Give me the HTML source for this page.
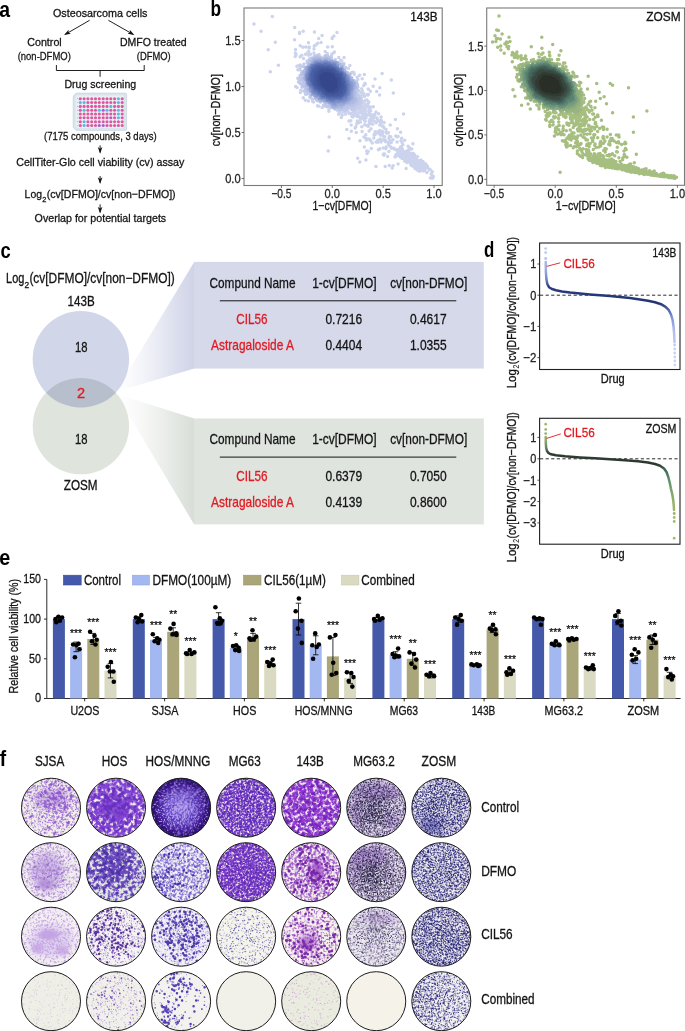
<!DOCTYPE html>
<html lang="en"><head><meta charset="utf-8"><title>Figure</title>
<style>
html,body{margin:0;padding:0;background:#fff}
svg{display:block;font-family:'Liberation Sans', sans-serif;fill:#141414}
</style></head><body>
<svg width="685" height="1031" viewBox="0 0 685 1031">
<defs>
<marker id="ah" viewBox="0 0 10 10" refX="8" refY="5" markerWidth="7" markerHeight="7" orient="auto-start-reverse"><path d="M0,1.5 L10,5 L0,8.5 L2.5,5 z" fill="#141414"/></marker>
<linearGradient id="fg1" gradientUnits="userSpaceOnUse" x1="118" y1="0" x2="194" y2="0"><stop offset="0" stop-color="#dcdfee" stop-opacity="0"/><stop offset="0.3" stop-color="#dcdfee" stop-opacity="0.3"/><stop offset="0.75" stop-color="#d6d9ea" stop-opacity="0.85"/><stop offset="1" stop-color="#cfd3e6" stop-opacity="1"/></linearGradient>
<linearGradient id="fg2" gradientUnits="userSpaceOnUse" x1="118" y1="0" x2="194" y2="0"><stop offset="0" stop-color="#e4e8e3" stop-opacity="0"/><stop offset="0.3" stop-color="#e4e8e3" stop-opacity="0.3"/><stop offset="0.75" stop-color="#dfe4df" stop-opacity="0.85"/><stop offset="1" stop-color="#d8ddd7" stop-opacity="1"/></linearGradient>
<clipPath id="lens"><circle cx="80.9" cy="426.1" r="48.2"/></clipPath>
<linearGradient id="dgA" gradientUnits="userSpaceOnUse" x1="0" y1="243" x2="0" y2="369.5"><stop offset="0.000" stop-color="#b9c5ee"/><stop offset="0.198" stop-color="#a3b2e6"/><stop offset="0.292" stop-color="#6d80c4"/><stop offset="0.348" stop-color="#2a3c80"/><stop offset="0.474" stop-color="#23346f"/><stop offset="0.522" stop-color="#4b5fa8"/><stop offset="0.593" stop-color="#8497d6"/><stop offset="0.704" stop-color="#b3c0ec"/><stop offset="1.000" stop-color="#cdd7f4"/></linearGradient>
<linearGradient id="dgB" gradientUnits="userSpaceOnUse" x1="0" y1="418.3" x2="0" y2="544.2"><stop offset="0.000" stop-color="#a3bb70"/><stop offset="0.172" stop-color="#93ae6b"/><stop offset="0.236" stop-color="#5c8268"/><stop offset="0.276" stop-color="#2f3d33"/><stop offset="0.363" stop-color="#2c382f"/><stop offset="0.411" stop-color="#3f6a58"/><stop offset="0.490" stop-color="#5f9070"/><stop offset="0.585" stop-color="#7fa56c"/><stop offset="0.689" stop-color="#9bb46c"/><stop offset="0.997" stop-color="#a3bb70"/></linearGradient>
<filter id="bl3" x="-0.5" y="-0.5" width="2" height="2"><feGaussianBlur stdDeviation="3"/></filter>
<filter id="bl5" x="-0.5" y="-0.5" width="2" height="2"><feGaussianBlur stdDeviation="5"/></filter>
<filter id="bl2" x="-0.5" y="-0.5" width="2" height="2"><feGaussianBlur stdDeviation="1.8"/></filter>
<clipPath id="wc1"><circle cx="51.0" cy="807.7" r="29.6"/></clipPath>
<filter id="wf1_0" x="0" y="0" width="1" height="1" color-interpolation-filters="sRGB"><feTurbulence type="fractalNoise" baseFrequency="0.6" numOctaves="3" seed="11" result="t"/><feColorMatrix in="t" type="matrix" values="0 0 0 0 0 0 0 0 0 0 0 0 0 0 0 1 0 0 0 0" result="n"/><feColorMatrix in="SourceGraphic" type="matrix" values="0 0 0 0 0 0 0 0 0 0 0 0 0 0 0 0 0 0 1 0" result="s"/><feComposite in="n" in2="s" operator="arithmetic" k1="0" k2="1" k3="1" k4="-1" result="m"/><feComponentTransfer in="m" result="m2"><feFuncA type="linear" slope="9" intercept="0"/></feComponentTransfer><feFlood flood-color="#a070d4" result="c"/><feComposite in="c" in2="m2" operator="in" result="o"/><feGaussianBlur in="o" stdDeviation="0.3"/></filter>
<radialGradient id="wg1_0" cx="0.5" cy="0.38" r="0.55"><stop offset="0" stop-color="#000" stop-opacity="0.55"/><stop offset="1" stop-color="#000" stop-opacity="0.44"/></radialGradient>
<filter id="wf1_1" x="0" y="0" width="1" height="1" color-interpolation-filters="sRGB"><feTurbulence type="fractalNoise" baseFrequency="0.3" numOctaves="3" seed="12" result="t"/><feColorMatrix in="t" type="matrix" values="0 0 0 0 0 0 0 0 0 0 0 0 0 0 0 1 0 0 0 0" result="n"/><feColorMatrix in="SourceGraphic" type="matrix" values="0 0 0 0 0 0 0 0 0 0 0 0 0 0 0 0 0 0 1 0" result="s"/><feComposite in="n" in2="s" operator="arithmetic" k1="0" k2="1" k3="1" k4="-1" result="m"/><feComponentTransfer in="m" result="m2"><feFuncA type="linear" slope="9" intercept="0"/></feComponentTransfer><feFlood flood-color="#8c58cc" result="c"/><feComposite in="c" in2="m2" operator="in" result="o"/><feGaussianBlur in="o" stdDeviation="0.3"/></filter>
<radialGradient id="wg1_1" cx="0.5" cy="0.35" r="0.5"><stop offset="0" stop-color="#000" stop-opacity="0.53"/><stop offset="1" stop-color="#000" stop-opacity="0.37"/></radialGradient>
<clipPath id="wc2"><circle cx="116.05" cy="807.7" r="29.6"/></clipPath>
<filter id="wf2_0" x="0" y="0" width="1" height="1" color-interpolation-filters="sRGB"><feTurbulence type="fractalNoise" baseFrequency="0.27" numOctaves="3" seed="21" result="t"/><feColorMatrix in="t" type="matrix" values="0 0 0 0 0 0 0 0 0 0 0 0 0 0 0 1 0 0 0 0" result="n"/><feColorMatrix in="SourceGraphic" type="matrix" values="0 0 0 0 0 0 0 0 0 0 0 0 0 0 0 0 0 0 1 0" result="s"/><feComposite in="n" in2="s" operator="arithmetic" k1="0" k2="1" k3="1" k4="-1" result="m"/><feComponentTransfer in="m" result="m2"><feFuncA type="linear" slope="9" intercept="0"/></feComponentTransfer><feFlood flood-color="#8644d4" result="c"/><feComposite in="c" in2="m2" operator="in" result="o"/><feGaussianBlur in="o" stdDeviation="0.3"/></filter>
<radialGradient id="wg2_0" cx="0.45" cy="0.5" r="0.5"><stop offset="0" stop-color="#000" stop-opacity="0.71"/><stop offset="1" stop-color="#000" stop-opacity="0.58"/></radialGradient>
<filter id="wf2_1" x="0" y="0" width="1" height="1" color-interpolation-filters="sRGB"><feTurbulence type="fractalNoise" baseFrequency="0.27" numOctaves="3" seed="21" result="t"/><feColorMatrix in="t" type="matrix" values="0 0 0 0 0 0 0 0 0 0 0 0 0 0 0 1 0 0 0 0" result="n"/><feColorMatrix in="SourceGraphic" type="matrix" values="0 0 0 0 0 0 0 0 0 0 0 0 0 0 0 0 0 0 1 0" result="s"/><feComposite in="n" in2="s" operator="arithmetic" k1="0" k2="1" k3="1" k4="-1" result="m"/><feComponentTransfer in="m" result="m2"><feFuncA type="linear" slope="9" intercept="0"/></feComponentTransfer><feFlood flood-color="#6630c0" result="c"/><feComposite in="c" in2="m2" operator="in" result="o"/><feGaussianBlur in="o" stdDeviation="0.3"/></filter>
<radialGradient id="wg2_1" cx="0.45" cy="0.5" r="0.5"><stop offset="0" stop-color="#000" stop-opacity="0.59"/><stop offset="1" stop-color="#000" stop-opacity="0.45"/></radialGradient>
<clipPath id="wc3"><circle cx="181.1" cy="807.7" r="29.6"/></clipPath>
<filter id="wf3_0" x="0" y="0" width="1" height="1" color-interpolation-filters="sRGB"><feTurbulence type="fractalNoise" baseFrequency="0.3" numOctaves="3" seed="32" result="t"/><feColorMatrix in="t" type="matrix" values="0 0 0 0 0 0 0 0 0 0 0 0 0 0 0 1 0 0 0 0" result="n"/><feColorMatrix in="SourceGraphic" type="matrix" values="0 0 0 0 0 0 0 0 0 0 0 0 0 0 0 0 0 0 1 0" result="s"/><feComposite in="n" in2="s" operator="arithmetic" k1="0" k2="1" k3="1" k4="-1" result="m"/><feComponentTransfer in="m" result="m2"><feFuncA type="linear" slope="9" intercept="0"/></feComponentTransfer><feFlood flood-color="#7a58d2" result="c"/><feComposite in="c" in2="m2" operator="in" result="o"/><feGaussianBlur in="o" stdDeviation="0.3"/></filter>
<radialGradient id="wg3_0" cx="0.5" cy="0.5" r="0.5"><stop offset="0" stop-color="#000" stop-opacity="0.62"/><stop offset="1" stop-color="#000" stop-opacity="0.34"/></radialGradient>
<filter id="wf3_1" x="0" y="0" width="1" height="1" color-interpolation-filters="sRGB"><feTurbulence type="fractalNoise" baseFrequency="0.7" numOctaves="3" seed="31" result="t"/><feColorMatrix in="t" type="matrix" values="0 0 0 0 0 0 0 0 0 0 0 0 0 0 0 1 0 0 0 0" result="n"/><feColorMatrix in="SourceGraphic" type="matrix" values="0 0 0 0 0 0 0 0 0 0 0 0 0 0 0 0 0 0 1 0" result="s"/><feComposite in="n" in2="s" operator="arithmetic" k1="0" k2="1" k3="1" k4="-1" result="m"/><feComponentTransfer in="m" result="m2"><feFuncA type="linear" slope="9" intercept="0"/></feComponentTransfer><feFlood flood-color="#b4a2ee" result="c"/><feComposite in="c" in2="m2" operator="in" result="o"/><feGaussianBlur in="o" stdDeviation="0.3"/></filter>
<radialGradient id="wg3_1" cx="0.5" cy="0.5" r="0.5"><stop offset="0" stop-color="#000" stop-opacity="0.62"/><stop offset="1" stop-color="#000" stop-opacity="0.38"/></radialGradient>
<clipPath id="wc4"><circle cx="246.14999999999998" cy="807.7" r="29.6"/></clipPath>
<filter id="wf4_0" x="0" y="0" width="1" height="1" color-interpolation-filters="sRGB"><feTurbulence type="fractalNoise" baseFrequency="0.55" numOctaves="3" seed="41" result="t"/><feColorMatrix in="t" type="matrix" values="0 0 0 0 0 0 0 0 0 0 0 0 0 0 0 1 0 0 0 0" result="n"/><feColorMatrix in="SourceGraphic" type="matrix" values="0 0 0 0 0 0 0 0 0 0 0 0 0 0 0 0 0 0 1 0" result="s"/><feComposite in="n" in2="s" operator="arithmetic" k1="0" k2="1" k3="1" k4="-1" result="m"/><feComponentTransfer in="m" result="m2"><feFuncA type="linear" slope="9" intercept="0"/></feComponentTransfer><feFlood flood-color="#7638cc" result="c"/><feComposite in="c" in2="m2" operator="in" result="o"/><feGaussianBlur in="o" stdDeviation="0.3"/></filter>
<filter id="wf4_1" x="0" y="0" width="1" height="1" color-interpolation-filters="sRGB"><feTurbulence type="fractalNoise" baseFrequency="0.55" numOctaves="3" seed="41" result="t"/><feColorMatrix in="t" type="matrix" values="0 0 0 0 0 0 0 0 0 0 0 0 0 0 0 1 0 0 0 0" result="n"/><feColorMatrix in="SourceGraphic" type="matrix" values="0 0 0 0 0 0 0 0 0 0 0 0 0 0 0 0 0 0 1 0" result="s"/><feComposite in="n" in2="s" operator="arithmetic" k1="0" k2="1" k3="1" k4="-1" result="m"/><feComponentTransfer in="m" result="m2"><feFuncA type="linear" slope="9" intercept="0"/></feComponentTransfer><feFlood flood-color="#5222aa" result="c"/><feComposite in="c" in2="m2" operator="in" result="o"/><feGaussianBlur in="o" stdDeviation="0.3"/></filter>
<clipPath id="wc5"><circle cx="311.2" cy="807.7" r="29.6"/></clipPath>
<filter id="wf5_0" x="0" y="0" width="1" height="1" color-interpolation-filters="sRGB"><feTurbulence type="fractalNoise" baseFrequency="0.3" numOctaves="3" seed="51" result="t"/><feColorMatrix in="t" type="matrix" values="0 0 0 0 0 0 0 0 0 0 0 0 0 0 0 1 0 0 0 0" result="n"/><feColorMatrix in="SourceGraphic" type="matrix" values="0 0 0 0 0 0 0 0 0 0 0 0 0 0 0 0 0 0 1 0" result="s"/><feComposite in="n" in2="s" operator="arithmetic" k1="0" k2="1" k3="1" k4="-1" result="m"/><feComponentTransfer in="m" result="m2"><feFuncA type="linear" slope="9" intercept="0"/></feComponentTransfer><feFlood flood-color="#9238d2" result="c"/><feComposite in="c" in2="m2" operator="in" result="o"/><feGaussianBlur in="o" stdDeviation="0.3"/></filter>
<radialGradient id="wg5_0" cx="0.5" cy="0.5" r="0.5"><stop offset="0" stop-color="#000" stop-opacity="0.62"/><stop offset="1" stop-color="#000" stop-opacity="0.58"/></radialGradient>
<filter id="wf5_1" x="0" y="0" width="1" height="1" color-interpolation-filters="sRGB"><feTurbulence type="fractalNoise" baseFrequency="0.3" numOctaves="3" seed="51" result="t"/><feColorMatrix in="t" type="matrix" values="0 0 0 0 0 0 0 0 0 0 0 0 0 0 0 1 0 0 0 0" result="n"/><feColorMatrix in="SourceGraphic" type="matrix" values="0 0 0 0 0 0 0 0 0 0 0 0 0 0 0 0 0 0 1 0" result="s"/><feComposite in="n" in2="s" operator="arithmetic" k1="0" k2="1" k3="1" k4="-1" result="m"/><feComponentTransfer in="m" result="m2"><feFuncA type="linear" slope="9" intercept="0"/></feComponentTransfer><feFlood flood-color="#7222b8" result="c"/><feComposite in="c" in2="m2" operator="in" result="o"/><feGaussianBlur in="o" stdDeviation="0.3"/></filter>
<radialGradient id="wg5_1" cx="0.5" cy="0.5" r="0.5"><stop offset="0" stop-color="#000" stop-opacity="0.51"/><stop offset="1" stop-color="#000" stop-opacity="0.47"/></radialGradient>
<clipPath id="wc6"><circle cx="376.25" cy="807.7" r="29.6"/></clipPath>
<filter id="wf6_0" x="0" y="0" width="1" height="1" color-interpolation-filters="sRGB"><feTurbulence type="fractalNoise" baseFrequency="0.8" numOctaves="3" seed="61" result="t"/><feColorMatrix in="t" type="matrix" values="0 0 0 0 0 0 0 0 0 0 0 0 0 0 0 1 0 0 0 0" result="n"/><feColorMatrix in="SourceGraphic" type="matrix" values="0 0 0 0 0 0 0 0 0 0 0 0 0 0 0 0 0 0 1 0" result="s"/><feComposite in="n" in2="s" operator="arithmetic" k1="0" k2="1" k3="1" k4="-1" result="m"/><feComponentTransfer in="m" result="m2"><feFuncA type="linear" slope="9" intercept="0"/></feComponentTransfer><feFlood flood-color="#7f6aa8" result="c"/><feComposite in="c" in2="m2" operator="in" result="o"/><feGaussianBlur in="o" stdDeviation="0.3"/></filter>
<radialGradient id="wg6_0" cx="0.5" cy="0.5" r="0.5"><stop offset="0" stop-color="#000" stop-opacity="0.52"/><stop offset="1" stop-color="#000" stop-opacity="0.48"/></radialGradient>
<filter id="wf6_1" x="0" y="0" width="1" height="1" color-interpolation-filters="sRGB"><feTurbulence type="fractalNoise" baseFrequency="0.8" numOctaves="3" seed="62" result="t"/><feColorMatrix in="t" type="matrix" values="0 0 0 0 0 0 0 0 0 0 0 0 0 0 0 1 0 0 0 0" result="n"/><feColorMatrix in="SourceGraphic" type="matrix" values="0 0 0 0 0 0 0 0 0 0 0 0 0 0 0 0 0 0 1 0" result="s"/><feComposite in="n" in2="s" operator="arithmetic" k1="0" k2="1" k3="1" k4="-1" result="m"/><feComponentTransfer in="m" result="m2"><feFuncA type="linear" slope="9" intercept="0"/></feComponentTransfer><feFlood flood-color="#2a2648" result="c"/><feComposite in="c" in2="m2" operator="in" result="o"/><feGaussianBlur in="o" stdDeviation="0.3"/></filter>
<radialGradient id="wg6_1" cx="0.45" cy="0.55" r="0.5"><stop offset="0" stop-color="#000" stop-opacity="0.6"/><stop offset="1" stop-color="#000" stop-opacity="0.45"/></radialGradient>
<clipPath id="wc7"><circle cx="441.29999999999995" cy="807.7" r="29.6"/></clipPath>
<filter id="wf7_0" x="0" y="0" width="1" height="1" color-interpolation-filters="sRGB"><feTurbulence type="fractalNoise" baseFrequency="0.8" numOctaves="3" seed="71" result="t"/><feColorMatrix in="t" type="matrix" values="0 0 0 0 0 0 0 0 0 0 0 0 0 0 0 1 0 0 0 0" result="n"/><feColorMatrix in="SourceGraphic" type="matrix" values="0 0 0 0 0 0 0 0 0 0 0 0 0 0 0 0 0 0 1 0" result="s"/><feComposite in="n" in2="s" operator="arithmetic" k1="0" k2="1" k3="1" k4="-1" result="m"/><feComponentTransfer in="m" result="m2"><feFuncA type="linear" slope="9" intercept="0"/></feComponentTransfer><feFlood flood-color="#7a76b6" result="c"/><feComposite in="c" in2="m2" operator="in" result="o"/><feGaussianBlur in="o" stdDeviation="0.3"/></filter>
<filter id="wf7_1" x="0" y="0" width="1" height="1" color-interpolation-filters="sRGB"><feTurbulence type="fractalNoise" baseFrequency="0.8" numOctaves="3" seed="72" result="t"/><feColorMatrix in="t" type="matrix" values="0 0 0 0 0 0 0 0 0 0 0 0 0 0 0 1 0 0 0 0" result="n"/><feColorMatrix in="SourceGraphic" type="matrix" values="0 0 0 0 0 0 0 0 0 0 0 0 0 0 0 0 0 0 1 0" result="s"/><feComposite in="n" in2="s" operator="arithmetic" k1="0" k2="1" k3="1" k4="-1" result="m"/><feComponentTransfer in="m" result="m2"><feFuncA type="linear" slope="12" intercept="0"/></feComponentTransfer><feFlood flood-color="#25236f" result="c"/><feComposite in="c" in2="m2" operator="in" result="o"/><feGaussianBlur in="o" stdDeviation="0.3"/></filter>
<radialGradient id="wg7_1" cx="0.5" cy="0.5" r="0.5"><stop offset="0" stop-color="#000" stop-opacity="0.52"/><stop offset="1" stop-color="#000" stop-opacity="0.49"/></radialGradient>
<clipPath id="wc8"><circle cx="51.0" cy="872.2" r="29.6"/></clipPath>
<filter id="wf8_0" x="0" y="0" width="1" height="1" color-interpolation-filters="sRGB"><feTurbulence type="fractalNoise" baseFrequency="0.55" numOctaves="3" seed="13" result="t"/><feColorMatrix in="t" type="matrix" values="0 0 0 0 0 0 0 0 0 0 0 0 0 0 0 1 0 0 0 0" result="n"/><feColorMatrix in="SourceGraphic" type="matrix" values="0 0 0 0 0 0 0 0 0 0 0 0 0 0 0 0 0 0 1 0" result="s"/><feComposite in="n" in2="s" operator="arithmetic" k1="0" k2="1" k3="1" k4="-1" result="m"/><feComponentTransfer in="m" result="m2"><feFuncA type="linear" slope="9" intercept="0"/></feComponentTransfer><feFlood flood-color="#b493da" result="c"/><feComposite in="c" in2="m2" operator="in" result="o"/><feGaussianBlur in="o" stdDeviation="0.3"/></filter>
<radialGradient id="wg8_0" cx="0.45" cy="0.5" r="0.55"><stop offset="0" stop-color="#000" stop-opacity="0.56"/><stop offset="1" stop-color="#000" stop-opacity="0.44"/></radialGradient>
<filter id="wf8_1" x="0" y="0" width="1" height="1" color-interpolation-filters="sRGB"><feTurbulence type="fractalNoise" baseFrequency="0.35" numOctaves="3" seed="14" result="t"/><feColorMatrix in="t" type="matrix" values="0 0 0 0 0 0 0 0 0 0 0 0 0 0 0 1 0 0 0 0" result="n"/><feColorMatrix in="SourceGraphic" type="matrix" values="0 0 0 0 0 0 0 0 0 0 0 0 0 0 0 0 0 0 1 0" result="s"/><feComposite in="n" in2="s" operator="arithmetic" k1="0" k2="1" k3="1" k4="-1" result="m"/><feComponentTransfer in="m" result="m2"><feFuncA type="linear" slope="9" intercept="0"/></feComponentTransfer><feFlood flood-color="#9a6ecc" result="c"/><feComposite in="c" in2="m2" operator="in" result="o"/><feGaussianBlur in="o" stdDeviation="0.3"/></filter>
<radialGradient id="wg8_1" cx="0.5" cy="0.5" r="0.5"><stop offset="0" stop-color="#000" stop-opacity="0.47"/><stop offset="1" stop-color="#000" stop-opacity="0.33"/></radialGradient>
<clipPath id="wc9"><circle cx="116.05" cy="872.2" r="29.6"/></clipPath>
<filter id="wf9_0" x="0" y="0" width="1" height="1" color-interpolation-filters="sRGB"><feTurbulence type="fractalNoise" baseFrequency="0.3" numOctaves="3" seed="23" result="t"/><feColorMatrix in="t" type="matrix" values="0 0 0 0 0 0 0 0 0 0 0 0 0 0 0 1 0 0 0 0" result="n"/><feColorMatrix in="SourceGraphic" type="matrix" values="0 0 0 0 0 0 0 0 0 0 0 0 0 0 0 0 0 0 1 0" result="s"/><feComposite in="n" in2="s" operator="arithmetic" k1="0" k2="1" k3="1" k4="-1" result="m"/><feComponentTransfer in="m" result="m2"><feFuncA type="linear" slope="9" intercept="0"/></feComponentTransfer><feFlood flood-color="#6e4ac0" result="c"/><feComposite in="c" in2="m2" operator="in" result="o"/><feGaussianBlur in="o" stdDeviation="0.3"/></filter>
<radialGradient id="wg9_0" cx="0.36" cy="0.5" r="0.62"><stop offset="0" stop-color="#000" stop-opacity="0.7"/><stop offset="1" stop-color="#000" stop-opacity="0.47"/></radialGradient>
<filter id="wf9_1" x="0" y="0" width="1" height="1" color-interpolation-filters="sRGB"><feTurbulence type="fractalNoise" baseFrequency="0.3" numOctaves="3" seed="23" result="t"/><feColorMatrix in="t" type="matrix" values="0 0 0 0 0 0 0 0 0 0 0 0 0 0 0 1 0 0 0 0" result="n"/><feColorMatrix in="SourceGraphic" type="matrix" values="0 0 0 0 0 0 0 0 0 0 0 0 0 0 0 0 0 0 1 0" result="s"/><feComposite in="n" in2="s" operator="arithmetic" k1="0" k2="1" k3="1" k4="-1" result="m"/><feComponentTransfer in="m" result="m2"><feFuncA type="linear" slope="9" intercept="0"/></feComponentTransfer><feFlood flood-color="#4c32a6" result="c"/><feComposite in="c" in2="m2" operator="in" result="o"/><feGaussianBlur in="o" stdDeviation="0.3"/></filter>
<radialGradient id="wg9_1" cx="0.36" cy="0.5" r="0.62"><stop offset="0" stop-color="#000" stop-opacity="0.56"/><stop offset="1" stop-color="#000" stop-opacity="0.38"/></radialGradient>
<clipPath id="wc10"><circle cx="181.1" cy="872.2" r="29.6"/></clipPath>
<filter id="wf10_0" x="0" y="0" width="1" height="1" color-interpolation-filters="sRGB"><feTurbulence type="fractalNoise" baseFrequency="0.45" numOctaves="3" seed="33" result="t"/><feColorMatrix in="t" type="matrix" values="0 0 0 0 0 0 0 0 0 0 0 0 0 0 0 1 0 0 0 0" result="n"/><feColorMatrix in="SourceGraphic" type="matrix" values="0 0 0 0 0 0 0 0 0 0 0 0 0 0 0 0 0 0 1 0" result="s"/><feComposite in="n" in2="s" operator="arithmetic" k1="0" k2="1" k3="1" k4="-1" result="m"/><feComponentTransfer in="m" result="m2"><feFuncA type="linear" slope="9" intercept="0"/></feComponentTransfer><feFlood flood-color="#7e6cd2" result="c"/><feComposite in="c" in2="m2" operator="in" result="o"/><feGaussianBlur in="o" stdDeviation="0.3"/></filter>
<radialGradient id="wg10_0" cx="0.5" cy="0.5" r="0.5"><stop offset="0" stop-color="#000" stop-opacity="0.55"/><stop offset="1" stop-color="#000" stop-opacity="0.52"/></radialGradient>
<clipPath id="wc11"><circle cx="246.14999999999998" cy="872.2" r="29.6"/></clipPath>
<filter id="wf11_0" x="0" y="0" width="1" height="1" color-interpolation-filters="sRGB"><feTurbulence type="fractalNoise" baseFrequency="0.55" numOctaves="3" seed="43" result="t"/><feColorMatrix in="t" type="matrix" values="0 0 0 0 0 0 0 0 0 0 0 0 0 0 0 1 0 0 0 0" result="n"/><feColorMatrix in="SourceGraphic" type="matrix" values="0 0 0 0 0 0 0 0 0 0 0 0 0 0 0 0 0 0 1 0" result="s"/><feComposite in="n" in2="s" operator="arithmetic" k1="0" k2="1" k3="1" k4="-1" result="m"/><feComponentTransfer in="m" result="m2"><feFuncA type="linear" slope="9" intercept="0"/></feComponentTransfer><feFlood flood-color="#7c3ccc" result="c"/><feComposite in="c" in2="m2" operator="in" result="o"/><feGaussianBlur in="o" stdDeviation="0.3"/></filter>
<radialGradient id="wg11_0" cx="0.5" cy="0.5" r="0.5"><stop offset="0" stop-color="#000" stop-opacity="0.63"/><stop offset="1" stop-color="#000" stop-opacity="0.61"/></radialGradient>
<filter id="wf11_1" x="0" y="0" width="1" height="1" color-interpolation-filters="sRGB"><feTurbulence type="fractalNoise" baseFrequency="0.55" numOctaves="3" seed="43" result="t"/><feColorMatrix in="t" type="matrix" values="0 0 0 0 0 0 0 0 0 0 0 0 0 0 0 1 0 0 0 0" result="n"/><feColorMatrix in="SourceGraphic" type="matrix" values="0 0 0 0 0 0 0 0 0 0 0 0 0 0 0 0 0 0 1 0" result="s"/><feComposite in="n" in2="s" operator="arithmetic" k1="0" k2="1" k3="1" k4="-1" result="m"/><feComponentTransfer in="m" result="m2"><feFuncA type="linear" slope="9" intercept="0"/></feComponentTransfer><feFlood flood-color="#5c24b0" result="c"/><feComposite in="c" in2="m2" operator="in" result="o"/><feGaussianBlur in="o" stdDeviation="0.3"/></filter>
<radialGradient id="wg11_1" cx="0.5" cy="0.5" r="0.5"><stop offset="0" stop-color="#000" stop-opacity="0.52"/><stop offset="1" stop-color="#000" stop-opacity="0.5"/></radialGradient>
<clipPath id="wc12"><circle cx="311.2" cy="872.2" r="29.6"/></clipPath>
<filter id="wf12_0" x="0" y="0" width="1" height="1" color-interpolation-filters="sRGB"><feTurbulence type="fractalNoise" baseFrequency="0.45" numOctaves="3" seed="53" result="t"/><feColorMatrix in="t" type="matrix" values="0 0 0 0 0 0 0 0 0 0 0 0 0 0 0 1 0 0 0 0" result="n"/><feColorMatrix in="SourceGraphic" type="matrix" values="0 0 0 0 0 0 0 0 0 0 0 0 0 0 0 0 0 0 1 0" result="s"/><feComposite in="n" in2="s" operator="arithmetic" k1="0" k2="1" k3="1" k4="-1" result="m"/><feComponentTransfer in="m" result="m2"><feFuncA type="linear" slope="9" intercept="0"/></feComponentTransfer><feFlood flood-color="#a05cc8" result="c"/><feComposite in="c" in2="m2" operator="in" result="o"/><feGaussianBlur in="o" stdDeviation="0.3"/></filter>
<radialGradient id="wg12_0" cx="0.5" cy="0.5" r="0.5"><stop offset="0" stop-color="#000" stop-opacity="0.58"/><stop offset="1" stop-color="#000" stop-opacity="0.52"/></radialGradient>
<clipPath id="wc13"><circle cx="376.25" cy="872.2" r="29.6"/></clipPath>
<filter id="wf13_0" x="0" y="0" width="1" height="1" color-interpolation-filters="sRGB"><feTurbulence type="fractalNoise" baseFrequency="0.8" numOctaves="3" seed="63" result="t"/><feColorMatrix in="t" type="matrix" values="0 0 0 0 0 0 0 0 0 0 0 0 0 0 0 1 0 0 0 0" result="n"/><feColorMatrix in="SourceGraphic" type="matrix" values="0 0 0 0 0 0 0 0 0 0 0 0 0 0 0 0 0 0 1 0" result="s"/><feComposite in="n" in2="s" operator="arithmetic" k1="0" k2="1" k3="1" k4="-1" result="m"/><feComponentTransfer in="m" result="m2"><feFuncA type="linear" slope="9" intercept="0"/></feComponentTransfer><feFlood flood-color="#7f6aa8" result="c"/><feComposite in="c" in2="m2" operator="in" result="o"/><feGaussianBlur in="o" stdDeviation="0.3"/></filter>
<radialGradient id="wg13_0" cx="0.5" cy="0.5" r="0.5"><stop offset="0" stop-color="#000" stop-opacity="0.52"/><stop offset="1" stop-color="#000" stop-opacity="0.48"/></radialGradient>
<filter id="wf13_1" x="0" y="0" width="1" height="1" color-interpolation-filters="sRGB"><feTurbulence type="fractalNoise" baseFrequency="0.8" numOctaves="3" seed="64" result="t"/><feColorMatrix in="t" type="matrix" values="0 0 0 0 0 0 0 0 0 0 0 0 0 0 0 1 0 0 0 0" result="n"/><feColorMatrix in="SourceGraphic" type="matrix" values="0 0 0 0 0 0 0 0 0 0 0 0 0 0 0 0 0 0 1 0" result="s"/><feComposite in="n" in2="s" operator="arithmetic" k1="0" k2="1" k3="1" k4="-1" result="m"/><feComponentTransfer in="m" result="m2"><feFuncA type="linear" slope="9" intercept="0"/></feComponentTransfer><feFlood flood-color="#2a2648" result="c"/><feComposite in="c" in2="m2" operator="in" result="o"/><feGaussianBlur in="o" stdDeviation="0.3"/></filter>
<radialGradient id="wg13_1" cx="0.55" cy="0.55" r="0.5"><stop offset="0" stop-color="#000" stop-opacity="0.6"/><stop offset="1" stop-color="#000" stop-opacity="0.45"/></radialGradient>
<clipPath id="wc14"><circle cx="441.29999999999995" cy="872.2" r="29.6"/></clipPath>
<filter id="wf14_0" x="0" y="0" width="1" height="1" color-interpolation-filters="sRGB"><feTurbulence type="fractalNoise" baseFrequency="0.8" numOctaves="3" seed="73" result="t"/><feColorMatrix in="t" type="matrix" values="0 0 0 0 0 0 0 0 0 0 0 0 0 0 0 1 0 0 0 0" result="n"/><feColorMatrix in="SourceGraphic" type="matrix" values="0 0 0 0 0 0 0 0 0 0 0 0 0 0 0 0 0 0 1 0" result="s"/><feComposite in="n" in2="s" operator="arithmetic" k1="0" k2="1" k3="1" k4="-1" result="m"/><feComponentTransfer in="m" result="m2"><feFuncA type="linear" slope="9" intercept="0"/></feComponentTransfer><feFlood flood-color="#807cb8" result="c"/><feComposite in="c" in2="m2" operator="in" result="o"/><feGaussianBlur in="o" stdDeviation="0.3"/></filter>
<filter id="wf14_1" x="0" y="0" width="1" height="1" color-interpolation-filters="sRGB"><feTurbulence type="fractalNoise" baseFrequency="0.8" numOctaves="3" seed="74" result="t"/><feColorMatrix in="t" type="matrix" values="0 0 0 0 0 0 0 0 0 0 0 0 0 0 0 1 0 0 0 0" result="n"/><feColorMatrix in="SourceGraphic" type="matrix" values="0 0 0 0 0 0 0 0 0 0 0 0 0 0 0 0 0 0 1 0" result="s"/><feComposite in="n" in2="s" operator="arithmetic" k1="0" k2="1" k3="1" k4="-1" result="m"/><feComponentTransfer in="m" result="m2"><feFuncA type="linear" slope="12" intercept="0"/></feComponentTransfer><feFlood flood-color="#282672" result="c"/><feComposite in="c" in2="m2" operator="in" result="o"/><feGaussianBlur in="o" stdDeviation="0.3"/></filter>
<radialGradient id="wg14_1" cx="0.5" cy="0.5" r="0.5"><stop offset="0" stop-color="#000" stop-opacity="0.51"/><stop offset="1" stop-color="#000" stop-opacity="0.49"/></radialGradient>
<clipPath id="wc15"><circle cx="51.0" cy="936.7" r="29.6"/></clipPath>
<filter id="wf15_0" x="0" y="0" width="1" height="1" color-interpolation-filters="sRGB"><feTurbulence type="fractalNoise" baseFrequency="0.55" numOctaves="3" seed="15" result="t"/><feColorMatrix in="t" type="matrix" values="0 0 0 0 0 0 0 0 0 0 0 0 0 0 0 1 0 0 0 0" result="n"/><feColorMatrix in="SourceGraphic" type="matrix" values="0 0 0 0 0 0 0 0 0 0 0 0 0 0 0 0 0 0 1 0" result="s"/><feComposite in="n" in2="s" operator="arithmetic" k1="0" k2="1" k3="1" k4="-1" result="m"/><feComponentTransfer in="m" result="m2"><feFuncA type="linear" slope="9" intercept="0"/></feComponentTransfer><feFlood flood-color="#c0a2e2" result="c"/><feComposite in="c" in2="m2" operator="in" result="o"/><feGaussianBlur in="o" stdDeviation="0.3"/></filter>
<radialGradient id="wg15_0" cx="0.5" cy="0.55" r="0.55"><stop offset="0" stop-color="#000" stop-opacity="0.54"/><stop offset="1" stop-color="#000" stop-opacity="0.42"/></radialGradient>
<clipPath id="wc16"><circle cx="116.05" cy="936.7" r="29.6"/></clipPath>
<filter id="wf16_0" x="0" y="0" width="1" height="1" color-interpolation-filters="sRGB"><feTurbulence type="fractalNoise" baseFrequency="0.8" numOctaves="3" seed="25" result="t"/><feColorMatrix in="t" type="matrix" values="0 0 0 0 0 0 0 0 0 0 0 0 0 0 0 1 0 0 0 0" result="n"/><feColorMatrix in="SourceGraphic" type="matrix" values="0 0 0 0 0 0 0 0 0 0 0 0 0 0 0 0 0 0 1 0" result="s"/><feComposite in="n" in2="s" operator="arithmetic" k1="0" k2="1" k3="1" k4="-1" result="m"/><feComponentTransfer in="m" result="m2"><feFuncA type="linear" slope="9" intercept="0"/></feComponentTransfer><feFlood flood-color="#9b86c8" result="c"/><feComposite in="c" in2="m2" operator="in" result="o"/><feGaussianBlur in="o" stdDeviation="0.3"/></filter>
<radialGradient id="wg16_0" cx="0.5" cy="0.5" r="0.5"><stop offset="0" stop-color="#000" stop-opacity="0.43"/><stop offset="1" stop-color="#000" stop-opacity="0.4"/></radialGradient>
<clipPath id="wc17"><circle cx="181.1" cy="936.7" r="29.6"/></clipPath>
<filter id="wf17_0" x="0" y="0" width="1" height="1" color-interpolation-filters="sRGB"><feTurbulence type="fractalNoise" baseFrequency="0.8" numOctaves="3" seed="35" result="t"/><feColorMatrix in="t" type="matrix" values="0 0 0 0 0 0 0 0 0 0 0 0 0 0 0 1 0 0 0 0" result="n"/><feColorMatrix in="SourceGraphic" type="matrix" values="0 0 0 0 0 0 0 0 0 0 0 0 0 0 0 0 0 0 1 0" result="s"/><feComposite in="n" in2="s" operator="arithmetic" k1="0" k2="1" k3="1" k4="-1" result="m"/><feComponentTransfer in="m" result="m2"><feFuncA type="linear" slope="9" intercept="0"/></feComponentTransfer><feFlood flood-color="#9a8cd4" result="c"/><feComposite in="c" in2="m2" operator="in" result="o"/><feGaussianBlur in="o" stdDeviation="0.3"/></filter>
<radialGradient id="wg17_0" cx="0.5" cy="0.5" r="0.5"><stop offset="0" stop-color="#000" stop-opacity="0.45"/><stop offset="1" stop-color="#000" stop-opacity="0.42"/></radialGradient>
<clipPath id="wc18"><circle cx="246.14999999999998" cy="936.7" r="29.6"/></clipPath>
<filter id="wf18_0" x="0" y="0" width="1" height="1" color-interpolation-filters="sRGB"><feTurbulence type="fractalNoise" baseFrequency="0.9" numOctaves="3" seed="45" result="t"/><feColorMatrix in="t" type="matrix" values="0 0 0 0 0 0 0 0 0 0 0 0 0 0 0 1 0 0 0 0" result="n"/><feColorMatrix in="SourceGraphic" type="matrix" values="0 0 0 0 0 0 0 0 0 0 0 0 0 0 0 0 0 0 1 0" result="s"/><feComposite in="n" in2="s" operator="arithmetic" k1="0" k2="1" k3="1" k4="-1" result="m"/><feComponentTransfer in="m" result="m2"><feFuncA type="linear" slope="9" intercept="0"/></feComponentTransfer><feFlood flood-color="#4f4c9e" result="c"/><feComposite in="c" in2="m2" operator="in" result="o"/><feGaussianBlur in="o" stdDeviation="0.3"/></filter>
<radialGradient id="wg18_0" cx="0.5" cy="0.5" r="0.5"><stop offset="0" stop-color="#000" stop-opacity="0.41"/><stop offset="1" stop-color="#000" stop-opacity="0.39"/></radialGradient>
<clipPath id="wc19"><circle cx="311.2" cy="936.7" r="29.6"/></clipPath>
<filter id="wf19_0" x="0" y="0" width="1" height="1" color-interpolation-filters="sRGB"><feTurbulence type="fractalNoise" baseFrequency="0.5" numOctaves="3" seed="55" result="t"/><feColorMatrix in="t" type="matrix" values="0 0 0 0 0 0 0 0 0 0 0 0 0 0 0 1 0 0 0 0" result="n"/><feColorMatrix in="SourceGraphic" type="matrix" values="0 0 0 0 0 0 0 0 0 0 0 0 0 0 0 0 0 0 1 0" result="s"/><feComposite in="n" in2="s" operator="arithmetic" k1="0" k2="1" k3="1" k4="-1" result="m"/><feComponentTransfer in="m" result="m2"><feFuncA type="linear" slope="9" intercept="0"/></feComponentTransfer><feFlood flood-color="#ac6cc8" result="c"/><feComposite in="c" in2="m2" operator="in" result="o"/><feGaussianBlur in="o" stdDeviation="0.3"/></filter>
<radialGradient id="wg19_0" cx="0.5" cy="0.5" r="0.5"><stop offset="0" stop-color="#000" stop-opacity="0.54"/><stop offset="1" stop-color="#000" stop-opacity="0.47"/></radialGradient>
<clipPath id="wc20"><circle cx="376.25" cy="936.7" r="29.6"/></clipPath>
<filter id="wf20_0" x="0" y="0" width="1" height="1" color-interpolation-filters="sRGB"><feTurbulence type="fractalNoise" baseFrequency="0.85" numOctaves="3" seed="65" result="t"/><feColorMatrix in="t" type="matrix" values="0 0 0 0 0 0 0 0 0 0 0 0 0 0 0 1 0 0 0 0" result="n"/><feColorMatrix in="SourceGraphic" type="matrix" values="0 0 0 0 0 0 0 0 0 0 0 0 0 0 0 0 0 0 1 0" result="s"/><feComposite in="n" in2="s" operator="arithmetic" k1="0" k2="1" k3="1" k4="-1" result="m"/><feComponentTransfer in="m" result="m2"><feFuncA type="linear" slope="9" intercept="0"/></feComponentTransfer><feFlood flood-color="#9a8cb6" result="c"/><feComposite in="c" in2="m2" operator="in" result="o"/><feGaussianBlur in="o" stdDeviation="0.3"/></filter>
<radialGradient id="wg20_0" cx="0.5" cy="0.5" r="0.5"><stop offset="0" stop-color="#000" stop-opacity="0.48"/><stop offset="1" stop-color="#000" stop-opacity="0.44"/></radialGradient>
<filter id="wf20_1" x="0" y="0" width="1" height="1" color-interpolation-filters="sRGB"><feTurbulence type="fractalNoise" baseFrequency="0.85" numOctaves="3" seed="66" result="t"/><feColorMatrix in="t" type="matrix" values="0 0 0 0 0 0 0 0 0 0 0 0 0 0 0 1 0 0 0 0" result="n"/><feColorMatrix in="SourceGraphic" type="matrix" values="0 0 0 0 0 0 0 0 0 0 0 0 0 0 0 0 0 0 1 0" result="s"/><feComposite in="n" in2="s" operator="arithmetic" k1="0" k2="1" k3="1" k4="-1" result="m"/><feComponentTransfer in="m" result="m2"><feFuncA type="linear" slope="9" intercept="0"/></feComponentTransfer><feFlood flood-color="#443e68" result="c"/><feComposite in="c" in2="m2" operator="in" result="o"/><feGaussianBlur in="o" stdDeviation="0.3"/></filter>
<radialGradient id="wg20_1" cx="0.42" cy="0.5" r="0.5"><stop offset="0" stop-color="#000" stop-opacity="0.5"/><stop offset="1" stop-color="#000" stop-opacity="0.4"/></radialGradient>
<clipPath id="wc21"><circle cx="441.29999999999995" cy="936.7" r="29.6"/></clipPath>
<filter id="wf21_0" x="0" y="0" width="1" height="1" color-interpolation-filters="sRGB"><feTurbulence type="fractalNoise" baseFrequency="0.8" numOctaves="3" seed="75" result="t"/><feColorMatrix in="t" type="matrix" values="0 0 0 0 0 0 0 0 0 0 0 0 0 0 0 1 0 0 0 0" result="n"/><feColorMatrix in="SourceGraphic" type="matrix" values="0 0 0 0 0 0 0 0 0 0 0 0 0 0 0 0 0 0 1 0" result="s"/><feComposite in="n" in2="s" operator="arithmetic" k1="0" k2="1" k3="1" k4="-1" result="m"/><feComponentTransfer in="m" result="m2"><feFuncA type="linear" slope="9" intercept="0"/></feComponentTransfer><feFlood flood-color="#7e7ab8" result="c"/><feComposite in="c" in2="m2" operator="in" result="o"/><feGaussianBlur in="o" stdDeviation="0.3"/></filter>
<filter id="wf21_1" x="0" y="0" width="1" height="1" color-interpolation-filters="sRGB"><feTurbulence type="fractalNoise" baseFrequency="0.8" numOctaves="3" seed="76" result="t"/><feColorMatrix in="t" type="matrix" values="0 0 0 0 0 0 0 0 0 0 0 0 0 0 0 1 0 0 0 0" result="n"/><feColorMatrix in="SourceGraphic" type="matrix" values="0 0 0 0 0 0 0 0 0 0 0 0 0 0 0 0 0 0 1 0" result="s"/><feComposite in="n" in2="s" operator="arithmetic" k1="0" k2="1" k3="1" k4="-1" result="m"/><feComponentTransfer in="m" result="m2"><feFuncA type="linear" slope="12" intercept="0"/></feComponentTransfer><feFlood flood-color="#262470" result="c"/><feComposite in="c" in2="m2" operator="in" result="o"/><feGaussianBlur in="o" stdDeviation="0.3"/></filter>
<radialGradient id="wg21_1" cx="0.5" cy="0.5" r="0.5"><stop offset="0" stop-color="#000" stop-opacity="0.52"/><stop offset="1" stop-color="#000" stop-opacity="0.5"/></radialGradient>
<clipPath id="wc22"><circle cx="51.0" cy="1001.2" r="29.6"/></clipPath>
<filter id="wf22_0" x="0" y="0" width="1" height="1" color-interpolation-filters="sRGB"><feTurbulence type="fractalNoise" baseFrequency="0.9" numOctaves="3" seed="17" result="t"/><feColorMatrix in="t" type="matrix" values="0 0 0 0 0 0 0 0 0 0 0 0 0 0 0 1 0 0 0 0" result="n"/><feColorMatrix in="SourceGraphic" type="matrix" values="0 0 0 0 0 0 0 0 0 0 0 0 0 0 0 0 0 0 1 0" result="s"/><feComposite in="n" in2="s" operator="arithmetic" k1="0" k2="1" k3="1" k4="-1" result="m"/><feComponentTransfer in="m" result="m2"><feFuncA type="linear" slope="9" intercept="0"/></feComponentTransfer><feFlood flood-color="#cdc6de" result="c"/><feComposite in="c" in2="m2" operator="in" result="o"/><feGaussianBlur in="o" stdDeviation="0.3"/></filter>
<radialGradient id="wg22_0" cx="0.5" cy="0.5" r="0.5"><stop offset="0" stop-color="#000" stop-opacity="0.37"/><stop offset="1" stop-color="#000" stop-opacity="0.35"/></radialGradient>
<clipPath id="wc23"><circle cx="116.05" cy="1001.2" r="29.6"/></clipPath>
<filter id="wf23_0" x="0" y="0" width="1" height="1" color-interpolation-filters="sRGB"><feTurbulence type="fractalNoise" baseFrequency="0.8" numOctaves="3" seed="27" result="t"/><feColorMatrix in="t" type="matrix" values="0 0 0 0 0 0 0 0 0 0 0 0 0 0 0 1 0 0 0 0" result="n"/><feColorMatrix in="SourceGraphic" type="matrix" values="0 0 0 0 0 0 0 0 0 0 0 0 0 0 0 0 0 0 1 0" result="s"/><feComposite in="n" in2="s" operator="arithmetic" k1="0" k2="1" k3="1" k4="-1" result="m"/><feComponentTransfer in="m" result="m2"><feFuncA type="linear" slope="9" intercept="0"/></feComponentTransfer><feFlood flood-color="#a892cc" result="c"/><feComposite in="c" in2="m2" operator="in" result="o"/><feGaussianBlur in="o" stdDeviation="0.3"/></filter>
<radialGradient id="wg23_0" cx="0.5" cy="0.5" r="0.5"><stop offset="0" stop-color="#000" stop-opacity="0.4"/><stop offset="1" stop-color="#000" stop-opacity="0.36"/></radialGradient>
<clipPath id="wc24"><circle cx="181.1" cy="1001.2" r="29.6"/></clipPath>
<clipPath id="wc25"><circle cx="246.14999999999998" cy="1001.2" r="29.6"/></clipPath>
<clipPath id="wc26"><circle cx="311.2" cy="1001.2" r="29.6"/></clipPath>
<filter id="wf26_0" x="0" y="0" width="1" height="1" color-interpolation-filters="sRGB"><feTurbulence type="fractalNoise" baseFrequency="0.6" numOctaves="3" seed="57" result="t"/><feColorMatrix in="t" type="matrix" values="0 0 0 0 0 0 0 0 0 0 0 0 0 0 0 1 0 0 0 0" result="n"/><feColorMatrix in="SourceGraphic" type="matrix" values="0 0 0 0 0 0 0 0 0 0 0 0 0 0 0 0 0 0 1 0" result="s"/><feComposite in="n" in2="s" operator="arithmetic" k1="0" k2="1" k3="1" k4="-1" result="m"/><feComponentTransfer in="m" result="m2"><feFuncA type="linear" slope="9" intercept="0"/></feComponentTransfer><feFlood flood-color="#cf9bd6" result="c"/><feComposite in="c" in2="m2" operator="in" result="o"/><feGaussianBlur in="o" stdDeviation="0.3"/></filter>
<radialGradient id="wg26_0" cx="0.5" cy="0.5" r="0.5"><stop offset="0" stop-color="#000" stop-opacity="0.36"/><stop offset="1" stop-color="#000" stop-opacity="0.33"/></radialGradient>
<clipPath id="wc27"><circle cx="376.25" cy="1001.2" r="29.6"/></clipPath>
<clipPath id="wc28"><circle cx="441.29999999999995" cy="1001.2" r="29.6"/></clipPath>
<filter id="wf28_0" x="0" y="0" width="1" height="1" color-interpolation-filters="sRGB"><feTurbulence type="fractalNoise" baseFrequency="0.85" numOctaves="3" seed="77" result="t"/><feColorMatrix in="t" type="matrix" values="0 0 0 0 0 0 0 0 0 0 0 0 0 0 0 1 0 0 0 0" result="n"/><feColorMatrix in="SourceGraphic" type="matrix" values="0 0 0 0 0 0 0 0 0 0 0 0 0 0 0 0 0 0 1 0" result="s"/><feComposite in="n" in2="s" operator="arithmetic" k1="0" k2="1" k3="1" k4="-1" result="m"/><feComponentTransfer in="m" result="m2"><feFuncA type="linear" slope="9" intercept="0"/></feComponentTransfer><feFlood flood-color="#8c88bc" result="c"/><feComposite in="c" in2="m2" operator="in" result="o"/><feGaussianBlur in="o" stdDeviation="0.3"/></filter>
<filter id="wf28_1" x="0" y="0" width="1" height="1" color-interpolation-filters="sRGB"><feTurbulence type="fractalNoise" baseFrequency="0.85" numOctaves="3" seed="78" result="t"/><feColorMatrix in="t" type="matrix" values="0 0 0 0 0 0 0 0 0 0 0 0 0 0 0 1 0 0 0 0" result="n"/><feColorMatrix in="SourceGraphic" type="matrix" values="0 0 0 0 0 0 0 0 0 0 0 0 0 0 0 0 0 0 1 0" result="s"/><feComposite in="n" in2="s" operator="arithmetic" k1="0" k2="1" k3="1" k4="-1" result="m"/><feComponentTransfer in="m" result="m2"><feFuncA type="linear" slope="12" intercept="0"/></feComponentTransfer><feFlood flood-color="#2a2876" result="c"/><feComposite in="c" in2="m2" operator="in" result="o"/><feGaussianBlur in="o" stdDeviation="0.3"/></filter>
<radialGradient id="wg28_1" cx="0.15" cy="0.55" r="0.8"><stop offset="0" stop-color="#000" stop-opacity="0.5"/><stop offset="1" stop-color="#000" stop-opacity="0.42"/></radialGradient>
</defs>
<rect width="685" height="1031" fill="#fff"/>
<g id="panel-a">
<text x="-0.8" y="16.6" font-size="21.5" font-weight="bold" fill="#000" textLength="10.8" lengthAdjust="spacingAndGlyphs">a</text>
<text x="53.0" y="16.6" font-size="11.8" stroke="#141414" stroke-width="0.3" textLength="94.4" lengthAdjust="spacingAndGlyphs">Osteosarcoma cells</text>
<text x="27.3" y="45.8" font-size="11.8" stroke="#141414" stroke-width="0.3" textLength="34.4" lengthAdjust="spacingAndGlyphs">Control</text>
<text x="119.9" y="45.8" font-size="11.8" stroke="#141414" stroke-width="0.3" textLength="66.8" lengthAdjust="spacingAndGlyphs">DMFO treated</text>
<text x="17.7" y="59.9" font-size="11.8" stroke="#141414" stroke-width="0.3" textLength="53.1" lengthAdjust="spacingAndGlyphs">(non-DFMO)</text>
<text x="136.8" y="59.9" font-size="11.8" stroke="#141414" stroke-width="0.3" textLength="33.8" lengthAdjust="spacingAndGlyphs">(DFMO)</text>
<text x="64.4" y="87.6" font-size="11.8" stroke="#141414" stroke-width="0.3" textLength="71.8" lengthAdjust="spacingAndGlyphs">Drug screening</text>
<text x="44.0" y="139.9" font-size="11.8" stroke="#141414" stroke-width="0.3" textLength="112.6" lengthAdjust="spacingAndGlyphs">(7175 compounds, 3 days)</text>
<text x="16.2" y="165.9" font-size="11.8" stroke="#141414" stroke-width="0.3" textLength="168.2" lengthAdjust="spacingAndGlyphs">CellTiter-Glo cell viability (cv) assay</text>
<text x="24.6" y="198.0" font-size="11.8" stroke="#141414" stroke-width="0.3" textLength="17.4" lengthAdjust="spacingAndGlyphs">Log</text>
<text x="42.3" y="202.2" font-size="7.8" stroke="#141414" stroke-width="0.3" textLength="4.1" lengthAdjust="spacingAndGlyphs">2</text>
<text x="46.8" y="198.0" font-size="11.8" stroke="#141414" stroke-width="0.3" textLength="128.8" lengthAdjust="spacingAndGlyphs">(cv[DFMO]/cv[non−DFMO])</text>
<text x="34.6" y="222.2" font-size="11.8" stroke="#141414" stroke-width="0.3" textLength="131.6" lengthAdjust="spacingAndGlyphs">Overlap for potential targets</text>
<g stroke="#141414" stroke-width="0.95" fill="none">
<line x1="89.6" y1="20.3" x2="65.2" y2="34.4" marker-end="url(#ah)"/>
<line x1="108.4" y1="20.3" x2="133.2" y2="34.4" marker-end="url(#ah)"/>
<path d="M56.4,65V70.5H144.2V65M100.1,70.5V76.8"/>
<line x1="100.1" y1="145.4" x2="100.1" y2="152.4" marker-end="url(#ah)"/>
<line x1="100.1" y1="176" x2="100.1" y2="182.6" marker-end="url(#ah)"/>
<line x1="100.1" y1="204.4" x2="100.1" y2="212.2" marker-end="url(#ah)"/>
</g>
<path d="M76.2,93.1H125.4Q126.6,93.1 126.6,94.3V129.2Q126.6,130.4 125.4,130.4H76.2L73.2,127.6V95.9Z" fill="#dbe6ee" stroke="#bccbd7" stroke-width="0.6"/>
<path d="M77.2,95H124.4V128.5H77.2L75.2,126.6V96.9Z" fill="#e8eff5" stroke="#cfdae3" stroke-width="0.4"/>
<circle cx="77.5" cy="98.7" r="0.35" fill="#4a5a78"/>
<circle cx="80.3" cy="98.7" r="1.55" fill="#e0589c"/>
<circle cx="84.1" cy="98.7" r="1.55" fill="#e0589c"/>
<circle cx="87.9" cy="98.7" r="1.55" fill="#e0589c"/>
<circle cx="91.7" cy="98.7" r="1.55" fill="#e0589c"/>
<circle cx="95.5" cy="98.7" r="1.55" fill="#e0589c"/>
<circle cx="99.3" cy="98.7" r="1.55" fill="#e0589c"/>
<circle cx="103.2" cy="98.7" r="1.55" fill="#e0589c"/>
<circle cx="107.0" cy="98.7" r="1.55" fill="#e0589c"/>
<circle cx="110.8" cy="98.7" r="1.55" fill="#e0589c"/>
<circle cx="114.6" cy="98.7" r="1.55" fill="#e0589c"/>
<circle cx="118.4" cy="98.7" r="1.55" fill="#5fb4e8"/>
<circle cx="122.2" cy="98.7" r="1.55" fill="#e0589c"/>
<circle cx="77.5" cy="102.5" r="0.35" fill="#4a5a78"/>
<circle cx="80.3" cy="102.5" r="1.55" fill="#5fb4e8"/>
<circle cx="84.1" cy="102.5" r="1.55" fill="#5fb4e8"/>
<circle cx="87.9" cy="102.5" r="1.55" fill="#e0589c"/>
<circle cx="91.7" cy="102.5" r="1.55" fill="#e0589c"/>
<circle cx="95.5" cy="102.5" r="1.55" fill="#e0589c"/>
<circle cx="99.3" cy="102.5" r="1.55" fill="#e0589c"/>
<circle cx="103.2" cy="102.5" r="1.55" fill="#e0589c"/>
<circle cx="107.0" cy="102.5" r="1.55" fill="#e0589c"/>
<circle cx="110.8" cy="102.5" r="1.55" fill="#e0589c"/>
<circle cx="114.6" cy="102.5" r="1.55" fill="#e0589c"/>
<circle cx="118.4" cy="102.5" r="1.55" fill="#5fb4e8"/>
<circle cx="122.2" cy="102.5" r="1.55" fill="#e0589c"/>
<circle cx="77.5" cy="106.4" r="0.35" fill="#4a5a78"/>
<circle cx="80.3" cy="106.4" r="1.55" fill="#e0589c"/>
<circle cx="84.1" cy="106.4" r="1.55" fill="#e0589c"/>
<circle cx="87.9" cy="106.4" r="1.55" fill="#e0589c"/>
<circle cx="91.7" cy="106.4" r="1.55" fill="#e0589c"/>
<circle cx="95.5" cy="106.4" r="1.55" fill="#e0589c"/>
<circle cx="99.3" cy="106.4" r="1.55" fill="#e0589c"/>
<circle cx="103.2" cy="106.4" r="1.55" fill="#e0589c"/>
<circle cx="107.0" cy="106.4" r="1.55" fill="#e0589c"/>
<circle cx="110.8" cy="106.4" r="1.55" fill="#5fb4e8"/>
<circle cx="114.6" cy="106.4" r="1.55" fill="#e0589c"/>
<circle cx="118.4" cy="106.4" r="1.55" fill="#e0589c"/>
<circle cx="122.2" cy="106.4" r="1.55" fill="#e0589c"/>
<circle cx="77.5" cy="110.2" r="0.35" fill="#4a5a78"/>
<circle cx="80.3" cy="110.2" r="1.55" fill="#e0589c"/>
<circle cx="84.1" cy="110.2" r="1.55" fill="#5fb4e8"/>
<circle cx="87.9" cy="110.2" r="1.55" fill="#e0589c"/>
<circle cx="91.7" cy="110.2" r="1.55" fill="#e0589c"/>
<circle cx="95.5" cy="110.2" r="1.55" fill="#e0589c"/>
<circle cx="99.3" cy="110.2" r="1.55" fill="#5fb4e8"/>
<circle cx="103.2" cy="110.2" r="1.55" fill="#a35fd0"/>
<circle cx="107.0" cy="110.2" r="1.55" fill="#5fb4e8"/>
<circle cx="110.8" cy="110.2" r="1.55" fill="#e0589c"/>
<circle cx="114.6" cy="110.2" r="1.55" fill="#e0589c"/>
<circle cx="118.4" cy="110.2" r="1.55" fill="#5fb4e8"/>
<circle cx="122.2" cy="110.2" r="1.55" fill="#e0589c"/>
<circle cx="77.5" cy="114.0" r="0.35" fill="#4a5a78"/>
<circle cx="80.3" cy="114.0" r="1.55" fill="#e0589c"/>
<circle cx="84.1" cy="114.0" r="1.55" fill="#e0589c"/>
<circle cx="87.9" cy="114.0" r="1.55" fill="#e0589c"/>
<circle cx="91.7" cy="114.0" r="1.55" fill="#e0589c"/>
<circle cx="95.5" cy="114.0" r="1.55" fill="#e0589c"/>
<circle cx="99.3" cy="114.0" r="1.55" fill="#e0589c"/>
<circle cx="103.2" cy="114.0" r="1.55" fill="#e0589c"/>
<circle cx="107.0" cy="114.0" r="1.55" fill="#e0589c"/>
<circle cx="110.8" cy="114.0" r="1.55" fill="#e0589c"/>
<circle cx="114.6" cy="114.0" r="1.55" fill="#e0589c"/>
<circle cx="118.4" cy="114.0" r="1.55" fill="#5fb4e8"/>
<circle cx="122.2" cy="114.0" r="1.55" fill="#e0589c"/>
<circle cx="77.5" cy="117.8" r="0.35" fill="#4a5a78"/>
<circle cx="80.3" cy="117.8" r="1.55" fill="#e0589c"/>
<circle cx="84.1" cy="117.8" r="1.55" fill="#e0589c"/>
<circle cx="87.9" cy="117.8" r="1.55" fill="#e0589c"/>
<circle cx="91.7" cy="117.8" r="1.55" fill="#e0589c"/>
<circle cx="95.5" cy="117.8" r="1.55" fill="#e0589c"/>
<circle cx="99.3" cy="117.8" r="1.55" fill="#e0589c"/>
<circle cx="103.2" cy="117.8" r="1.55" fill="#e0589c"/>
<circle cx="107.0" cy="117.8" r="1.55" fill="#e0589c"/>
<circle cx="110.8" cy="117.8" r="1.55" fill="#a35fd0"/>
<circle cx="114.6" cy="117.8" r="1.55" fill="#e0589c"/>
<circle cx="118.4" cy="117.8" r="1.55" fill="#5fb4e8"/>
<circle cx="122.2" cy="117.8" r="1.55" fill="#e0589c"/>
<circle cx="77.5" cy="121.7" r="0.35" fill="#4a5a78"/>
<circle cx="80.3" cy="121.7" r="1.55" fill="#e0589c"/>
<circle cx="84.1" cy="121.7" r="1.55" fill="#5fb4e8"/>
<circle cx="87.9" cy="121.7" r="1.55" fill="#e0589c"/>
<circle cx="91.7" cy="121.7" r="1.55" fill="#e0589c"/>
<circle cx="95.5" cy="121.7" r="1.55" fill="#e0589c"/>
<circle cx="99.3" cy="121.7" r="1.55" fill="#e0589c"/>
<circle cx="103.2" cy="121.7" r="1.55" fill="#e0589c"/>
<circle cx="107.0" cy="121.7" r="1.55" fill="#e0589c"/>
<circle cx="110.8" cy="121.7" r="1.55" fill="#e0589c"/>
<circle cx="114.6" cy="121.7" r="1.55" fill="#e0589c"/>
<circle cx="118.4" cy="121.7" r="1.55" fill="#e0589c"/>
<circle cx="122.2" cy="121.7" r="1.55" fill="#e0589c"/>
<circle cx="77.5" cy="125.5" r="0.35" fill="#4a5a78"/>
<circle cx="80.3" cy="125.5" r="1.55" fill="#e0589c"/>
<circle cx="84.1" cy="125.5" r="1.55" fill="#5fb4e8"/>
<circle cx="87.9" cy="125.5" r="1.55" fill="#e0589c"/>
<circle cx="91.7" cy="125.5" r="1.55" fill="#e0589c"/>
<circle cx="95.5" cy="125.5" r="1.55" fill="#e0589c"/>
<circle cx="99.3" cy="125.5" r="1.55" fill="#a35fd0"/>
<circle cx="103.2" cy="125.5" r="1.55" fill="#a35fd0"/>
<circle cx="107.0" cy="125.5" r="1.55" fill="#e0589c"/>
<circle cx="110.8" cy="125.5" r="1.55" fill="#e0589c"/>
<circle cx="114.6" cy="125.5" r="1.55" fill="#e0589c"/>
<circle cx="118.4" cy="125.5" r="1.55" fill="#e0589c"/>
<circle cx="122.2" cy="125.5" r="1.55" fill="#e0589c"/>
</g>
<g id="panel-b">
<g id="sc143b" fill="none" stroke-width="3.5" stroke-linecap="round">
<path stroke="#ccd3ed" d="M310.6,54.3h0M348.4,68.4h0M313.9,53.1h0M331.9,54.1h0M312.5,101.2h0M364.3,74.6h0M303.2,97.8h0M308.4,101.0h0M349.9,65.6h0M300.7,90.3h0M322.1,107.5h0M329.0,109.3h0M295.6,86.5h0M357.2,77.3h0M297.1,87.4h0M296.9,66.2h0M297.8,69.7h0M354.3,74.3h0M344.0,57.6h0M359.6,75.3h0M325.2,51.4h0M295.5,49.4h0M365.4,84.0h0M357.8,79.5h0M308.5,55.2h0M305.5,54.3h0M298.7,69.7h0M305.8,94.4h0M315.8,45.1h0M338.7,57.6h0M313.5,102.1h0M310.0,97.4h0M344.6,111.1h0M300.4,92.5h0M340.7,60.3h0M298.9,65.5h0M352.5,72.3h0M362.4,90.9h0M341.7,60.8h0M305.3,100.2h0M353.8,72.6h0M303.0,47.2h0M333.7,52.7h0M327.3,53.4h0M360.8,118.8h0M364.7,108.8h0M341.9,113.7h0M361.2,97.7h0M361.7,109.5h0M360.1,117.1h0M362.8,102.0h0M362.7,109.1h0M365.3,100.5h0M362.2,107.5h0M363.4,102.3h0M361.9,94.0h0M349.2,113.5h0M367.9,95.0h0M369.1,113.6h0M358.8,122.3h0M353.9,115.5h0M338.6,114.3h0M363.7,85.4h0M369.9,115.6h0M363.8,93.8h0M370.1,108.0h0M360.4,122.0h0M341.3,117.4h0M362.1,94.6h0M368.8,106.6h0M351.9,113.3h0M353.4,113.2h0M381.3,120.8h0M354.8,112.5h0M361.6,110.8h0M364.6,101.3h0M378.6,113.7h0M364.0,109.0h0M376.1,133.8h0M360.6,112.5h0M308.7,51.6h0M354.0,114.1h0M338.2,110.6h0M303.5,58.4h0M367.0,105.4h0M356.8,123.5h0M360.2,118.6h0M367.7,105.1h0M365.4,104.9h0M361.1,97.1h0M368.7,102.1h0M366.6,104.4h0M368.8,111.3h0M364.1,105.4h0M364.6,96.4h0M370.8,121.8h0M358.3,112.1h0M342.2,115.3h0M353.8,112.8h0M352.0,116.6h0M363.9,111.2h0M353.5,111.0h0M377.8,131.7h0M365.6,106.7h0M356.6,113.5h0M361.3,97.4h0M360.7,96.4h0M368.6,102.6h0M318.7,106.3h0M375.0,131.7h0M359.0,112.6h0M376.0,111.9h0M358.7,122.7h0M358.1,116.2h0M365.4,111.8h0M363.4,115.6h0M352.9,117.0h0M370.7,110.9h0M373.3,106.8h0M317.5,105.7h0M364.7,124.8h0M370.9,107.3h0M357.1,116.6h0M347.6,111.4h0M360.6,109.5h0M357.9,112.6h0M355.9,126.6h0M363.5,113.1h0M357.3,121.1h0M364.9,110.3h0M374.6,114.2h0M337.7,110.7h0M361.8,126.8h0M328.9,111.3h0M343.8,111.2h0M356.1,115.6h0M339.5,111.5h0M362.4,102.3h0M367.2,94.6h0M363.5,102.2h0M363.8,107.0h0M345.5,114.3h0M368.4,94.5h0M361.3,99.2h0M363.6,106.0h0M366.9,100.1h0M369.9,119.3h0M365.3,112.7h0M362.1,110.9h0M362.2,114.0h0M355.7,113.7h0M366.0,117.9h0M356.9,114.6h0M348.5,112.3h0M351.4,113.9h0M364.6,118.7h0M366.8,114.6h0M358.2,115.5h0M372.8,124.3h0M365.4,116.2h0M373.4,115.0h0M364.4,113.7h0M364.9,83.3h0M378.0,121.0h0M383.3,148.0h0M390.8,136.8h0M397.4,128.8h0M356.3,132.4h0M392.0,148.0h0M384.1,122.6h0M382.1,125.9h0M404.0,153.4h0M386.0,129.5h0M351.3,131.3h0M383.1,126.2h0M381.0,120.2h0M409.8,148.1h0M371.7,116.4h0M418.2,162.1h0M397.1,142.1h0M412.0,162.7h0M382.6,133.1h0M377.7,119.8h0M398.1,136.5h0M423.4,163.0h0M415.5,157.4h0M369.7,122.7h0M350.8,120.8h0M379.8,125.1h0M419.9,165.1h0M430.1,169.4h0M417.9,168.3h0M375.4,132.8h0M408.1,146.3h0M380.3,139.0h0M420.3,171.1h0M380.3,131.2h0M388.6,144.4h0M349.7,113.3h0M366.7,115.5h0M390.2,125.1h0M384.7,136.7h0M384.0,127.8h0M409.0,149.4h0M398.2,149.4h0M365.8,134.7h0M370.3,114.7h0M368.9,110.1h0M355.1,128.0h0M413.2,157.8h0M409.9,155.5h0M377.8,142.2h0M388.3,142.2h0M362.4,108.2h0M412.7,154.0h0M420.9,160.1h0M362.8,109.7h0M402.9,144.7h0M373.8,117.5h0M411.4,155.3h0M406.8,162.4h0M423.3,162.4h0M386.8,133.3h0M382.3,131.2h0M365.2,121.3h0M388.4,132.8h0M365.7,108.3h0M407.9,151.6h0M408.5,151.9h0M380.3,135.0h0M404.7,140.3h0M390.0,146.3h0M380.8,122.8h0M396.8,136.7h0M404.6,161.0h0M369.0,139.0h0M362.2,117.8h0M412.9,143.8h0M374.2,121.1h0M386.0,132.3h0M391.2,142.4h0M406.4,159.4h0M369.0,107.2h0M425.8,164.1h0M371.8,115.0h0M397.9,154.4h0M391.4,148.2h0M395.8,136.0h0M400.4,155.7h0M395.9,154.7h0M376.2,122.7h0M376.9,118.0h0M370.1,123.8h0M411.9,157.6h0M364.2,119.9h0M383.1,136.0h0M385.6,141.7h0M385.4,140.2h0M369.3,121.2h0M389.4,136.6h0M371.0,128.8h0M426.9,172.4h0M349.0,121.0h0M388.9,138.5h0M401.5,147.2h0M401.0,140.8h0M407.9,157.6h0M372.7,119.4h0M374.9,115.1h0M413.9,166.7h0M418.3,166.2h0M381.6,133.5h0M373.8,137.9h0M368.2,126.3h0M417.5,156.7h0M379.8,130.4h0M402.1,142.7h0M381.1,117.0h0M415.3,163.8h0M360.7,92.6h0M423.0,161.7h0M403.1,154.0h0M358.5,121.6h0M407.4,150.7h0M407.4,152.6h0M410.0,162.1h0M415.6,159.4h0M411.0,156.1h0M406.9,155.1h0M404.6,154.8h0M413.1,166.1h0M410.6,164.2h0M420.2,169.8h0M420.3,164.8h0M401.5,155.5h0M416.9,160.1h0M420.6,166.7h0M420.1,160.8h0M404.5,151.9h0M423.7,166.4h0M406.2,153.9h0M416.0,166.2h0M418.9,166.4h0M402.6,150.7h0M393.9,148.3h0M403.0,158.3h0M402.3,152.6h0M423.6,171.0h0M427.9,168.0h0M410.9,161.9h0M402.4,153.2h0M414.0,159.9h0M397.6,150.6h0M413.4,161.3h0M415.3,161.1h0M398.6,152.2h0M420.3,162.2h0M416.4,166.0h0M432.3,171.7h0M417.2,170.0h0M409.6,156.5h0M423.7,167.4h0M416.6,163.8h0M414.0,157.1h0M401.0,153.8h0M408.2,161.9h0M425.1,168.5h0M414.2,164.9h0M405.9,158.2h0M406.2,152.6h0M409.3,160.4h0M411.2,159.7h0M422.9,163.3h0M415.0,168.6h0M424.7,170.1h0M400.2,156.9h0M411.0,154.8h0M398.3,149.7h0M396.5,150.0h0M413.9,160.9h0M399.2,149.3h0M412.7,158.9h0M405.9,155.6h0M420.6,163.0h0M400.7,146.8h0M417.8,167.1h0M408.4,155.2h0M421.2,167.6h0M419.4,161.1h0M400.6,147.4h0M394.7,149.3h0M401.7,152.0h0M405.2,153.2h0M431.2,174.1h0M404.1,155.6h0M414.7,156.7h0M421.8,169.3h0M429.3,169.9h0M415.9,158.2h0M403.6,154.9h0M415.7,165.4h0M404.3,156.4h0M403.8,154.5h0M420.1,169.5h0M431.9,175.1h0M397.4,155.5h0M427.3,166.2h0M425.0,164.0h0M407.3,153.6h0M409.4,160.0h0M423.6,167.9h0M412.0,160.1h0M406.8,156.1h0M419.4,166.8h0M410.9,163.9h0M413.7,161.8h0M411.9,161.8h0M402.2,152.5h0M413.4,153.5h0M413.9,159.0h0M418.0,164.2h0M416.5,162.9h0M401.7,150.3h0M408.9,155.2h0M421.2,161.2h0M414.7,155.0h0M432.8,178.0h0M409.3,157.6h0M400.1,150.3h0M397.7,152.4h0M408.1,159.0h0M415.5,167.9h0M416.9,161.1h0M418.8,160.7h0M399.3,153.0h0M430.4,177.9h0M420.4,165.5h0M426.6,165.5h0M401.9,158.3h0M412.2,161.5h0M421.3,164.3h0M428.0,168.3h0M412.4,156.7h0M409.9,158.7h0M400.5,152.7h0M410.9,158.2h0M404.7,156.2h0M409.1,159.5h0M418.0,162.5h0M422.3,166.1h0M411.4,165.4h0M407.5,158.4h0M413.9,164.3h0M407.9,156.2h0M414.5,163.5h0M415.0,162.1h0M420.5,168.5h0M411.3,153.2h0M402.5,149.3h0M420.8,165.5h0M419.0,171.0h0M404.9,153.6h0M419.7,168.7h0M413.0,165.1h0M413.6,166.4h0M406.0,151.5h0M419.5,163.1h0M410.0,155.1h0M417.2,164.5h0M433.4,176.6h0M405.1,154.6h0M402.2,157.7h0M405.5,158.1h0M414.6,157.7h0M422.4,167.9h0M417.3,162.3h0M406.5,160.2h0M410.9,158.6h0M366.3,140.1h0M383.5,139.7h0M364.3,147.0h0M379.8,148.8h0M371.3,148.5h0M367.2,125.7h0M369.1,131.1h0M369.4,139.2h0M390.3,141.1h0M367.1,153.4h0M383.9,155.3h0M386.2,147.0h0M411.8,148.9h0M393.1,165.7h0M363.9,136.9h0M360.0,140.8h0M379.5,149.2h0M385.6,148.3h0M368.2,151.5h0M392.9,139.7h0M349.0,138.4h0M346.8,129.4h0M366.8,151.1h0M387.6,156.5h0M392.2,167.9h0M379.6,133.7h0M400.6,132.3h0M385.8,148.7h0M376.1,141.9h0M401.7,138.3h0M383.7,154.1h0M366.2,138.4h0M383.3,154.5h0M362.1,131.5h0M395.3,149.5h0M374.8,134.8h0M351.2,125.1h0M398.1,164.0h0M384.6,154.1h0M370.7,140.8h0M381.0,141.9h0M388.9,151.4h0M378.0,140.3h0M382.1,140.4h0M395.0,156.9h0M372.2,142.9h0M378.4,149.7h0M406.1,168.4h0M374.0,134.7h0M368.1,125.0h0M301.8,55.3h0M317.7,43.3h0M300.2,45.7h0M308.4,42.7h0M309.2,47.0h0M319.0,54.4h0M337.0,32.6h0M303.2,31.2h0M295.2,56.4h0M296.1,54.4h0M334.4,52.1h0M327.7,47.1h0M332.1,38.6h0M305.9,46.9h0M294.6,39.8h0M314.4,32.0h0M314.0,49.0h0M299.6,33.4h0M333.9,35.9h0M309.1,48.0h0M322.1,35.6h0M318.7,38.5h0M332.3,46.7h0M295.3,53.1h0M300.1,56.8h0M321.1,42.6h0M314.2,46.0h0M332.4,37.4h0M299.5,32.5h0M308.0,52.2h0M376.7,91.4h0M362.2,78.8h0M361.7,88.7h0M379.8,87.7h0M368.2,88.9h0M370.4,91.2h0M373.2,86.2h0M379.6,95.0h0M254.0,23.9h0M261.1,31.3h0M272.3,16.6h0M268.2,49.7h0M270.3,71.8h0M278.4,65.3h0M294.7,27.6h0M275.3,42.3h0M329.2,137.1h0M328.2,150.9h0M357.7,158.3h0M359.8,161.9h0M365.9,160.1h0M376.0,166.5h0M385.2,166.5h0M389.3,165.6h0M393.3,92.9h0M391.3,80.1h0M382.1,73.6h0M375.0,79.1h0M403.5,114.1h0M395.4,119.6h0"/>
<path stroke="#c6ceeb" d="M357.3,91.9h0M300.5,65.6h0M302.0,87.1h0M301.5,66.7h0M350.9,72.9h0M300.4,67.1h0M324.5,105.9h0M345.7,67.5h0M358.5,95.1h0M327.0,106.7h0M300.1,69.7h0M360.9,102.6h0M304.0,64.0h0M331.3,56.3h0M328.6,106.4h0M297.8,78.3h0M305.4,93.8h0M303.6,91.0h0M298.5,81.9h0M335.4,59.8h0M307.1,61.1h0M300.1,65.0h0M323.5,105.1h0M312.4,99.1h0M343.9,63.6h0M359.2,108.3h0M358.5,90.5h0M355.4,109.6h0M356.3,109.6h0M335.4,109.1h0M359.9,106.0h0M360.3,98.5h0M357.2,105.9h0M361.0,101.0h0M355.8,109.2h0M359.1,96.0h0M357.6,108.3h0M359.5,104.5h0M358.6,106.9h0M341.1,110.1h0M353.4,109.9h0M359.2,106.0h0M361.1,105.0h0M359.0,106.4h0M347.4,109.2h0M354.9,108.8h0M355.1,109.8h0M351.6,109.6h0M345.2,110.9h0M359.3,108.4h0M355.8,107.6h0M360.8,106.7h0M357.7,106.8h0M351.2,109.0h0M361.2,101.9h0M354.6,110.6h0M359.1,103.9h0M359.4,108.1h0M314.5,55.4h0"/>
<path stroke="#c0c9e8" d="M315.4,56.9h0M324.9,56.0h0M331.6,58.5h0M345.4,108.1h0M320.7,56.9h0M300.4,83.3h0M305.2,90.5h0M342.5,64.3h0M317.4,55.4h0M307.5,63.1h0M320.4,102.0h0M356.6,82.2h0M325.2,55.7h0M308.0,93.8h0M318.8,56.4h0M299.6,79.6h0M300.1,75.5h0M308.5,61.5h0M352.5,106.7h0M311.0,58.2h0M301.3,83.9h0M299.9,77.9h0M310.3,96.5h0M303.4,66.5h0M325.8,104.1h0M343.6,65.1h0M299.6,80.7h0M357.9,96.9h0M328.0,56.2h0M317.0,100.4h0M318.7,101.0h0M300.0,78.6h0M300.2,83.4h0M308.6,93.2h0M299.3,79.9h0M302.5,86.7h0M302.0,84.6h0M300.3,76.7h0M305.8,90.4h0M307.8,92.9h0M356.2,95.9h0M319.4,101.2h0M309.5,59.2h0M352.8,107.4h0M346.9,108.5h0M344.8,108.2h0M344.5,109.4h0M355.3,103.6h0M358.0,102.4h0M342.9,108.3h0M358.4,99.8h0M353.5,107.6h0M344.5,109.9h0M357.9,97.6h0M344.4,108.3h0M358.7,98.5h0M354.8,105.9h0M346.3,107.1h0M350.0,107.3h0M358.2,103.5h0M357.4,84.4h0M356.3,104.7h0M347.8,107.7h0M358.7,102.4h0M352.6,107.5h0M358.8,98.2h0M351.8,106.6h0M350.2,107.1h0M339.9,109.7h0M354.8,105.3h0M326.8,106.0h0M356.3,104.9h0M356.7,94.9h0M353.0,107.9h0M345.4,109.1h0M352.0,108.6h0M302.0,78.3h0M357.9,87.1h0M357.3,101.7h0M359.6,101.8h0M325.1,104.6h0M358.4,100.5h0M341.6,109.5h0M348.1,107.9h0M329.5,57.8h0M324.8,56.6h0"/>
<path stroke="#bac4e6" d="M326.9,57.1h0M319.2,57.9h0M303.6,85.3h0M331.7,107.3h0M327.5,57.2h0M338.1,62.4h0M312.7,58.0h0M303.7,71.4h0M307.3,90.5h0M349.7,74.7h0M352.1,79.8h0M335.1,108.8h0M301.6,73.8h0M303.7,82.0h0M305.7,86.4h0M309.7,61.3h0M309.4,62.4h0M351.7,77.6h0M316.8,98.1h0M340.5,64.0h0M303.5,80.6h0M301.9,72.4h0M356.6,88.2h0M301.6,75.0h0M355.8,100.4h0M342.8,106.6h0M325.8,56.4h0M347.5,72.8h0M306.4,86.9h0M341.7,65.6h0M302.7,74.2h0M341.3,107.7h0M355.9,82.2h0M305.1,87.5h0M302.4,72.1h0M354.3,80.8h0M313.7,58.5h0M305.3,67.6h0M342.0,65.2h0M315.3,57.4h0M310.8,95.3h0M356.4,84.8h0M306.8,89.2h0M356.9,88.8h0M317.9,56.9h0M355.3,89.1h0M325.6,57.6h0M302.6,80.2h0M305.8,85.5h0M356.4,83.8h0M315.4,98.2h0M302.5,74.9h0M338.5,107.9h0M316.8,99.3h0M356.9,85.9h0M323.0,58.2h0M354.6,103.3h0M352.4,105.2h0M344.4,106.1h0M355.2,101.7h0M355.7,94.1h0M348.9,105.3h0M355.5,82.2h0M356.6,88.6h0M352.8,104.6h0M350.1,104.2h0M353.5,102.4h0M329.1,105.0h0M356.2,90.2h0M356.6,99.2h0M355.6,93.4h0M305.9,84.1h0M345.4,106.2h0M338.1,108.0h0M356.9,101.8h0M354.2,95.2h0M339.7,107.1h0M356.8,83.9h0M351.1,105.2h0M347.2,105.4h0M343.8,107.1h0M346.8,104.3h0M355.2,90.3h0M347.5,105.7h0M339.8,108.8h0M355.3,92.3h0M354.5,103.1h0M356.6,89.9h0M356.1,100.2h0M354.8,103.7h0M351.7,103.8h0M353.7,104.7h0M346.6,105.4h0M340.9,107.3h0M348.6,103.7h0M329.4,58.3h0"/>
<path stroke="#adb9e0" d="M334.3,61.6h0M325.5,101.0h0M349.5,75.0h0M344.8,69.9h0M309.2,64.7h0M321.6,59.9h0M313.3,59.7h0M327.3,58.9h0M304.7,72.9h0M315.7,97.5h0M314.7,59.0h0M308.1,65.9h0M335.0,107.1h0M330.4,60.7h0M319.1,58.9h0M354.0,92.5h0M353.1,97.6h0M324.7,59.7h0M309.5,90.3h0M342.4,104.6h0M325.9,58.4h0M352.7,80.8h0M313.2,59.4h0M308.0,89.4h0M347.2,103.5h0M354.5,84.9h0M320.7,100.4h0M321.2,100.7h0M337.7,106.9h0M319.9,59.2h0M312.6,62.9h0M354.3,87.0h0M345.1,71.2h0M305.4,69.9h0M304.6,77.6h0M314.6,61.0h0M304.6,78.4h0M355.1,87.6h0M304.2,70.7h0M317.0,59.9h0M340.7,106.6h0M320.7,100.1h0M304.4,74.3h0M304.0,78.5h0M312.2,61.5h0M345.1,71.9h0M326.4,102.4h0M353.0,91.5h0M316.3,58.4h0M348.5,75.0h0M305.6,69.6h0M319.0,58.4h0M350.9,78.5h0M321.0,59.1h0M324.2,101.6h0M348.6,75.4h0M305.9,68.1h0M306.6,85.8h0M311.9,62.1h0M346.6,72.8h0M305.8,71.3h0M331.1,104.5h0M333.6,106.4h0M321.8,59.4h0M352.4,93.4h0M328.8,59.3h0M303.8,73.1h0M337.8,105.5h0M339.7,64.2h0M351.4,101.9h0M346.5,103.4h0M353.6,90.8h0M352.9,102.6h0M354.8,98.8h0M354.5,88.0h0M349.1,102.9h0M351.5,101.3h0M352.4,99.1h0M354.9,98.4h0M350.0,101.3h0M353.0,100.7h0M344.3,104.1h0M353.4,96.1h0M354.3,83.2h0M348.2,102.7h0M343.2,104.7h0M355.4,87.2h0M340.4,105.6h0M342.0,106.6h0M353.6,100.4h0M353.9,97.8h0M353.2,97.0h0M353.4,100.2h0M352.4,100.8h0M332.3,106.7h0M352.2,100.5h0M351.6,102.4h0M353.6,89.5h0M352.4,91.5h0M333.7,107.8h0M353.6,95.5h0M350.2,102.9h0M354.9,100.2h0M353.6,96.6h0M353.8,93.1h0M352.4,100.0h0"/>
<path stroke="#9baad9" d="M333.9,105.6h0M353.8,83.3h0M330.0,61.9h0M337.8,65.0h0M305.1,77.5h0M315.5,60.4h0M332.8,62.9h0M352.0,81.1h0M352.6,85.8h0M326.4,60.2h0M352.3,89.5h0M341.6,67.2h0M333.3,105.8h0M336.9,62.8h0M336.7,63.8h0M310.6,90.9h0M334.8,62.4h0M342.0,67.1h0M341.9,68.4h0M334.7,105.8h0M346.0,101.1h0M307.8,68.9h0M348.9,99.6h0M330.0,61.3h0M335.3,62.7h0M312.5,94.5h0M331.6,61.9h0M306.7,69.0h0M352.6,86.8h0M342.8,68.7h0M316.3,62.0h0M340.0,104.0h0M316.8,96.6h0M351.7,96.9h0M351.5,95.3h0M353.7,85.7h0M320.3,60.6h0M352.7,88.2h0M308.1,66.8h0M314.0,94.7h0M351.7,82.0h0M312.3,93.8h0M306.1,73.9h0M351.6,97.4h0M349.5,78.6h0M332.8,104.8h0M329.3,102.5h0M341.5,102.6h0M330.3,61.9h0M309.7,88.1h0M324.3,100.4h0M336.3,103.5h0M338.4,102.3h0M319.1,98.8h0M350.2,81.8h0M344.3,71.9h0M324.8,100.2h0M332.6,61.2h0M350.5,80.7h0M348.2,101.6h0M338.7,104.1h0M314.6,95.7h0M313.3,62.0h0M318.3,60.2h0M343.9,102.7h0M306.0,80.0h0M312.2,94.4h0M307.1,67.2h0M306.9,83.1h0M351.9,82.4h0M306.6,68.5h0M353.1,88.3h0M336.0,104.8h0M351.2,98.4h0M351.7,98.1h0M351.5,94.7h0M348.6,77.3h0M352.8,85.7h0M351.9,91.9h0M339.1,103.8h0M341.9,104.1h0M336.8,105.2h0M352.3,81.3h0M343.6,103.7h0M331.7,103.1h0M350.5,99.3h0M344.7,102.6h0M351.5,93.4h0M322.0,99.8h0M340.3,102.4h0M350.4,97.5h0M349.2,98.7h0M350.6,94.1h0M340.8,104.4h0M346.3,102.2h0M306.9,72.3h0M340.9,103.5h0M349.2,100.3h0"/>
<path stroke="#899bd1" d="M320.8,61.5h0M310.5,87.8h0M306.9,77.4h0M341.3,69.8h0M345.1,100.8h0M340.8,101.7h0M315.8,95.3h0M343.5,101.3h0M321.2,61.9h0M316.7,94.6h0M306.3,75.0h0M349.8,90.3h0M311.1,65.0h0M329.9,101.6h0M325.7,99.7h0M350.8,90.7h0M326.0,100.2h0M346.9,98.6h0M341.8,69.4h0M319.9,63.0h0M349.7,90.9h0M349.6,92.7h0M307.2,74.0h0M336.0,65.0h0M333.0,103.2h0M347.5,99.8h0M333.6,103.1h0M347.8,77.6h0M307.0,71.9h0M328.9,101.1h0M350.3,87.9h0M317.5,62.0h0M311.1,90.9h0M311.8,90.7h0M313.0,64.9h0M307.4,72.1h0M334.2,102.2h0M312.2,91.6h0M350.1,83.6h0M312.6,92.8h0M350.5,89.0h0M351.8,85.7h0M324.8,61.3h0M336.3,65.7h0M320.2,97.6h0M322.3,98.4h0M315.4,94.4h0M336.4,102.3h0M308.1,70.0h0M306.7,78.3h0M337.6,65.9h0M347.2,78.2h0M335.0,102.1h0M346.6,75.9h0M347.9,76.4h0M316.8,95.4h0M320.0,97.9h0M314.3,93.5h0M317.0,94.9h0M308.3,84.8h0M335.7,63.3h0M349.0,97.3h0M311.1,89.3h0M320.5,97.9h0M327.0,61.9h0M307.7,81.8h0M351.6,83.7h0M326.2,100.5h0M309.0,67.4h0M318.2,61.9h0M319.0,62.5h0M350.8,86.1h0M350.4,82.6h0M322.9,98.6h0M335.2,103.8h0M345.8,99.9h0M335.6,101.2h0M331.6,63.0h0M330.0,62.5h0M306.6,76.2h0M351.0,85.2h0M337.3,102.1h0M330.6,101.9h0M324.7,61.1h0M314.9,93.2h0M342.2,100.4h0M348.4,80.7h0M347.1,99.3h0M349.6,91.6h0M349.6,93.3h0M348.9,97.9h0M349.6,95.0h0M349.5,97.6h0M348.8,96.6h0M349.4,96.7h0M338.9,101.8h0M347.4,97.2h0M334.7,102.9h0M342.2,100.9h0M351.7,88.7h0M323.7,98.1h0M346.3,99.7h0M347.9,99.0h0M347.7,98.5h0M351.8,86.1h0M350.4,89.7h0M316.1,62.3h0M343.9,101.9h0M339.6,100.8h0"/>
<path stroke="#788cc7" d="M321.6,62.9h0M339.1,69.0h0M309.1,69.5h0M334.0,100.8h0M337.8,67.5h0M344.2,99.1h0M313.5,65.7h0M315.5,92.8h0M344.5,99.4h0M329.2,64.7h0M307.5,77.7h0M319.7,95.6h0M342.7,99.9h0M341.3,71.1h0M349.7,86.0h0M307.2,75.3h0M348.8,90.9h0M349.5,87.7h0M318.7,94.0h0M332.0,100.9h0M334.6,101.6h0M326.8,62.4h0M334.3,64.2h0M333.9,101.7h0M310.8,67.3h0M326.1,62.4h0M317.9,94.6h0M307.4,75.6h0M312.1,65.2h0M339.8,69.1h0M327.5,99.7h0M320.1,95.4h0M332.4,64.1h0M349.4,88.0h0M311.8,86.4h0M329.5,100.3h0M347.3,80.9h0M334.5,100.1h0M345.9,75.4h0M310.0,67.7h0M346.2,77.9h0M307.9,80.6h0M323.7,62.5h0M314.0,92.5h0M335.4,66.6h0M337.7,68.4h0M327.5,99.9h0M317.2,63.1h0M309.1,71.9h0M330.1,63.7h0M315.2,63.1h0M339.4,70.0h0M348.3,85.4h0M341.9,99.6h0M347.5,82.8h0M320.9,63.4h0M347.8,79.3h0M345.6,97.2h0M310.0,85.5h0M348.7,83.7h0M308.3,82.9h0M313.3,91.2h0M309.4,69.2h0M335.3,66.1h0M312.9,89.5h0M314.0,64.9h0M347.8,93.4h0M346.6,97.9h0M337.0,100.3h0M321.5,97.3h0M318.3,94.7h0M307.5,76.2h0M332.3,100.4h0M343.2,97.5h0M337.9,100.5h0M325.6,98.0h0M336.1,99.8h0M316.9,63.3h0M328.5,63.2h0M349.6,85.1h0M329.7,64.0h0M313.7,92.0h0M348.4,88.5h0M343.5,98.9h0M341.2,100.0h0M321.2,96.4h0M344.0,73.3h0M345.9,77.7h0M310.9,85.7h0M342.4,71.8h0M333.0,64.3h0M344.8,99.8h0M308.2,81.5h0M307.0,80.2h0M336.9,99.2h0M315.5,63.1h0M346.8,79.5h0M315.5,92.1h0M344.8,73.9h0M339.2,99.2h0M323.7,63.5h0M312.5,89.2h0M333.9,64.0h0M311.1,87.1h0M340.9,69.1h0M348.8,92.4h0M347.2,95.7h0M348.6,93.9h0M338.4,101.0h0M329.4,63.2h0M348.8,82.5h0M322.5,97.5h0M345.4,98.9h0M324.8,97.3h0M310.0,68.5h0M339.8,99.5h0M345.0,98.5h0M309.3,71.6h0M348.5,90.6h0M316.3,63.1h0M347.9,94.5h0M346.9,95.9h0M347.7,83.6h0M346.8,95.1h0M349.7,88.8h0M329.1,99.1h0M343.2,98.1h0"/>
<path stroke="#697dbc" d="M341.8,98.5h0M328.5,65.5h0M346.5,88.7h0M336.4,69.4h0M315.0,65.2h0M333.7,98.3h0M309.3,76.9h0M321.4,95.3h0M338.1,69.5h0M340.9,72.0h0M319.4,64.5h0M331.1,99.9h0M310.9,82.8h0M309.4,82.3h0M344.8,75.4h0M343.8,75.0h0M326.7,97.3h0M309.9,73.3h0M316.2,65.5h0M329.0,64.2h0M347.7,88.9h0M311.0,85.2h0M313.3,86.7h0M309.9,82.5h0M308.2,78.8h0M310.4,72.1h0M342.8,74.0h0M318.0,91.4h0M309.1,77.1h0M319.7,64.1h0M308.9,79.6h0M346.1,82.2h0M328.1,98.4h0M324.7,63.8h0M346.8,85.5h0M310.1,70.8h0M338.6,70.5h0M339.8,98.7h0M332.9,99.4h0M332.5,66.4h0M318.4,64.0h0M316.4,90.1h0M322.8,96.8h0M312.6,67.6h0M325.7,96.7h0M310.0,84.0h0M312.6,86.5h0M330.6,65.4h0M309.3,74.3h0M345.8,80.7h0M316.1,91.9h0M321.6,94.8h0M322.2,96.6h0M311.4,67.6h0M317.1,92.3h0M309.9,74.5h0M314.3,89.3h0M346.2,83.2h0M309.6,76.0h0M344.8,76.1h0M347.4,91.9h0M328.6,98.6h0M318.5,93.5h0M347.7,86.8h0M344.5,96.6h0M331.7,65.7h0M344.9,95.7h0M346.6,94.5h0M314.5,65.9h0M311.8,85.3h0M332.7,65.4h0M309.7,79.9h0M311.5,68.9h0M333.5,99.1h0M346.7,91.9h0M347.3,84.3h0M334.4,66.0h0M309.1,73.5h0M328.0,64.0h0M331.1,65.5h0M309.1,80.2h0M344.7,94.6h0M314.2,88.9h0M316.7,65.0h0M337.7,69.5h0M340.8,97.8h0M339.9,70.4h0M336.4,68.0h0M331.4,99.8h0M310.7,69.7h0M312.5,66.1h0M327.9,64.6h0M331.9,65.7h0M337.1,98.4h0M308.7,79.1h0M346.3,86.6h0M347.6,86.7h0M322.7,64.4h0M312.7,67.2h0M314.2,90.0h0M345.4,93.5h0M346.9,81.2h0M345.1,78.5h0M330.2,98.5h0M347.6,85.2h0M346.6,84.2h0M308.7,77.8h0M320.9,94.0h0M335.8,67.8h0M324.6,96.6h0M343.6,75.8h0M339.5,71.9h0M325.0,64.0h0M310.1,81.7h0M315.2,90.0h0M309.8,75.8h0M344.9,96.7h0M343.0,75.0h0M328.0,97.6h0M326.3,64.0h0M346.4,93.2h0M345.0,80.1h0M337.3,98.5h0M347.5,90.3h0M311.6,70.3h0M342.9,97.1h0M310.3,70.0h0M347.4,89.3h0M334.9,98.8h0M342.4,97.2h0M343.9,95.2h0M345.1,96.0h0M347.2,84.5h0"/>
<path stroke="#596fb0" d="M343.8,81.5h0M316.3,89.4h0M310.9,77.9h0M341.2,96.6h0M344.0,77.8h0M320.1,66.8h0M322.5,65.5h0M337.7,70.8h0M336.6,70.1h0M345.6,90.6h0M335.7,69.1h0M312.9,84.9h0M325.4,95.2h0M344.3,80.6h0M317.5,65.5h0M312.9,84.1h0M333.9,68.1h0M326.3,95.5h0M333.5,96.9h0M330.5,66.1h0M331.2,97.9h0M331.1,96.7h0M333.7,98.0h0M313.2,68.3h0M326.6,65.1h0M310.1,79.3h0M311.5,71.7h0M342.6,76.4h0M317.4,65.1h0M312.4,81.9h0M338.5,71.7h0M342.5,75.4h0M321.1,91.5h0M345.8,87.6h0M318.4,90.7h0M312.4,69.4h0M317.8,65.9h0M311.6,81.2h0M343.3,93.8h0M315.1,88.9h0M345.3,84.0h0M320.3,92.5h0M314.5,68.3h0M345.4,83.2h0M330.8,66.3h0M317.4,65.8h0M314.1,86.0h0M312.1,68.4h0M332.7,97.9h0M311.8,72.9h0M332.9,67.6h0M320.1,92.6h0M342.3,75.1h0M312.1,84.3h0M331.5,97.7h0M345.9,85.0h0M310.7,75.2h0M341.8,73.4h0M319.1,91.6h0M330.8,67.0h0M323.1,94.2h0M327.7,65.8h0M327.1,66.6h0M315.4,89.0h0M311.2,79.7h0M337.1,70.8h0M340.8,73.1h0M310.7,79.8h0M341.6,75.4h0M341.4,73.2h0M329.7,98.0h0M339.3,72.9h0M326.8,95.9h0M345.0,88.6h0M342.4,78.0h0M310.5,76.0h0M311.5,72.2h0M312.7,71.6h0M319.8,65.2h0M324.0,95.9h0M326.6,65.7h0M337.7,97.7h0M343.0,76.8h0M327.5,65.4h0M315.5,66.4h0M344.6,83.1h0M323.0,65.4h0M315.1,66.1h0M315.2,87.4h0M336.0,96.5h0M321.5,93.8h0M331.1,97.6h0M344.6,94.0h0M313.9,85.7h0M310.8,78.3h0M335.2,69.1h0M311.2,74.7h0M317.1,88.6h0M329.5,97.3h0M321.4,66.2h0M313.7,67.0h0M312.3,68.4h0M310.2,78.3h0M325.3,65.1h0M313.6,83.7h0M318.4,89.7h0M337.6,96.6h0M312.6,82.5h0M324.8,66.9h0M324.3,65.6h0M317.7,89.9h0M332.0,96.7h0M320.8,65.5h0M338.8,97.7h0M344.4,80.2h0M319.4,65.9h0M343.6,94.4h0M333.4,97.5h0M342.1,96.0h0M338.6,97.8h0M333.9,98.0h0M322.2,93.9h0M345.2,91.6h0M345.3,89.0h0M341.6,96.6h0M345.3,92.6h0M339.9,97.9h0M323.2,95.7h0M314.3,87.4h0M319.6,90.4h0M327.6,96.9h0M312.8,72.6h0M344.6,92.9h0M336.2,97.4h0M345.8,90.1h0M316.5,89.1h0"/>
<path stroke="#4a60a5" d="M331.7,68.6h0M343.3,86.7h0M326.6,94.8h0M328.4,94.6h0M317.6,67.4h0M313.0,71.5h0M317.4,67.2h0M331.0,68.1h0M337.5,72.6h0M343.8,84.2h0M333.6,95.8h0M314.1,81.7h0M313.5,74.0h0M317.7,70.7h0M314.5,76.4h0M339.0,74.2h0M331.5,69.6h0M337.1,73.8h0M342.8,90.8h0M342.1,82.1h0M344.3,86.1h0M313.6,75.8h0M344.0,90.9h0M312.5,81.0h0M340.3,74.1h0M343.9,83.1h0M322.8,67.0h0M337.8,73.9h0M315.1,72.9h0M316.3,87.0h0M335.5,94.4h0M317.8,67.3h0M322.7,92.0h0M342.1,80.5h0M319.3,89.9h0M344.0,82.0h0M344.7,88.3h0M342.9,79.1h0M329.0,95.9h0M315.2,69.4h0M319.8,67.7h0M321.8,67.1h0M321.0,67.3h0M317.0,86.8h0M318.8,67.7h0M314.0,84.4h0M330.2,68.8h0M327.3,67.6h0M340.8,76.2h0M313.4,80.7h0M342.7,93.8h0M312.1,80.0h0M344.0,83.3h0M315.1,70.8h0M312.0,76.6h0M319.2,89.5h0M342.1,81.3h0M337.1,72.8h0M334.6,70.6h0M341.7,78.9h0M335.3,71.6h0M339.9,96.0h0M314.0,72.2h0M337.0,95.9h0M330.4,68.4h0M328.3,95.5h0M342.3,93.1h0M313.2,82.5h0M340.9,74.7h0M312.3,76.2h0M315.7,85.6h0M321.4,90.3h0M339.6,74.8h0M318.2,87.6h0M341.5,94.9h0M334.8,70.1h0M326.5,67.8h0M343.6,85.3h0M315.5,73.3h0M316.4,68.1h0M323.7,67.8h0M312.3,74.1h0M313.3,78.4h0M325.8,68.2h0M324.1,67.2h0M342.6,80.0h0M319.0,68.8h0M329.1,94.6h0M313.6,77.8h0M314.0,70.0h0M334.7,95.3h0M333.3,69.1h0M331.8,95.2h0M324.9,68.1h0M343.1,90.1h0M329.9,95.8h0M325.5,94.3h0M335.5,72.2h0M344.8,89.6h0M312.2,77.9h0M341.3,77.6h0M318.6,88.9h0M313.1,75.9h0M316.2,87.6h0M332.2,95.3h0M343.8,87.6h0M313.8,82.4h0M315.9,86.9h0M312.0,74.2h0M342.9,91.8h0M342.7,90.9h0M315.6,68.7h0M316.8,69.9h0M319.6,68.3h0M312.2,79.0h0M317.9,68.5h0M314.5,82.7h0M314.1,83.3h0M328.0,67.2h0M316.3,68.6h0M328.9,67.3h0M341.7,93.1h0M344.8,86.6h0M343.8,85.4h0M314.2,69.3h0M342.8,80.0h0M344.6,89.5h0M324.9,93.8h0M336.2,95.9h0M339.9,94.1h0M315.8,71.1h0M334.7,95.9h0M336.5,95.4h0M342.2,79.5h0M342.1,93.2h0M343.5,88.0h0M332.5,95.8h0M335.3,71.1h0M318.9,67.0h0M344.7,86.8h0M340.1,94.3h0M344.0,91.6h0M315.7,86.2h0M312.8,73.6h0M320.5,89.9h0M312.9,79.0h0M323.5,91.6h0M312.1,75.1h0M343.0,93.6h0M333.4,95.7h0M338.6,95.1h0M327.6,94.4h0M323.7,92.8h0M344.5,89.8h0M330.6,95.3h0"/>
<path stroke="#43579c" d="M335.0,73.6h0M334.4,72.0h0M340.8,80.7h0M315.2,78.4h0M317.0,77.9h0M316.3,75.1h0M326.1,69.9h0M315.6,79.4h0M316.2,81.8h0M341.7,84.5h0M318.5,70.7h0M330.0,93.8h0M338.9,75.5h0M318.0,73.8h0M316.7,83.2h0M318.7,85.9h0M341.1,86.2h0M318.1,86.8h0M339.4,86.9h0M319.4,70.3h0M339.9,76.2h0M337.9,91.3h0M325.0,90.8h0M340.6,82.7h0M318.8,70.1h0M318.2,70.3h0M328.4,69.5h0M325.7,69.1h0M342.3,88.0h0M340.7,79.3h0M329.3,69.7h0M341.9,86.3h0M318.7,72.6h0M322.3,89.0h0M341.7,89.6h0M316.7,79.3h0M316.6,77.2h0M340.8,90.5h0M317.9,85.4h0M331.7,92.7h0M316.7,85.0h0M317.2,80.4h0M340.1,78.3h0M340.7,78.0h0M339.7,89.4h0M321.7,88.8h0M322.9,69.2h0M340.9,89.4h0M341.5,84.9h0M317.7,82.0h0M317.6,72.8h0M340.0,77.1h0M315.2,81.6h0M316.3,73.1h0M327.3,91.9h0M342.0,83.2h0M315.4,75.0h0M316.1,83.8h0M331.7,93.0h0M323.0,70.0h0M340.5,83.9h0M336.4,74.4h0M315.3,74.6h0M327.7,69.1h0M322.8,89.4h0M321.2,70.5h0M333.2,71.1h0M339.8,80.6h0M320.0,88.0h0M325.6,92.8h0M324.8,91.7h0M319.4,87.5h0M339.1,77.4h0M317.1,81.2h0M330.3,70.2h0M316.1,84.6h0M319.3,69.3h0M324.5,69.1h0M339.4,90.6h0M316.7,73.9h0M315.1,80.2h0M320.6,70.1h0M317.7,85.2h0M334.9,72.2h0M339.6,92.7h0M316.4,77.4h0M335.7,75.0h0M329.2,92.9h0M338.9,91.1h0M339.5,81.4h0M342.8,87.1h0M316.8,72.7h0M327.0,93.4h0M339.9,92.4h0M333.1,94.0h0M324.6,91.2h0M338.0,74.7h0M339.9,76.6h0M333.0,70.1h0M323.5,88.7h0M341.8,85.7h0M319.7,73.5h0M326.3,69.2h0M326.2,92.4h0M340.3,78.6h0M337.7,77.2h0M317.7,82.4h0M340.9,81.0h0M315.2,76.2h0M335.3,75.6h0M322.9,89.9h0M316.3,74.3h0M326.0,91.5h0M339.4,76.8h0M322.1,69.0h0M315.8,78.6h0M340.3,85.5h0M342.0,82.6h0M332.8,71.7h0M339.6,88.5h0M317.9,76.1h0M331.7,94.0h0M336.9,93.9h0M328.2,93.3h0M337.1,93.5h0M318.5,71.9h0M338.2,93.3h0M338.8,93.3h0M340.9,91.9h0M320.6,85.9h0M316.0,72.0h0M338.1,75.4h0M335.8,93.2h0M321.0,88.0h0M336.0,74.9h0M316.5,84.2h0M332.0,71.5h0M326.9,69.0h0M331.6,70.6h0M342.4,87.3h0M315.5,78.1h0M339.8,87.4h0M337.9,94.0h0M342.4,85.2h0M326.7,91.9h0M326.6,92.4h0M318.3,83.4h0M336.5,92.7h0M339.2,77.0h0M319.4,69.1h0M330.3,93.5h0M342.4,86.7h0M342.1,87.8h0M339.8,85.8h0M328.2,93.8h0M327.6,69.9h0M334.4,93.9h0M334.6,93.7h0"/>
<path stroke="#3c4f93" d="M326.2,90.8h0M338.4,85.9h0M335.8,76.1h0M338.2,85.6h0M333.6,92.0h0M327.9,72.5h0M320.7,74.1h0M326.6,71.6h0M320.4,80.9h0M338.3,84.3h0M326.1,71.0h0M331.9,73.6h0M319.3,75.6h0M337.0,90.8h0M319.3,79.7h0M321.0,82.3h0M334.9,77.6h0M337.7,85.3h0M338.9,82.2h0M318.3,76.2h0M333.3,76.1h0M331.0,91.9h0M338.7,79.4h0M323.8,71.7h0M322.2,86.0h0M333.0,73.1h0M331.5,91.4h0M328.3,91.8h0M338.9,80.1h0M335.8,90.8h0M325.0,72.4h0M322.9,71.5h0M336.7,87.3h0M319.3,83.4h0M329.7,71.3h0M339.0,80.6h0M324.1,87.3h0M336.7,79.5h0M329.0,91.1h0M322.3,87.0h0M319.0,77.5h0M332.6,73.3h0M326.7,90.9h0M328.8,71.4h0M325.4,87.8h0M331.8,72.6h0M335.9,90.0h0M334.5,90.5h0M331.6,73.7h0M333.8,91.5h0M337.5,79.9h0M319.6,74.5h0M318.6,76.5h0M323.9,71.0h0M319.2,79.4h0M321.7,74.1h0M320.4,75.5h0M320.0,85.0h0M325.0,71.5h0M337.5,80.6h0M333.2,91.8h0M322.3,71.1h0M327.5,91.0h0M338.9,86.8h0M338.3,88.0h0M337.8,82.4h0M340.0,84.6h0M334.4,91.3h0M334.2,75.0h0M325.2,89.6h0M321.9,72.9h0M320.4,72.1h0M318.1,77.4h0M329.8,71.1h0M329.8,71.3h0M318.2,81.7h0M336.7,90.0h0M332.2,74.8h0M323.4,72.5h0M330.1,72.0h0M334.9,76.0h0M318.7,76.8h0M337.4,89.6h0M332.2,91.3h0M319.4,83.8h0M330.7,73.1h0M321.0,72.5h0M322.2,71.9h0M325.4,89.4h0M330.7,91.5h0M337.9,83.3h0M319.1,81.9h0M320.8,75.1h0M338.0,86.5h0M328.7,71.1h0M335.4,87.9h0M334.9,91.8h0M337.9,87.9h0M324.3,88.1h0M328.8,91.6h0M318.3,80.4h0M333.7,91.3h0M338.8,83.5h0M337.3,89.9h0M321.6,71.1h0M321.1,85.0h0M335.8,89.7h0M338.6,79.1h0M330.3,90.8h0M334.0,75.4h0M336.9,83.2h0M320.1,73.2h0M323.3,87.3h0M320.5,84.2h0M331.6,72.6h0M338.8,79.0h0M327.7,71.0h0M333.9,74.5h0M335.5,78.9h0M320.0,77.1h0M326.6,72.1h0M339.0,86.3h0M336.1,87.5h0M320.5,78.6h0M337.0,77.9h0M320.3,73.5h0M319.1,83.8h0M321.3,85.9h0M329.8,91.8h0M332.8,74.4h0M320.4,72.6h0M336.8,79.9h0M319.6,78.2h0M337.0,84.1h0M335.8,76.3h0M338.7,82.7h0M318.0,78.6h0M328.7,91.6h0M337.5,87.8h0M329.8,73.1h0M323.6,88.0h0M326.8,90.9h0M339.6,84.1h0"/>
<path stroke="#35468a" d="M335.7,80.1h0M333.6,83.6h0M331.2,79.9h0M329.8,79.3h0M329.1,89.4h0M332.8,76.1h0M333.9,87.9h0M333.5,88.7h0M328.7,74.2h0M333.0,84.5h0M328.8,75.6h0M329.7,76.3h0M327.0,74.1h0M332.4,81.8h0M322.7,83.7h0M322.5,77.6h0M324.5,82.4h0M334.0,84.5h0M333.1,88.4h0M330.7,75.3h0M322.1,83.3h0M326.9,85.3h0M326.0,79.1h0M330.2,87.7h0M326.6,84.7h0M327.3,85.7h0M322.1,75.8h0M329.5,74.1h0M325.0,74.0h0M324.4,75.1h0M335.8,82.2h0M327.8,84.6h0M328.5,76.6h0M327.8,74.4h0M324.7,85.8h0M333.7,79.5h0M321.2,79.4h0M322.0,75.7h0M333.7,88.9h0M324.2,76.9h0M323.7,74.9h0M324.9,77.5h0M326.1,83.8h0M324.3,80.0h0M327.8,78.7h0M327.5,89.0h0M330.6,89.8h0M326.8,80.6h0M325.4,75.1h0M328.2,88.1h0M323.7,79.2h0M335.8,82.8h0M335.7,84.9h0M326.3,87.5h0M333.5,80.3h0M330.4,82.1h0M323.1,84.4h0M332.9,86.8h0M325.6,84.6h0M323.1,82.7h0M335.8,84.1h0M331.1,76.1h0M330.8,75.1h0M327.9,83.3h0M322.2,81.8h0M327.0,87.8h0M322.0,81.2h0M321.2,77.2h0M329.2,86.7h0M335.8,86.0h0M326.4,87.9h0M323.3,74.0h0M331.4,81.3h0M331.6,88.0h0M327.5,86.4h0M331.7,79.1h0M328.0,79.6h0M329.3,78.7h0M329.0,89.9h0M332.4,80.3h0M323.4,75.8h0M329.3,75.4h0M332.0,77.2h0M321.1,79.0h0M330.9,88.0h0M326.7,77.1h0M336.0,80.5h0M326.4,78.6h0M321.3,77.6h0M326.9,85.2h0M330.7,87.3h0M332.7,76.1h0M329.9,77.2h0M334.5,82.7h0M332.6,78.0h0M327.9,86.9h0M335.6,84.0h0M333.6,87.7h0M335.4,85.4h0M326.2,78.0h0M332.4,82.8h0M327.6,88.5h0M332.6,85.4h0M332.6,76.4h0M332.7,85.9h0M334.6,86.6h0M322.7,83.1h0M327.1,76.5h0M321.7,79.5h0M335.0,86.9h0M322.1,76.5h0M331.2,76.4h0M332.0,83.1h0M323.1,80.5h0M329.5,83.2h0M322.8,83.4h0M331.2,87.0h0M331.9,90.0h0M322.6,82.3h0M322.2,78.5h0M330.6,77.3h0M331.0,88.6h0M335.3,81.0h0M330.4,75.1h0M328.8,87.8h0M327.0,84.2h0M326.7,81.0h0M324.8,81.4h0M329.7,88.6h0M333.9,82.8h0M333.8,78.2h0M333.9,82.2h0M323.3,81.8h0M324.7,83.5h0M325.0,83.3h0M327.9,77.9h0M324.2,85.9h0M329.2,80.3h0M329.2,85.1h0M325.7,74.2h0M325.5,75.5h0M330.2,80.2h0M325.2,78.6h0M332.8,87.8h0M323.6,84.5h0M328.0,81.9h0M329.8,84.4h0M326.6,82.3h0M330.7,86.3h0M331.2,84.4h0M323.6,80.3h0M325.7,86.4h0M321.2,78.1h0M331.1,83.4h0M334.9,79.7h0M330.8,89.7h0"/>
</g>
<rect x="244" y="8" width="198.2" height="177.5" fill="none" stroke="#7a7a7a" stroke-width="1.1"/>
<g stroke="#4d4d4d" stroke-width="0.8">
<line x1="241.6" x2="244" y1="178.5" y2="178.5"/>
<line x1="241.6" x2="244" y1="132.5" y2="132.5"/>
<line x1="241.6" x2="244" y1="86.5" y2="86.5"/>
<line x1="241.6" x2="244" y1="40.5" y2="40.5"/>
<line y1="185.5" y2="188" x1="281.4" x2="281.4"/>
<line y1="185.5" y2="188" x1="332.3" x2="332.3"/>
<line y1="185.5" y2="188" x1="383.2" x2="383.2"/>
<line y1="185.5" y2="188" x1="434.0" x2="434.0"/>
</g>
<text x="225.2" y="183.0" font-size="12.9" fill="#262626" stroke="#262626" stroke-width="0.3" textLength="15.4" lengthAdjust="spacingAndGlyphs">0.0</text>
<text x="225.2" y="137.0" font-size="12.9" fill="#262626" stroke="#262626" stroke-width="0.3" textLength="15.4" lengthAdjust="spacingAndGlyphs">0.5</text>
<text x="225.2" y="91.0" font-size="12.9" fill="#262626" stroke="#262626" stroke-width="0.3" textLength="15.4" lengthAdjust="spacingAndGlyphs">1.0</text>
<text x="225.2" y="45.0" font-size="12.9" fill="#262626" stroke="#262626" stroke-width="0.3" textLength="15.4" lengthAdjust="spacingAndGlyphs">1.5</text>
<text x="271.4" y="198.2" font-size="12.9" fill="#262626" stroke="#262626" stroke-width="0.3" textLength="20.1" lengthAdjust="spacingAndGlyphs">−0.5</text>
<text x="324.6" y="198.2" font-size="12.9" fill="#262626" stroke="#262626" stroke-width="0.3" textLength="15.4" lengthAdjust="spacingAndGlyphs">0.0</text>
<text x="375.5" y="198.2" font-size="12.9" fill="#262626" stroke="#262626" stroke-width="0.3" textLength="15.4" lengthAdjust="spacingAndGlyphs">0.5</text>
<text x="426.3" y="198.2" font-size="12.9" fill="#262626" stroke="#262626" stroke-width="0.3" textLength="15.4" lengthAdjust="spacingAndGlyphs">1.0</text>
<text x="312.5" y="209.6" font-size="12.9" stroke="#141414" stroke-width="0.3" textLength="59.1" lengthAdjust="spacingAndGlyphs">1−cv[DFMO]</text>
<text transform="translate(219.7,146.2) rotate(-90)" font-size="12.9" stroke="#141414" stroke-width="0.3" textLength="72.1" lengthAdjust="spacingAndGlyphs">cv[non−DFMO]</text>
<text x="410.2" y="20.9" font-size="12.9" stroke="#141414" stroke-width="0.3" textLength="27.4" lengthAdjust="spacingAndGlyphs">143B</text>
<text x="210.4" y="16.1" font-size="21.5" font-weight="bold" fill="#000" textLength="10.6" lengthAdjust="spacingAndGlyphs">b</text>
<g id="sczosm" fill="none" stroke-width="3.5" stroke-linecap="round">
<path stroke="#a7be81" d="M513.0,89.8h0M521.3,59.7h0M528.1,104.1h0M563.9,116.3h0M550.1,113.5h0M577.0,76.4h0M549.6,55.2h0M514.9,96.3h0M536.8,105.1h0M562.6,66.0h0M517.9,80.3h0M554.5,111.7h0M551.6,59.8h0M517.2,55.6h0M518.8,65.8h0M516.6,77.2h0M525.6,98.0h0M539.0,106.9h0M530.3,108.9h0M514.9,57.3h0M574.7,76.9h0M549.8,56.1h0M560.1,114.5h0M533.5,59.5h0M517.3,74.6h0M518.2,74.6h0M558.6,59.5h0M579.4,82.2h0M565.9,66.8h0M523.9,58.6h0M563.5,63.1h0M518.5,81.0h0M517.0,69.7h0M559.5,64.3h0M572.8,72.2h0M539.2,57.0h0M534.1,101.3h0M600.3,98.6h0M521.6,105.2h0M549.7,112.8h0M539.0,109.1h0M582.0,94.2h0M564.9,69.0h0M565.6,114.1h0M580.8,82.8h0M587.5,89.1h0M579.3,85.7h0M581.0,88.9h0M514.9,67.2h0M574.7,76.1h0M573.6,73.2h0M570.5,112.0h0M584.7,129.3h0M595.8,124.1h0M583.0,119.6h0M585.9,123.1h0M580.5,116.4h0M543.7,108.1h0M568.9,125.2h0M585.1,120.3h0M584.3,110.9h0M581.7,104.6h0M590.8,106.2h0M580.8,104.1h0M595.7,101.2h0M580.4,114.2h0M517.8,58.1h0M583.8,102.6h0M563.4,116.0h0M563.6,113.8h0M581.7,120.2h0M555.6,117.0h0M512.3,61.8h0M578.2,124.1h0M584.8,112.7h0M578.0,121.4h0M593.6,113.9h0M581.6,98.5h0M594.7,128.9h0M583.9,111.5h0M565.8,117.2h0M597.7,115.0h0M583.6,101.5h0M568.6,114.1h0M585.9,107.1h0M576.3,121.0h0M595.5,122.6h0M575.6,117.7h0M581.9,102.1h0M566.1,116.9h0M598.0,116.4h0M572.7,116.1h0M583.7,111.9h0M584.8,115.3h0M599.6,128.6h0M572.2,120.9h0M588.2,104.5h0M531.3,60.3h0M576.3,114.7h0M590.3,129.6h0M571.2,116.5h0M590.6,101.3h0M584.6,98.5h0M595.1,123.5h0M592.8,127.3h0M589.8,119.5h0M582.2,114.2h0M594.9,107.8h0M572.3,116.8h0M575.9,115.8h0M579.1,126.3h0M578.5,116.2h0M581.5,105.3h0M581.3,100.4h0M585.7,107.6h0M517.2,68.6h0M570.3,117.3h0M583.8,108.3h0M553.8,112.8h0M577.6,114.3h0M595.3,117.2h0M579.4,118.0h0M580.7,107.3h0M585.4,114.5h0M582.9,101.5h0M586.9,108.6h0M579.5,120.7h0M566.2,113.6h0M525.6,55.9h0M564.1,114.2h0M581.1,109.7h0M578.5,116.8h0M571.3,122.5h0M573.6,118.1h0M581.9,92.4h0M581.4,110.2h0M587.2,116.9h0M580.9,112.7h0M579.2,114.0h0M572.4,115.0h0M592.6,113.9h0M579.2,115.3h0M517.5,75.0h0M587.3,109.8h0M576.4,122.4h0M589.3,111.9h0M558.9,115.3h0M603.7,127.3h0M583.6,95.0h0M571.1,115.9h0M591.1,107.1h0M567.0,70.3h0M580.2,144.5h0M607.3,160.6h0M571.9,138.3h0M571.9,134.4h0M552.6,121.8h0M615.1,168.5h0M563.2,129.0h0M676.5,177.2h0M642.2,173.0h0M579.9,144.0h0M547.5,113.6h0M573.3,147.7h0M608.5,163.2h0M574.1,125.2h0M649.0,172.4h0M586.7,145.5h0M569.7,138.8h0M591.6,158.7h0M648.8,172.8h0M577.1,144.2h0M620.6,166.7h0M608.6,160.3h0M563.2,126.3h0M578.5,145.2h0M652.1,175.0h0M669.3,177.6h0M613.2,163.5h0M598.1,154.1h0M654.2,171.1h0M558.7,121.9h0M567.1,124.4h0M586.7,151.5h0M605.5,160.1h0M672.1,177.5h0M580.6,156.2h0M567.1,143.3h0M590.1,158.1h0M671.9,177.2h0M653.8,173.9h0M642.1,170.7h0M576.5,139.4h0M628.5,164.9h0M590.2,155.3h0M565.4,140.2h0M594.4,157.3h0M639.7,170.2h0M596.5,156.2h0M574.7,138.2h0M597.6,157.2h0M663.8,173.6h0M659.8,174.9h0M662.8,174.5h0M582.1,125.5h0M647.8,172.1h0M554.4,136.1h0M564.0,134.7h0M567.1,137.9h0M624.9,156.2h0M622.7,166.1h0M644.2,169.2h0M588.4,150.0h0M608.1,161.8h0M597.4,160.3h0M641.5,171.2h0M598.7,159.8h0M665.4,175.0h0M589.1,146.4h0M613.5,160.6h0M574.4,146.4h0M562.4,133.8h0M664.7,176.5h0M594.5,161.2h0M566.6,147.0h0M582.6,157.4h0M586.7,153.4h0M574.0,133.1h0M559.2,125.5h0M590.0,160.4h0M656.4,173.4h0M569.3,135.2h0M638.8,171.9h0M555.2,112.7h0M651.2,172.2h0M545.2,111.4h0M630.7,164.0h0M675.1,177.2h0M633.6,171.8h0M618.2,168.8h0M613.6,166.1h0M627.6,168.7h0M575.6,142.7h0M624.3,154.4h0M587.9,154.6h0M570.9,115.1h0M573.2,127.4h0M565.8,144.9h0M640.1,170.8h0M615.9,161.4h0M553.1,124.9h0M663.0,176.4h0M601.5,155.5h0M600.0,153.5h0M663.5,173.2h0M578.0,144.4h0M604.3,164.3h0M668.6,177.0h0M610.5,164.1h0M645.7,172.5h0M579.7,148.2h0M579.2,129.1h0M577.4,151.1h0M560.5,132.5h0M576.5,146.8h0M656.7,175.8h0M667.4,177.1h0M567.8,145.9h0M566.3,130.8h0M614.8,155.8h0M633.8,168.3h0M618.9,157.7h0M570.6,134.7h0M632.1,172.1h0M652.6,172.5h0M555.2,132.1h0M574.5,136.7h0M564.7,141.8h0M590.8,153.9h0M638.5,169.7h0M625.8,168.6h0M553.1,121.9h0M555.5,130.4h0M583.1,148.8h0M613.0,162.2h0M633.0,166.8h0M656.5,173.7h0M582.9,155.5h0M622.0,164.8h0M667.6,176.1h0M607.8,161.9h0M568.7,136.5h0M619.2,165.4h0M553.3,112.0h0M553.6,116.7h0M558.0,134.1h0M549.8,126.6h0M584.9,137.9h0M593.4,156.6h0M613.7,165.7h0M549.8,125.3h0M643.6,171.1h0M673.9,175.8h0M601.2,159.5h0M638.9,172.4h0M580.1,149.2h0M624.7,165.4h0M629.6,164.3h0M546.3,120.3h0M638.3,168.6h0M545.6,119.5h0M558.7,129.8h0M634.4,167.3h0M623.9,169.7h0M551.5,120.2h0M571.1,140.1h0M563.0,130.4h0M644.5,169.7h0M569.2,139.1h0M653.0,172.1h0M646.0,171.1h0M639.1,172.3h0M641.7,169.9h0M579.7,130.9h0M620.0,161.4h0M612.0,165.1h0M616.9,165.7h0M625.8,165.7h0M627.4,167.6h0M591.8,158.9h0M670.6,177.4h0M636.3,169.6h0M626.6,170.1h0M570.6,145.6h0M580.8,134.9h0M652.5,174.4h0M646.9,172.2h0M616.6,151.7h0M546.9,117.0h0M549.7,122.0h0M638.5,171.6h0M632.4,169.8h0M558.6,118.6h0M565.8,141.5h0M593.7,155.9h0M655.5,174.3h0M577.1,138.1h0M664.8,175.7h0M630.3,169.9h0M590.2,143.4h0M630.1,171.7h0M587.2,153.5h0M551.3,120.4h0M667.3,175.4h0M561.1,134.7h0M577.3,142.4h0M611.7,158.9h0M637.0,171.1h0M603.5,157.0h0M549.3,114.1h0M562.4,140.8h0M668.2,175.4h0M586.6,155.2h0M546.3,115.4h0M623.2,168.2h0M624.8,169.2h0M572.8,122.7h0M608.9,164.2h0M554.2,117.9h0M587.4,140.1h0M588.0,158.5h0M612.2,167.9h0M627.6,166.4h0M576.5,142.7h0M617.6,167.1h0M589.8,158.3h0M646.1,168.8h0M605.4,167.4h0M670.6,175.8h0M577.4,141.4h0M588.9,151.5h0M583.9,154.7h0M593.3,149.4h0M607.0,164.2h0M643.4,172.3h0M629.2,166.1h0M577.3,153.6h0M581.8,151.6h0M588.9,155.3h0M604.4,165.2h0M606.2,160.1h0M628.5,170.1h0M557.0,133.9h0M609.8,161.3h0M671.1,175.8h0M605.9,160.5h0M555.6,128.3h0M588.8,143.6h0M625.4,166.6h0M579.1,155.0h0M613.6,164.2h0M621.1,164.1h0M629.9,168.1h0M589.4,160.2h0M595.9,162.7h0M593.6,158.3h0M581.0,143.5h0M639.2,173.7h0M587.0,144.3h0M616.5,167.2h0M650.8,175.1h0M597.3,159.1h0M620.3,168.6h0M649.5,170.7h0M585.4,130.6h0M609.3,156.0h0M626.0,170.6h0M630.6,164.9h0M555.8,131.3h0M572.2,132.7h0M586.2,149.5h0M558.8,125.5h0M585.0,117.8h0M596.0,161.7h0M656.2,174.5h0M556.0,112.8h0M603.1,155.7h0M644.2,172.2h0M570.2,130.1h0M561.4,113.6h0M629.2,168.5h0M608.4,159.9h0M675.1,177.3h0M611.1,160.3h0M582.8,153.5h0M636.2,167.8h0M602.7,160.9h0M621.9,165.0h0M635.2,168.2h0M548.9,113.8h0M555.2,117.3h0M622.6,159.8h0M646.0,173.9h0M660.9,176.3h0M644.1,174.5h0M625.6,170.4h0M618.4,168.1h0M653.1,175.3h0M627.8,167.3h0M611.5,167.8h0M650.5,171.8h0M607.8,165.2h0M603.4,164.6h0M593.7,160.1h0M608.0,165.9h0M660.6,174.3h0M610.0,165.2h0M600.4,164.5h0M592.2,158.9h0M627.3,171.2h0M672.4,176.7h0M633.1,171.8h0M628.6,169.2h0M657.1,175.6h0M621.7,169.2h0M598.8,162.4h0M615.9,167.6h0M662.0,176.5h0M616.6,167.5h0M649.4,174.4h0M607.8,167.0h0M660.7,175.6h0M608.2,164.4h0M650.8,174.3h0M610.3,162.6h0M592.2,158.4h0M629.3,170.8h0M597.3,163.4h0M606.1,161.1h0M646.1,171.9h0M600.1,159.7h0M630.8,170.8h0M634.2,172.2h0M588.3,159.3h0M587.5,155.8h0M658.9,175.9h0M670.0,176.1h0M641.2,173.0h0M609.8,165.6h0M658.2,175.2h0M636.3,172.4h0M641.5,173.3h0M673.5,178.1h0M674.7,178.3h0M647.3,174.2h0M675.1,178.3h0M635.6,170.4h0M657.5,175.5h0M595.0,159.8h0M630.8,171.9h0M606.3,163.0h0M595.9,156.4h0M640.8,172.0h0M598.5,163.3h0M644.8,173.7h0M602.1,162.4h0M618.0,165.0h0M607.1,165.7h0M633.7,170.8h0M604.2,159.8h0M599.3,161.3h0M630.0,169.4h0M664.5,176.8h0M665.3,176.5h0M643.0,173.8h0M646.6,173.9h0M595.5,157.3h0M624.7,166.8h0M603.8,163.4h0M601.9,165.8h0M673.3,177.1h0M600.3,162.0h0M591.6,160.5h0M620.7,167.2h0M633.2,170.6h0M617.3,168.7h0M623.7,169.2h0M598.3,159.1h0M613.5,164.3h0M616.4,164.6h0M595.6,158.7h0M593.0,161.1h0M654.0,175.6h0M635.3,172.5h0M621.8,168.0h0M592.8,162.5h0M601.9,165.6h0M611.9,166.5h0M621.2,167.3h0M614.9,166.9h0M604.7,162.2h0M633.3,170.2h0M609.5,167.5h0M668.9,177.4h0M672.0,177.8h0M607.0,166.8h0M608.1,164.0h0M619.7,168.0h0M603.1,165.5h0M666.4,176.0h0M622.1,169.7h0M651.6,174.0h0M661.8,173.8h0M647.9,172.5h0M655.8,175.6h0M614.3,162.4h0M614.8,162.8h0M659.8,176.2h0M667.2,176.5h0M649.2,173.9h0M625.1,142.2h0M594.0,135.6h0M571.2,136.3h0M594.7,134.8h0M596.1,147.4h0M588.4,129.5h0M609.3,154.4h0M589.9,133.8h0M582.7,112.4h0M583.0,136.9h0M608.7,144.2h0M636.3,154.3h0M584.9,118.8h0M603.8,139.1h0M592.6,140.6h0M593.5,138.1h0M574.4,115.1h0M575.4,125.3h0M617.3,147.3h0M574.8,115.5h0M601.8,159.8h0M594.7,145.3h0M604.9,148.5h0M578.8,128.2h0M556.6,127.3h0M607.0,155.5h0M621.6,144.6h0M634.3,162.8h0M611.6,154.5h0M572.6,118.1h0M587.1,134.2h0M609.7,141.5h0M574.2,123.9h0M581.8,113.4h0M591.5,138.0h0M584.4,125.3h0M591.6,130.8h0M589.2,110.8h0M592.0,110.2h0M594.4,153.8h0M614.1,141.1h0M584.3,133.9h0M595.1,144.0h0M570.8,136.2h0M580.5,125.4h0M618.4,141.7h0M603.6,143.2h0M594.5,127.4h0M625.4,148.6h0M589.9,130.8h0M607.1,129.3h0M577.5,129.3h0M609.8,141.1h0M580.2,130.3h0M601.4,120.3h0M565.6,117.6h0M578.1,130.9h0M580.8,124.3h0M600.4,142.0h0M609.8,144.0h0M605.3,152.0h0M579.0,124.4h0M586.0,140.1h0M604.9,141.2h0M626.9,157.3h0M618.8,143.0h0M616.5,142.6h0M585.9,129.2h0M612.4,153.7h0M593.8,134.7h0M610.5,140.6h0M582.3,130.6h0M566.1,112.9h0M610.4,134.5h0M611.2,140.4h0M593.6,119.6h0M576.3,119.3h0M584.8,113.3h0M586.7,121.1h0M569.0,112.8h0M591.0,127.1h0M625.8,143.5h0M622.9,157.7h0M597.6,131.5h0M606.3,149.1h0M603.0,137.9h0M580.2,125.3h0M568.5,123.8h0M600.4,165.5h0M612.2,138.6h0M581.4,131.1h0M610.5,159.7h0M589.4,102.1h0M603.8,163.2h0M570.5,119.1h0M596.8,126.6h0M588.7,125.2h0M600.7,145.9h0M601.1,144.1h0M600.3,156.4h0M600.0,143.9h0M566.9,122.9h0M626.1,149.4h0M603.5,129.6h0M583.1,122.2h0M624.0,150.9h0M574.7,116.8h0M603.2,136.5h0M617.3,152.0h0M577.8,136.1h0M597.7,137.7h0M588.5,126.2h0M582.4,108.7h0M580.8,128.7h0M582.8,132.0h0M600.8,141.4h0M548.8,115.7h0M611.0,138.4h0M602.3,127.1h0M619.0,136.9h0M607.1,137.1h0M624.6,143.8h0M603.7,150.5h0M582.1,120.4h0M624.3,155.4h0M598.8,146.9h0M609.9,145.1h0M592.8,141.5h0M496.5,38.8h0M502.1,34.0h0M497.7,47.3h0M515.2,54.7h0M504.2,53.3h0M496.7,30.0h0M518.0,56.5h0M505.8,44.2h0M508.7,46.5h0M516.3,53.8h0M510.0,41.6h0M514.4,57.6h0M515.0,57.3h0M500.8,50.0h0M507.7,42.4h0M495.9,41.6h0M500.4,39.0h0M509.0,37.2h0M516.9,51.9h0M521.0,55.7h0M512.5,52.5h0M495.0,35.7h0M504.9,43.7h0M507.0,46.8h0M511.9,54.9h0M498.4,30.4h0M508.4,48.7h0M521.2,57.8h0M514.7,56.6h0M506.5,41.9h0M500.7,46.1h0M492.5,41.9h0M497.6,38.5h0M514.4,53.9h0M538.2,53.4h0M564.8,63.0h0M541.6,54.2h0M541.9,48.2h0M549.3,52.2h0M552.7,44.6h0M544.7,57.5h0M559.1,55.3h0M557.5,59.5h0M560.9,50.8h0M543.0,52.9h0M526.3,59.2h0M531.3,46.7h0M499.0,15.9h0M541.8,37.2h0M588.2,76.3h0M610.2,83.4h0M612.6,85.2h0M628.5,87.8h0M596.7,83.4h0M646.9,110.9h0M633.4,117.1h0M633.4,132.2h0M616.3,134.9h0M618.7,134.9h0M560.1,172.2h0M604.1,96.7h0M606.5,103.8h0M612.6,112.7h0M599.2,92.3h0"/>
<path stroke="#a0b980" d="M524.6,90.6h0M528.3,62.8h0M547.6,109.8h0M547.0,59.5h0M533.5,61.7h0M530.4,99.4h0M527.0,62.4h0M549.5,59.4h0M520.4,64.7h0M580.9,96.9h0M580.3,90.9h0M557.3,63.5h0M527.4,97.9h0M542.4,58.6h0M521.3,86.8h0M577.7,112.6h0M519.3,79.8h0M581.0,101.3h0M580.2,98.8h0M561.1,111.9h0M580.7,100.8h0M576.7,112.7h0M580.6,109.8h0M579.0,106.0h0M581.6,95.5h0M570.3,111.1h0M577.9,111.8h0M580.0,98.0h0M575.4,113.1h0M579.0,106.4h0M567.6,111.8h0M570.0,111.9h0M580.0,103.5h0M562.3,111.0h0M577.5,113.6h0M531.5,61.7h0"/>
<path stroke="#99b57f" d="M562.2,68.6h0M523.3,64.0h0M523.3,65.2h0M522.4,66.9h0M524.0,87.4h0M577.8,108.0h0M528.1,96.1h0M520.2,72.8h0M568.7,74.5h0M522.4,66.0h0M547.1,108.1h0M554.9,109.1h0M539.9,104.1h0M525.5,65.8h0M526.3,63.2h0M561.7,110.5h0M579.0,91.8h0M539.8,103.0h0M579.5,95.4h0M568.7,73.6h0M527.6,93.1h0M519.7,68.2h0M566.9,111.0h0M526.5,64.6h0M527.6,64.0h0M554.2,63.8h0M536.1,101.3h0M554.5,64.0h0M580.3,92.4h0M571.4,76.1h0M519.8,80.9h0M553.4,109.4h0M576.4,85.2h0M522.4,64.6h0M530.9,99.9h0M526.4,91.0h0M532.9,62.3h0M548.7,108.5h0M528.1,94.5h0M543.3,59.7h0M578.3,91.5h0M578.9,105.6h0M578.8,93.4h0M537.9,60.8h0M562.9,68.5h0M576.8,108.5h0M573.9,111.6h0M575.3,110.5h0M575.6,111.7h0M578.7,109.3h0M579.6,104.9h0M574.8,108.8h0M572.7,110.3h0M576.9,89.9h0M578.7,108.4h0M525.8,90.9h0M569.8,110.0h0M571.9,110.8h0M576.2,109.4h0M580.4,95.5h0M576.3,107.6h0M579.1,97.7h0M575.1,109.4h0M578.2,109.8h0M573.7,110.7h0M575.8,86.4h0M574.0,111.8h0M578.4,95.3h0M578.5,110.6h0M579.6,103.2h0M578.8,101.4h0M579.8,93.7h0M549.7,108.2h0M561.4,110.8h0M574.6,111.8h0M576.8,111.2h0"/>
<path stroke="#92b07e" d="M567.6,109.3h0M575.6,86.0h0M543.8,106.1h0M561.0,69.6h0M521.5,74.9h0M574.5,83.3h0M541.4,60.6h0M521.8,80.1h0M539.2,60.6h0M559.8,68.8h0M526.2,89.7h0M528.8,95.6h0M567.7,73.4h0M521.6,69.0h0M549.3,61.7h0M520.0,70.6h0M547.7,61.5h0M521.0,75.2h0M535.4,62.0h0M555.8,65.7h0M521.9,69.5h0M562.1,109.3h0M575.2,84.7h0M531.2,98.8h0M535.0,99.7h0M538.1,101.1h0M577.3,94.9h0M578.3,93.1h0M552.5,63.4h0M574.8,86.4h0M526.8,65.4h0M522.9,86.1h0M521.0,70.6h0M543.8,106.7h0M571.7,77.0h0M521.6,78.6h0M576.2,89.1h0M522.7,84.5h0M575.7,89.3h0M543.4,105.6h0M560.1,110.0h0M566.7,74.0h0M529.8,97.5h0M526.4,89.8h0M563.4,70.1h0M530.0,97.4h0M552.2,63.4h0M569.2,108.3h0M578.3,102.8h0M575.7,105.8h0M575.3,107.1h0M573.9,106.7h0M574.3,106.4h0M576.8,104.3h0M576.0,105.8h0M570.8,108.5h0M576.7,96.9h0M563.1,109.2h0M572.7,108.0h0M555.4,108.9h0M577.5,104.8h0M565.7,108.9h0M560.6,108.7h0M576.8,103.3h0M573.1,108.8h0M574.9,105.3h0M576.6,96.3h0M576.9,90.4h0M578.0,103.8h0M564.4,108.8h0M574.4,107.0h0M567.2,109.8h0M566.2,109.8h0M578.5,100.4h0M575.4,106.2h0M557.0,108.2h0M572.1,108.0h0M578.6,102.6h0M564.6,109.5h0M577.9,101.0h0M574.5,107.0h0M559.3,108.7h0M567.9,108.4h0M578.6,99.5h0M574.5,108.2h0M562.8,109.4h0M576.9,93.8h0M571.6,108.7h0"/>
<path stroke="#84a67e" d="M529.5,65.3h0M523.3,79.8h0M574.9,91.0h0M548.9,62.3h0M539.8,61.9h0M541.5,62.0h0M551.3,107.2h0M577.5,99.1h0M545.6,105.7h0M524.7,84.0h0M523.7,69.3h0M528.4,89.4h0M570.1,78.9h0M556.1,66.2h0M575.0,88.7h0M524.3,81.7h0M553.8,107.7h0M530.5,92.8h0M556.5,106.3h0M566.8,106.0h0M527.7,89.5h0M570.1,77.4h0M556.9,106.9h0M522.6,73.7h0M532.1,97.7h0M558.1,107.5h0M557.8,107.9h0M525.0,85.8h0M522.9,83.7h0M573.1,82.7h0M522.0,75.9h0M574.0,87.9h0M540.1,61.5h0M553.9,65.3h0M530.5,95.8h0M523.4,83.6h0M523.7,70.9h0M522.9,70.8h0M523.5,78.6h0M562.5,71.4h0M570.8,79.4h0M523.9,84.3h0M550.5,63.2h0M539.8,101.3h0M556.6,66.1h0M530.4,95.9h0M546.7,106.4h0M522.7,72.0h0M573.6,83.0h0M570.4,105.7h0M550.4,63.9h0M576.0,97.1h0M573.1,104.3h0M566.9,106.9h0M574.1,102.4h0M577.3,101.4h0M521.7,78.2h0M557.8,107.7h0M576.1,102.4h0M576.7,100.0h0M571.5,106.3h0M571.5,105.0h0M569.1,107.6h0M569.2,106.7h0M537.6,62.9h0M572.3,105.7h0M561.0,107.6h0M527.4,66.1h0M576.5,101.6h0M575.6,94.7h0M570.0,106.8h0M553.3,107.3h0M573.7,105.5h0M575.3,103.7h0M575.0,102.7h0M576.0,98.0h0M564.6,107.8h0M576.5,101.2h0M563.6,107.6h0M573.6,103.6h0M565.8,106.9h0M567.5,106.9h0M551.5,107.9h0M548.1,106.6h0M544.2,104.8h0M573.0,105.7h0M571.4,106.6h0M559.8,107.9h0M537.2,62.7h0M543.5,61.6h0"/>
<path stroke="#759c7e" d="M568.8,78.8h0M548.9,105.3h0M529.1,66.9h0M560.5,106.4h0M550.3,105.8h0M559.5,69.7h0M538.3,63.6h0M552.8,105.8h0M532.5,95.3h0M575.5,98.9h0M530.9,92.6h0M540.5,100.6h0M554.5,67.0h0M566.7,75.5h0M573.8,92.4h0M526.6,69.1h0M572.8,88.5h0M565.8,75.9h0M572.5,83.8h0M525.9,70.7h0M573.8,90.2h0M524.1,74.2h0M537.8,63.6h0M524.7,76.0h0M532.8,64.1h0M548.1,63.9h0M574.5,100.7h0M570.3,80.7h0M571.5,82.2h0M531.7,65.7h0M547.8,104.4h0M527.1,86.6h0M563.4,106.4h0M552.4,106.8h0M562.1,72.2h0M532.1,94.5h0M522.9,74.2h0M548.5,105.2h0M572.3,84.3h0M553.4,106.7h0M524.0,76.2h0M567.7,77.3h0M525.3,83.8h0M542.6,101.3h0M566.2,75.3h0M575.4,99.6h0M556.1,67.3h0M552.4,66.7h0M542.5,62.7h0M571.9,84.3h0M544.4,62.5h0M523.5,73.9h0M545.7,104.3h0M530.5,91.1h0M545.2,104.5h0M563.4,72.6h0M574.7,91.4h0M526.7,82.4h0M527.8,67.8h0M556.8,67.7h0M545.3,62.2h0M525.0,79.8h0M550.9,106.2h0M547.1,62.3h0M543.9,62.6h0M525.6,79.8h0M527.2,85.2h0M526.8,68.0h0M524.0,79.8h0M526.3,82.5h0M555.9,105.4h0M543.7,101.4h0M573.5,84.9h0M575.6,98.5h0M565.1,74.1h0M544.6,102.1h0M523.8,71.6h0M539.5,100.9h0M528.9,90.6h0M528.4,87.8h0M541.3,62.9h0M562.0,106.4h0M575.4,100.4h0M570.2,103.5h0M562.2,106.9h0M557.0,105.1h0M569.3,104.7h0M568.5,104.8h0M574.1,97.6h0M567.5,104.4h0M573.9,89.4h0M573.7,102.6h0M574.7,96.1h0M560.9,107.0h0M540.4,63.7h0M568.5,77.8h0M563.4,106.0h0M572.3,101.9h0M573.8,95.2h0M539.4,99.8h0M544.1,103.4h0M570.9,103.7h0M568.7,104.5h0M570.4,104.3h0M556.5,105.8h0M569.2,103.0h0M572.5,101.6h0M573.9,101.0h0M572.3,103.8h0M564.8,105.9h0M574.1,94.7h0M572.4,103.2h0"/>
<path stroke="#68917c" d="M525.9,71.4h0M538.3,99.0h0M572.5,99.8h0M529.3,86.9h0M555.6,104.0h0M532.8,65.3h0M546.6,103.5h0M529.9,67.7h0M540.3,64.6h0M569.9,81.2h0M561.8,73.5h0M526.3,77.0h0M525.0,73.4h0M550.4,104.0h0M531.3,90.4h0M568.6,79.7h0M534.2,66.8h0M533.4,92.6h0M570.0,101.7h0M534.0,97.0h0M569.2,101.7h0M555.7,68.9h0M559.5,70.6h0M528.8,88.8h0M543.1,100.3h0M563.0,104.4h0M532.0,91.8h0M550.7,104.7h0M534.5,66.6h0M557.7,69.7h0M531.6,66.6h0M536.1,65.2h0M573.7,95.9h0M571.2,83.0h0M527.5,81.2h0M573.7,100.0h0M545.9,103.7h0M542.1,64.1h0M528.1,84.9h0M556.3,69.0h0M525.9,72.8h0M567.5,101.4h0M552.7,104.5h0M531.6,91.8h0M537.8,64.6h0M526.1,75.5h0M546.2,63.7h0M539.9,99.2h0M525.5,73.3h0M544.5,101.6h0M553.8,104.4h0M566.3,104.3h0M528.0,70.8h0M528.6,69.4h0M550.5,65.9h0M549.1,65.4h0M559.7,71.3h0M546.1,102.9h0M547.1,64.3h0M546.7,63.5h0M525.3,76.4h0M538.8,64.7h0M533.7,95.5h0M530.5,67.6h0M554.7,104.9h0M561.5,105.1h0M532.3,65.3h0M533.1,65.3h0M542.4,64.3h0M558.6,70.0h0M530.4,88.1h0M524.7,77.8h0M529.2,86.6h0M532.8,66.2h0M525.5,79.0h0M543.6,64.7h0M549.9,66.3h0M536.8,98.5h0M572.4,86.4h0M551.7,104.7h0M566.5,102.5h0M564.1,105.6h0M573.0,97.3h0M560.3,105.9h0M559.6,104.4h0M562.6,105.1h0M559.7,105.9h0M569.6,81.4h0M565.4,104.5h0M567.8,102.7h0M565.1,104.9h0M570.5,100.8h0M563.4,105.3h0M571.5,101.5h0M572.9,91.2h0M537.5,98.5h0M545.2,102.2h0M566.5,104.0h0M562.6,106.0h0"/>
<path stroke="#5b8271" d="M528.0,80.9h0M546.4,64.8h0M545.5,64.5h0M533.8,94.4h0M527.9,82.4h0M554.5,68.5h0M539.9,65.3h0M537.3,66.2h0M559.0,104.0h0M570.0,83.2h0M571.0,90.9h0M566.3,78.1h0M572.6,98.6h0M566.9,81.4h0M571.6,86.8h0M529.0,70.1h0M572.5,97.6h0M549.2,102.6h0M548.5,65.4h0M564.3,75.4h0M546.9,101.4h0M571.0,86.4h0M549.6,101.6h0M571.1,93.8h0M527.6,77.9h0M566.8,98.8h0M563.6,74.2h0M527.2,78.4h0M534.4,95.0h0M572.3,96.9h0M536.0,66.7h0M535.9,96.9h0M527.5,80.0h0M540.7,97.9h0M571.7,89.8h0M545.9,100.8h0M570.8,98.9h0M568.0,99.3h0M544.6,64.3h0M570.3,83.5h0M570.5,85.7h0M536.5,96.3h0M571.4,92.0h0M541.5,65.0h0M530.0,86.9h0M528.0,76.0h0M571.6,98.4h0M542.0,98.9h0M527.6,77.3h0M564.2,103.5h0M535.9,66.7h0M551.9,68.2h0M571.6,94.3h0M526.7,75.2h0M529.7,82.3h0M542.1,65.8h0M560.0,103.7h0M529.4,71.3h0M547.3,65.2h0M538.7,96.9h0M572.1,92.9h0M554.4,68.1h0M531.1,68.2h0M527.4,73.5h0M537.8,66.7h0M534.1,92.4h0M533.8,67.4h0M567.2,80.7h0M571.6,97.9h0M527.8,73.0h0M527.5,79.6h0M533.0,90.4h0M537.4,96.3h0M534.4,93.3h0M551.1,102.1h0M549.6,102.0h0M530.7,87.4h0M571.4,95.0h0M572.4,91.0h0M570.8,89.4h0M558.1,71.5h0M570.9,87.8h0M547.8,102.9h0M544.3,100.1h0M538.4,66.5h0M527.1,73.1h0M548.0,101.7h0M565.6,102.2h0M532.7,90.4h0M558.5,71.6h0M528.4,75.7h0M550.5,67.4h0M535.2,95.0h0M568.5,82.2h0M538.6,66.3h0M531.9,67.2h0M552.3,103.5h0M554.4,102.7h0M556.4,70.2h0M561.8,103.8h0M559.9,104.0h0M568.6,99.6h0M565.9,101.7h0M571.2,99.0h0M571.4,96.1h0M569.5,97.9h0M529.3,82.8h0M564.9,102.5h0M571.3,96.3h0M543.4,98.8h0M571.5,93.5h0M553.5,103.4h0M569.4,99.8h0M570.5,100.0h0M569.8,97.2h0M557.4,102.6h0M566.6,101.9h0M565.5,100.7h0M557.7,103.4h0M565.7,99.2h0M562.0,104.2h0M567.0,100.9h0M565.2,101.4h0M555.9,102.9h0M526.8,73.0h0M571.1,89.2h0M571.5,87.5h0M572.1,96.7h0M564.3,103.2h0M572.1,90.2h0"/>
<path stroke="#4f7366" d="M569.3,94.3h0M564.6,100.8h0M568.7,83.7h0M541.8,96.9h0M564.1,101.0h0M530.1,70.2h0M538.4,68.2h0M535.7,94.5h0M529.0,80.7h0M561.2,74.7h0M564.1,76.9h0M536.4,69.1h0M568.6,95.7h0M529.8,73.5h0M544.5,66.2h0M553.4,101.8h0M550.8,68.1h0M529.3,80.1h0M569.8,90.3h0M537.6,68.0h0M533.6,88.8h0M530.0,75.8h0M531.8,68.2h0M534.2,90.1h0M542.0,97.6h0M559.2,73.2h0M539.7,67.1h0M563.9,76.4h0M532.3,68.5h0M568.6,96.9h0M547.7,66.3h0M568.7,84.7h0M537.0,95.7h0M570.4,93.2h0M550.0,101.1h0M540.3,96.8h0M555.2,101.4h0M565.6,80.4h0M548.8,67.6h0M569.4,84.3h0M533.3,88.1h0M541.6,96.6h0M538.3,94.6h0M567.3,96.5h0M532.5,87.9h0M548.5,67.9h0M565.6,78.0h0M550.7,68.7h0M535.3,68.1h0M558.0,102.9h0M565.7,98.1h0M556.1,71.7h0M532.4,88.9h0M544.9,98.6h0M560.6,102.3h0M554.0,69.3h0M552.8,69.4h0M529.8,84.1h0M531.3,69.5h0M551.6,101.8h0M561.1,102.7h0M532.0,68.9h0M539.6,96.9h0M570.3,87.4h0M529.7,75.1h0M542.1,66.4h0M553.2,69.1h0M548.9,100.2h0M528.9,75.7h0M533.4,68.7h0M529.0,73.8h0M552.0,69.3h0M567.8,84.1h0M560.1,102.8h0M565.5,78.4h0M546.9,66.9h0M555.1,70.3h0M566.6,80.3h0M538.1,95.8h0M528.8,78.0h0M545.0,98.9h0M539.6,95.5h0M536.1,93.9h0M535.4,92.1h0M543.1,66.1h0M539.0,96.9h0M566.7,97.4h0M560.8,102.1h0M569.1,92.2h0M531.8,88.1h0M551.4,101.0h0M542.7,97.8h0M557.8,72.6h0M547.4,99.8h0M529.3,76.2h0M530.3,71.5h0M558.9,72.8h0M562.7,75.3h0M568.3,85.4h0M537.0,94.6h0M530.9,86.3h0M539.3,67.1h0M569.0,85.7h0M550.0,100.2h0M569.0,95.5h0M570.5,91.5h0M566.4,80.5h0M567.3,97.8h0M550.9,100.9h0M564.7,98.4h0M549.0,100.5h0M563.0,99.7h0M562.6,102.1h0M570.3,93.3h0M551.2,101.7h0M562.5,102.5h0M570.7,90.8h0M566.9,97.0h0M545.1,99.4h0"/>
<path stroke="#45645a" d="M554.7,100.2h0M557.1,100.7h0M549.5,69.9h0M559.6,74.7h0M537.1,92.9h0M567.0,94.8h0M559.4,100.8h0M530.7,77.3h0M564.5,78.9h0M530.8,78.7h0M563.8,80.6h0M546.3,97.5h0M530.0,76.8h0M566.3,93.5h0M566.2,84.6h0M532.3,84.5h0M554.3,71.4h0M529.8,81.7h0M567.2,92.6h0M544.5,67.2h0M564.3,78.1h0M531.0,73.6h0M530.8,82.6h0M545.0,67.4h0M534.4,70.4h0M564.4,78.4h0M542.2,67.9h0M560.0,74.0h0M568.6,90.9h0M558.9,101.6h0M563.3,98.6h0M554.8,100.6h0M530.6,81.9h0M538.7,68.5h0M530.7,83.8h0M566.1,82.7h0M532.3,75.0h0M561.2,99.8h0M553.1,100.3h0M544.0,96.4h0M560.8,100.9h0M550.2,69.5h0M543.9,96.7h0M555.7,72.8h0M534.5,70.6h0M532.9,70.6h0M567.6,84.7h0M532.4,86.6h0M563.2,78.7h0M532.8,85.4h0M547.9,98.8h0M543.9,96.8h0M565.2,81.5h0M553.6,70.1h0M534.9,89.8h0M538.4,92.8h0M541.6,95.3h0M567.2,84.9h0M562.5,97.8h0M531.9,71.9h0M533.9,71.3h0M539.0,93.6h0M565.4,82.1h0M539.9,94.6h0M530.8,73.9h0M534.9,70.2h0M565.0,82.4h0M541.9,67.5h0M559.1,101.7h0M544.0,67.9h0M532.0,76.0h0M566.0,83.6h0M568.5,86.4h0M535.2,88.9h0M556.6,72.6h0M546.7,98.3h0M539.9,68.6h0M533.1,74.9h0M531.8,84.9h0M547.0,68.2h0M531.2,77.5h0M565.1,96.4h0M531.2,74.8h0M536.0,70.7h0M545.1,68.3h0M569.5,89.6h0M537.3,69.1h0M537.2,69.5h0M562.4,76.5h0M536.1,70.1h0M564.3,81.9h0M532.8,73.1h0M543.8,67.2h0M543.6,67.7h0M552.4,70.3h0M538.8,69.0h0M555.0,71.0h0M537.4,91.7h0M530.9,73.3h0M546.4,69.3h0M532.4,72.6h0M547.6,68.2h0M533.0,70.2h0M530.2,81.2h0M562.5,100.0h0M531.2,80.0h0M530.2,80.7h0M562.9,77.6h0M547.0,68.3h0M544.1,68.7h0M550.7,99.0h0M549.0,99.0h0M551.5,70.6h0M548.6,69.3h0M546.8,98.9h0M535.8,91.7h0M564.2,97.9h0M551.8,99.8h0M568.2,93.9h0M535.3,71.5h0M556.9,100.7h0M550.2,99.3h0M531.0,83.3h0M569.6,90.1h0M566.5,94.4h0M568.3,92.5h0M541.4,95.1h0M531.8,75.6h0M568.5,88.0h0M562.4,99.9h0M563.7,97.8h0M552.1,99.8h0M531.6,83.5h0M560.0,100.4h0M558.1,101.1h0M567.5,86.3h0M559.6,101.3h0M565.1,96.2h0M569.3,89.6h0M568.2,89.1h0M566.4,95.5h0"/>
<path stroke="#3e554c" d="M549.6,71.2h0M564.2,93.9h0M535.4,76.3h0M567.6,90.8h0M537.9,91.7h0M531.8,80.6h0M563.0,81.4h0M557.9,74.2h0M563.3,80.5h0M544.9,96.4h0M540.7,69.7h0M563.3,94.3h0M532.4,79.7h0M539.4,70.2h0M533.2,81.5h0M545.2,96.3h0M532.9,83.2h0M540.6,69.2h0M563.3,82.3h0M533.8,82.6h0M565.1,84.7h0M553.7,99.1h0M547.9,70.4h0M541.2,93.0h0M538.6,91.0h0M543.7,69.4h0M535.4,72.4h0M556.3,99.9h0M542.2,69.6h0M534.8,87.9h0M561.1,77.4h0M545.0,71.9h0M564.1,82.7h0M533.9,86.9h0M535.8,89.8h0M554.6,98.9h0M562.2,96.8h0M537.2,72.8h0M556.6,73.9h0M541.1,69.4h0M565.4,92.8h0M558.9,99.8h0M539.0,92.4h0M560.5,99.7h0M561.3,77.2h0M535.1,85.3h0M542.7,94.9h0M539.2,92.0h0M535.4,74.6h0M537.6,71.3h0M561.5,98.5h0M532.4,77.9h0M532.5,80.5h0M565.6,84.4h0M562.6,78.4h0M537.9,70.5h0M556.6,73.4h0M535.8,72.7h0M551.6,71.8h0M563.0,80.2h0M538.1,70.5h0M541.1,69.8h0M561.6,76.7h0M558.2,99.5h0M566.4,88.1h0M536.2,72.3h0M541.8,69.1h0M544.1,69.9h0M539.9,93.3h0M566.5,88.4h0M549.0,97.6h0M564.3,95.8h0M533.4,77.2h0M566.6,87.2h0M560.2,98.6h0M565.3,84.2h0M549.7,98.0h0M541.6,93.2h0M540.0,71.1h0M566.5,85.6h0M551.7,98.8h0M565.6,92.6h0M544.2,69.3h0M562.3,79.3h0M534.4,86.4h0M532.7,83.8h0M564.0,93.0h0M534.2,73.3h0M561.5,95.6h0M547.2,71.7h0M548.8,97.3h0M546.1,70.9h0M554.1,72.3h0M536.0,88.5h0M567.5,90.4h0M532.9,79.4h0M565.2,91.6h0M557.1,99.8h0M532.7,77.4h0M547.1,97.8h0M552.3,97.4h0M531.7,78.8h0M566.7,89.7h0M559.8,75.5h0M533.7,73.8h0M558.5,74.5h0M547.3,70.4h0M542.2,70.6h0M545.9,71.1h0M539.8,70.4h0M545.1,69.0h0M565.4,86.1h0M567.1,90.3h0M546.5,96.5h0M535.5,87.3h0M534.3,86.1h0M553.9,99.4h0M559.5,99.8h0M544.8,96.1h0M560.8,97.1h0M532.7,83.4h0M559.3,75.4h0M565.5,93.2h0M533.8,84.2h0M537.8,90.3h0M550.8,71.1h0M552.2,71.1h0M565.5,94.6h0M555.8,73.5h0M548.4,71.1h0M565.3,94.7h0M554.0,72.1h0M566.2,92.8h0M562.6,96.4h0M560.9,98.1h0M562.5,80.5h0M557.2,99.6h0M547.3,97.4h0M533.9,75.3h0M551.3,97.9h0M567.0,87.9h0M567.0,90.9h0M567.5,88.0h0M566.3,92.4h0M560.4,97.0h0M533.3,84.8h0"/>
<path stroke="#37463e" d="M537.7,73.7h0M537.0,87.4h0M559.5,95.8h0M542.2,93.0h0M535.8,82.5h0M557.6,75.1h0M535.2,83.8h0M535.3,83.7h0M539.5,73.4h0M539.2,88.4h0M534.0,81.8h0M541.4,90.9h0M543.1,93.9h0M559.9,79.2h0M556.8,75.4h0M546.4,73.7h0M552.3,96.0h0M540.3,91.9h0M563.6,86.7h0M550.3,73.9h0M551.9,74.5h0M533.9,81.9h0M538.0,74.2h0M539.2,74.8h0M533.8,80.6h0M550.7,73.1h0M551.1,96.3h0M536.9,74.0h0M547.7,73.4h0M553.9,75.3h0M541.3,72.3h0M539.9,89.7h0M544.1,94.8h0M536.5,77.4h0M557.1,98.0h0M535.4,77.2h0M555.6,96.4h0M546.2,93.4h0M540.6,74.3h0M541.1,91.7h0M563.1,93.9h0M564.9,88.2h0M561.9,84.0h0M561.4,94.7h0M556.7,75.0h0M549.7,72.1h0M560.9,94.2h0M536.6,77.8h0M563.1,92.7h0M543.3,73.6h0M553.0,98.0h0M543.2,72.7h0M555.7,97.7h0M537.3,77.3h0M562.8,92.6h0M563.5,84.1h0M562.7,83.3h0M561.2,79.5h0M565.5,88.1h0M535.9,86.6h0M549.9,96.0h0M556.8,76.0h0M543.7,71.2h0M536.8,75.3h0M565.1,89.1h0M552.6,73.8h0M536.7,80.8h0M548.8,72.6h0M540.4,72.7h0M564.1,89.5h0M563.2,85.1h0M548.4,95.6h0M561.2,82.0h0M560.5,81.5h0M564.6,88.7h0M542.7,93.9h0M553.2,73.1h0M546.7,72.5h0M555.4,74.7h0M561.5,94.8h0M561.0,80.6h0M546.2,72.8h0M547.1,95.8h0M541.5,71.2h0M548.7,94.4h0M536.8,87.5h0M551.2,96.9h0M535.4,77.6h0M564.3,85.1h0M534.2,78.7h0M559.1,76.1h0M552.3,73.3h0M563.4,86.5h0M564.7,87.1h0M558.6,97.6h0M541.0,71.0h0M537.9,78.4h0M536.0,86.4h0M565.2,89.9h0M559.7,79.3h0M535.7,79.6h0M544.2,72.1h0M549.0,73.1h0M547.6,94.3h0M549.2,72.2h0M563.5,92.2h0M533.9,78.3h0M536.7,88.9h0M562.8,84.2h0M563.0,87.4h0M542.9,71.9h0M555.0,74.2h0M557.6,75.3h0M546.0,94.4h0M560.1,81.8h0M537.9,73.8h0M546.7,95.8h0M558.5,76.6h0M558.3,97.2h0M539.8,91.6h0M546.9,95.5h0M551.9,73.1h0M533.9,80.8h0M538.1,89.8h0M540.4,72.1h0M536.5,84.1h0M565.5,89.7h0M547.5,72.0h0M534.8,81.5h0M534.5,82.0h0M541.3,71.4h0M558.5,97.9h0M537.4,76.1h0M537.9,87.3h0M544.4,94.2h0M563.5,90.8h0M553.0,97.5h0M559.5,78.7h0M542.9,71.5h0M539.2,72.2h0M541.4,72.9h0M559.7,95.5h0M562.6,82.1h0M559.8,77.1h0M561.4,85.3h0M564.0,86.0h0M558.4,96.7h0M536.5,75.8h0M534.4,79.6h0M545.8,73.2h0M561.5,92.8h0M538.9,73.0h0M548.6,72.0h0M543.8,94.9h0M563.6,84.7h0M550.3,95.9h0M540.2,90.4h0M553.6,97.5h0M556.8,97.8h0M554.9,97.4h0M553.2,96.4h0M538.6,76.5h0M561.5,80.4h0M536.1,78.3h0M564.0,91.3h0M535.9,85.8h0M563.6,89.4h0M564.5,91.3h0M562.2,82.2h0M560.6,77.1h0M557.9,96.4h0M557.1,97.6h0M555.8,97.9h0M551.1,94.8h0M550.1,96.9h0"/>
<path stroke="#303a32" d="M542.2,78.3h0M560.5,83.9h0M544.4,74.8h0M553.6,93.6h0M560.6,91.7h0M559.1,81.6h0M548.5,93.8h0M549.9,94.0h0M550.3,75.1h0M549.9,75.6h0M539.5,77.0h0M545.2,76.1h0M543.5,91.6h0M536.8,82.1h0M543.8,74.5h0M541.9,91.0h0M538.8,78.9h0M545.7,92.1h0M557.6,77.2h0M556.2,77.2h0M556.3,94.1h0M557.0,79.9h0M546.8,74.8h0M558.3,79.5h0M543.0,74.4h0M559.5,83.1h0M545.8,92.4h0M545.4,91.0h0M554.1,93.3h0M552.7,75.5h0M562.6,89.4h0M536.9,81.4h0M537.9,86.8h0M558.2,78.9h0M538.4,84.2h0M552.4,92.3h0M551.4,75.8h0M540.2,77.9h0M559.0,85.9h0M536.9,84.8h0M540.9,90.0h0M559.2,93.9h0M561.0,86.0h0M551.6,75.1h0M559.8,85.0h0M539.0,87.8h0M542.3,90.8h0M548.9,74.7h0M538.7,81.4h0M558.7,80.3h0M560.5,92.4h0M561.7,86.8h0M545.6,75.2h0M539.3,83.9h0M540.9,80.0h0M550.0,93.8h0M557.2,77.8h0M560.1,90.3h0M545.8,92.9h0M538.5,82.5h0M553.7,94.0h0M540.2,88.7h0M554.9,94.8h0M540.8,80.7h0M540.3,82.5h0M551.5,93.6h0M558.5,93.9h0M536.9,82.4h0M554.9,76.2h0M555.5,79.1h0M547.5,92.9h0M556.4,94.8h0M545.1,74.2h0M555.6,76.6h0M546.4,74.2h0M540.9,75.7h0M539.7,87.3h0M542.4,89.9h0M548.3,75.3h0M556.3,78.2h0M553.0,94.8h0M550.8,77.2h0M551.9,75.3h0M553.8,76.6h0M541.9,75.2h0M540.4,86.8h0M558.3,78.2h0M539.8,78.0h0M537.8,83.3h0M543.0,75.5h0M543.2,90.8h0M557.3,94.5h0M542.9,91.9h0M538.9,85.3h0M561.2,86.8h0M558.9,82.4h0M558.2,84.0h0M559.5,81.1h0M548.6,93.6h0M550.8,92.9h0M538.8,84.3h0M552.5,77.7h0M560.5,92.2h0M538.1,85.0h0M556.0,93.1h0M561.0,88.2h0M539.2,80.2h0M547.1,92.9h0M547.2,74.6h0M537.9,80.5h0M562.2,90.1h0M552.2,76.2h0M549.4,91.9h0M554.0,78.2h0M544.9,74.1h0M562.7,89.1h0M543.1,74.0h0M538.6,83.3h0M553.2,76.1h0M539.4,86.3h0M541.4,89.9h0M560.6,86.3h0M562.5,90.8h0M537.8,82.6h0M561.5,91.8h0M559.1,91.6h0M555.9,79.8h0M540.2,87.5h0M540.6,88.6h0M543.6,91.8h0M553.6,77.6h0M539.2,78.1h0M548.2,74.7h0M559.5,93.2h0M542.9,76.7h0M551.2,93.8h0M541.7,89.1h0M552.6,94.2h0M559.4,84.1h0M557.2,93.1h0M556.6,94.0h0M538.4,80.7h0M541.2,76.4h0M553.9,94.5h0M557.5,94.4h0M560.6,89.9h0M559.6,93.9h0"/>
<path stroke="#292f27" d="M541.8,80.2h0M553.3,79.4h0M542.6,81.5h0M547.6,84.0h0M551.4,82.8h0M547.9,90.2h0M543.3,78.1h0M547.0,81.9h0M548.4,87.4h0M555.5,84.8h0M552.5,85.2h0M541.1,81.2h0M552.7,82.0h0M557.7,89.6h0M558.5,87.2h0M556.4,82.7h0M546.4,78.5h0M552.9,81.1h0M557.6,82.4h0M551.7,84.4h0M543.4,88.8h0M547.4,77.7h0M554.3,79.1h0M558.5,85.4h0M554.4,85.1h0M557.5,92.0h0M544.0,77.1h0M553.2,80.0h0M554.8,89.0h0M540.9,84.8h0M558.0,87.9h0M551.2,78.4h0M556.0,82.0h0M551.1,81.7h0M556.7,83.5h0M545.0,80.1h0M550.7,78.6h0M555.6,90.7h0M556.0,91.4h0M548.1,77.9h0M558.5,87.6h0M555.7,87.2h0M551.0,86.9h0M551.6,81.1h0M545.6,84.2h0M552.5,78.4h0M548.1,90.9h0M557.4,82.1h0M546.3,90.3h0M549.8,86.0h0M540.9,83.4h0M555.9,83.9h0M551.9,88.6h0M546.9,82.8h0M546.0,81.2h0M545.1,78.1h0M556.8,85.3h0M552.9,86.2h0M542.8,82.2h0M553.0,87.5h0M553.9,88.3h0M545.9,89.5h0M559.1,89.3h0M556.1,85.9h0M543.7,86.1h0M551.9,81.9h0M557.3,89.4h0M557.1,86.4h0M550.8,82.0h0M556.7,91.4h0M555.5,80.5h0M550.0,90.9h0M549.0,77.0h0M550.7,79.8h0M544.2,78.0h0M553.9,79.2h0M549.6,78.3h0M546.3,90.9h0M545.6,79.2h0M542.8,84.1h0M548.1,81.0h0M541.4,81.4h0M546.4,77.2h0M551.7,91.8h0M554.6,91.3h0M546.9,87.2h0M544.2,84.2h0M558.5,89.6h0M542.0,86.9h0M541.8,87.1h0M550.0,82.3h0M552.3,91.9h0M544.1,89.9h0M549.4,87.0h0M549.0,79.1h0M558.1,90.9h0M553.9,90.7h0M557.6,85.2h0M546.6,86.2h0M549.8,83.4h0M543.7,79.8h0M553.5,83.2h0M549.5,89.4h0M557.2,83.2h0M550.1,77.2h0M549.8,77.5h0M546.4,84.5h0M548.4,79.5h0M548.5,83.9h0M541.8,84.1h0M540.7,81.4h0M551.6,78.0h0M547.2,79.1h0M552.3,89.9h0M554.0,80.0h0M544.1,89.2h0M542.7,85.9h0M557.3,83.3h0M556.1,88.0h0M544.9,77.1h0M545.5,82.1h0M554.9,91.9h0M548.4,85.5h0M558.7,89.8h0M553.1,83.5h0M558.2,86.2h0M544.0,86.2h0M545.5,85.6h0M547.5,87.8h0M546.5,87.5h0M548.0,82.3h0M549.5,79.9h0M543.4,86.3h0M555.1,91.8h0M543.5,85.0h0M546.1,82.7h0M544.9,87.4h0M552.2,85.3h0M550.8,91.0h0M545.1,82.3h0M554.9,81.3h0M546.0,88.6h0M548.6,89.3h0M556.2,81.7h0M542.1,82.1h0M552.9,84.2h0M550.3,85.0h0M557.6,84.7h0M546.7,90.9h0M551.0,87.9h0M546.5,77.1h0M547.4,79.6h0M549.0,81.5h0M544.2,81.5h0M548.7,90.0h0M554.4,91.5h0M554.9,87.6h0M549.0,77.3h0M547.6,87.2h0M557.5,91.4h0M554.9,90.1h0M542.8,79.0h0M547.1,90.2h0M541.9,87.4h0M542.7,87.8h0M547.9,77.2h0M544.3,79.5h0M553.8,88.8h0M543.0,87.2h0M549.8,89.0h0M554.6,85.1h0M553.8,87.2h0M551.4,89.4h0M559.5,89.8h0M553.7,92.0h0M556.3,83.2h0M554.3,81.6h0M543.6,82.0h0M551.0,90.2h0M556.5,87.5h0M550.2,90.0h0M552.6,91.3h0M542.2,79.0h0M559.7,88.3h0M542.0,86.2h0M549.7,79.3h0"/>
</g>
<rect x="486.7" y="8" width="197.8" height="177.3" fill="none" stroke="#7a7a7a" stroke-width="1.1"/>
<g stroke="#4d4d4d" stroke-width="0.8">
<line x1="484.3" x2="486.7" y1="179.3" y2="179.3"/>
<line x1="484.3" x2="486.7" y1="134.9" y2="134.9"/>
<line x1="484.3" x2="486.7" y1="90.5" y2="90.5"/>
<line x1="484.3" x2="486.7" y1="46.1" y2="46.1"/>
<line y1="185.3" y2="187.8" x1="494.1" x2="494.1"/>
<line y1="185.3" y2="187.8" x1="555.2" x2="555.2"/>
<line y1="185.3" y2="187.8" x1="616.3" x2="616.3"/>
<line y1="185.3" y2="187.8" x1="677.4" x2="677.4"/>
</g>
<text x="467.9" y="183.8" font-size="12.9" fill="#262626" stroke="#262626" stroke-width="0.3" textLength="15.4" lengthAdjust="spacingAndGlyphs">0.0</text>
<text x="467.9" y="139.4" font-size="12.9" fill="#262626" stroke="#262626" stroke-width="0.3" textLength="15.4" lengthAdjust="spacingAndGlyphs">0.5</text>
<text x="467.9" y="95.0" font-size="12.9" fill="#262626" stroke="#262626" stroke-width="0.3" textLength="15.4" lengthAdjust="spacingAndGlyphs">1.0</text>
<text x="467.9" y="50.6" font-size="12.9" fill="#262626" stroke="#262626" stroke-width="0.3" textLength="15.4" lengthAdjust="spacingAndGlyphs">1.5</text>
<text x="484.1" y="198.2" font-size="12.9" fill="#262626" stroke="#262626" stroke-width="0.3" textLength="20.1" lengthAdjust="spacingAndGlyphs">−0.5</text>
<text x="547.5" y="198.2" font-size="12.9" fill="#262626" stroke="#262626" stroke-width="0.3" textLength="15.4" lengthAdjust="spacingAndGlyphs">0.0</text>
<text x="608.6" y="198.2" font-size="12.9" fill="#262626" stroke="#262626" stroke-width="0.3" textLength="15.4" lengthAdjust="spacingAndGlyphs">0.5</text>
<text x="669.7" y="198.2" font-size="12.9" fill="#262626" stroke="#262626" stroke-width="0.3" textLength="15.4" lengthAdjust="spacingAndGlyphs">1.0</text>
<text x="555.8" y="210.0" font-size="12.9" stroke="#141414" stroke-width="0.3" textLength="59.8" lengthAdjust="spacingAndGlyphs">1−cv[DFMO]</text>
<text transform="translate(463.3,146.4) rotate(-90)" font-size="12.9" stroke="#141414" stroke-width="0.3" textLength="72.6" lengthAdjust="spacingAndGlyphs">cv[non−DFMO]</text>
<text x="646.3" y="20.7" font-size="12.9" stroke="#141414" stroke-width="0.3" textLength="34.4" lengthAdjust="spacingAndGlyphs">ZOSM</text>
</g>
<g id="panel-c">
<path d="M116,391.8 L194.2,261.9 V368.6 Z" fill="url(#fg1)"/>
<path d="M116,393.8 L194.2,418.5 V524.4 Z" fill="url(#fg2)"/>
<rect x="194" y="261.9" width="289.8" height="106.7" fill="#d6d9ea"/>
<rect x="194" y="418.5" width="289.8" height="105.9" fill="#dfe4df"/>
<circle cx="80.9" cy="426.1" r="48.2" fill="#dfe4dd"/>
<circle cx="80.9" cy="359.3" r="48.2" fill="#d2d6e9"/>
<circle cx="80.9" cy="359.3" r="48.2" fill="#b8bfcc" clip-path="url(#lens)"/>
<text x="0.6" y="257.9" font-size="21.5" font-weight="bold" fill="#000" textLength="10.2" lengthAdjust="spacingAndGlyphs">c</text>
<text x="6.1" y="282.9" font-size="13.9" stroke="#141414" stroke-width="0.3" textLength="18.3" lengthAdjust="spacingAndGlyphs">Log</text>
<text x="24.4" y="288.1" font-size="9.2" stroke="#141414" stroke-width="0.3" textLength="4.7" lengthAdjust="spacingAndGlyphs">2</text>
<text x="29.4" y="282.9" font-size="13.9" stroke="#141414" stroke-width="0.3" textLength="145.3" lengthAdjust="spacingAndGlyphs">(cv[DFMO]/cv[non−DFMO])</text>
<text x="67.6" y="305.7" font-size="13.9" stroke="#141414" stroke-width="0.3" textLength="27.1" lengthAdjust="spacingAndGlyphs">143B</text>
<text x="74.9" y="352.4" font-size="13.9" stroke="#141414" stroke-width="0.3" textLength="12.5" lengthAdjust="spacingAndGlyphs">18</text>
<text x="77.0" y="398.1" font-size="13.9" fill="#e01b24" stroke="#e01b24" stroke-width="0.3" textLength="8.1" lengthAdjust="spacingAndGlyphs">2</text>
<text x="74.9" y="443.6" font-size="13.9" stroke="#141414" stroke-width="0.3" textLength="12.5" lengthAdjust="spacingAndGlyphs">18</text>
<text x="63.8" y="489.5" font-size="13.9" stroke="#141414" stroke-width="0.3" textLength="33.8" lengthAdjust="spacingAndGlyphs">ZOSM</text>
<text x="209.5" y="288.0" font-size="13.9" stroke="#141414" stroke-width="0.3" textLength="86.0" lengthAdjust="spacingAndGlyphs">Compund Name</text>
<text x="312.2" y="288.0" font-size="13.9" stroke="#141414" stroke-width="0.3" textLength="64.4" lengthAdjust="spacingAndGlyphs">1-cv[DFMO]</text>
<text x="390.2" y="288.0" font-size="13.9" stroke="#141414" stroke-width="0.3" textLength="77.0" lengthAdjust="spacingAndGlyphs">cv[non-DFMO]</text>
<line x1="219.8" x2="456.3" y1="300.8" y2="300.8" stroke="#141414" stroke-width="1"/>
<text x="236.3" y="324.2" font-size="13.9" fill="#e01b24" stroke="#e01b24" stroke-width="0.3" textLength="31.2" lengthAdjust="spacingAndGlyphs">CIL56</text>
<text x="325.4" y="324.2" font-size="13.9" stroke="#141414" stroke-width="0.3" textLength="36.7" lengthAdjust="spacingAndGlyphs">0.7216</text>
<text x="409.9" y="324.2" font-size="13.9" stroke="#141414" stroke-width="0.3" textLength="36.7" lengthAdjust="spacingAndGlyphs">0.4617</text>
<text x="211.1" y="350.3" font-size="13.9" fill="#e01b24" stroke="#e01b24" stroke-width="0.3" textLength="82.8" lengthAdjust="spacingAndGlyphs">Astragaloside A</text>
<text x="325.4" y="350.3" font-size="13.9" stroke="#141414" stroke-width="0.3" textLength="36.7" lengthAdjust="spacingAndGlyphs">0.4404</text>
<text x="409.9" y="350.3" font-size="13.9" stroke="#141414" stroke-width="0.3" textLength="36.7" lengthAdjust="spacingAndGlyphs">1.0355</text>
<text x="209.5" y="444.3" font-size="13.9" stroke="#141414" stroke-width="0.3" textLength="86.0" lengthAdjust="spacingAndGlyphs">Compund Name</text>
<text x="312.2" y="444.3" font-size="13.9" stroke="#141414" stroke-width="0.3" textLength="64.4" lengthAdjust="spacingAndGlyphs">1-cv[DFMO]</text>
<text x="390.2" y="444.3" font-size="13.9" stroke="#141414" stroke-width="0.3" textLength="77.0" lengthAdjust="spacingAndGlyphs">cv[non-DFMO]</text>
<line x1="219.8" x2="456.3" y1="457.1" y2="457.1" stroke="#141414" stroke-width="1"/>
<text x="236.3" y="480.5" font-size="13.9" fill="#e01b24" stroke="#e01b24" stroke-width="0.3" textLength="31.2" lengthAdjust="spacingAndGlyphs">CIL56</text>
<text x="325.4" y="480.5" font-size="13.9" stroke="#141414" stroke-width="0.3" textLength="36.7" lengthAdjust="spacingAndGlyphs">0.6379</text>
<text x="409.9" y="480.5" font-size="13.9" stroke="#141414" stroke-width="0.3" textLength="36.7" lengthAdjust="spacingAndGlyphs">0.7050</text>
<text x="211.1" y="506.6" font-size="13.9" fill="#e01b24" stroke="#e01b24" stroke-width="0.3" textLength="82.8" lengthAdjust="spacingAndGlyphs">Astragaloside A</text>
<text x="325.4" y="506.6" font-size="13.9" stroke="#141414" stroke-width="0.3" textLength="36.7" lengthAdjust="spacingAndGlyphs">0.4139</text>
<text x="409.9" y="506.6" font-size="13.9" stroke="#141414" stroke-width="0.3" textLength="36.7" lengthAdjust="spacingAndGlyphs">0.8600</text>
</g>
<g id="panel-d">
<text x="484.1" y="257.4" font-size="21.5" font-weight="bold" fill="#000" textLength="10.3" lengthAdjust="spacingAndGlyphs">d</text>
<line x1="540" x2="680" y1="295.2" y2="295.2" stroke="#141414" stroke-width="0.9" stroke-dasharray="3.2 2.4"/>
<polyline points="545.7,262.0 545.9,272.0 546.4,279.0 547.3,284.0 549.0,287.2 552.0,289.0 556.0,290.3 562.0,291.4 570.0,292.5 580.0,293.6 590.0,294.5 600.0,295.3 610.0,296.1 620.0,297.0 630.0,298.1 640.0,299.4 648.0,300.7 655.0,302.2 661.0,304.2 665.5,306.8 668.8,310.2 671.0,314.5 672.6,320.0 673.6,327.0 674.2,335.0 674.5,342.0" fill="none" stroke="url(#dgA)" stroke-width="2.5" stroke-linecap="round" stroke-linejoin="round"/>
<circle cx="545.7" cy="248.6" r="1.4" fill="#c3cdf0"/>
<circle cx="545.7" cy="252.6" r="1.4" fill="#bcc7ee"/>
<circle cx="545.7" cy="258.5" r="1.4" fill="#b4c0ec"/>
<circle cx="674.6" cy="345" r="1.4" fill="#c3cdf0"/>
<circle cx="674.7" cy="349" r="1.4" fill="#c8d2f2"/>
<circle cx="674.7" cy="353" r="1.4" fill="#c8d2f2"/>
<circle cx="674.8" cy="357" r="1.4" fill="#ccd6f4"/>
<circle cx="674.8" cy="361" r="1.4" fill="#ccd6f4"/>
<circle cx="674.8" cy="365" r="1.4" fill="#d0d9f5"/>
<rect x="539.6" y="243" width="140.4" height="126.5" fill="none" stroke="#1f1f1f" stroke-width="1.1"/>
<line x1="537.4" x2="540" y1="264.0" y2="264.0" stroke="#262626" stroke-width="0.8"/>
<text x="530.2" y="268.4" font-size="12.9" fill="#262626" stroke="#262626" stroke-width="0.3" textLength="6.1" lengthAdjust="spacingAndGlyphs">1</text>
<line x1="537.4" x2="540" y1="295.2" y2="295.2" stroke="#262626" stroke-width="0.8"/>
<text x="530.2" y="299.6" font-size="12.9" fill="#262626" stroke="#262626" stroke-width="0.3" textLength="6.1" lengthAdjust="spacingAndGlyphs">0</text>
<line x1="537.4" x2="540" y1="326.4" y2="326.4" stroke="#262626" stroke-width="0.8"/>
<text x="523.2" y="330.8" font-size="12.9" fill="#262626" stroke="#262626" stroke-width="0.3" textLength="13.1" lengthAdjust="spacingAndGlyphs">−1</text>
<line x1="537.4" x2="540" y1="357.6" y2="357.6" stroke="#262626" stroke-width="0.8"/>
<text x="523.2" y="362.0" font-size="12.9" fill="#262626" stroke="#262626" stroke-width="0.3" textLength="13.1" lengthAdjust="spacingAndGlyphs">−2</text>
<text x="652.6" y="257.4" font-size="12.9" stroke="#141414" stroke-width="0.3" textLength="23.8" lengthAdjust="spacingAndGlyphs">143B</text>
<text x="563.4" y="267.9" font-size="13.4" fill="#e01b24" stroke="#e01b24" stroke-width="0.3" textLength="31.3" lengthAdjust="spacingAndGlyphs">CIL56</text>
<line x1="546.6" y1="266.4" x2="560.2" y2="262.8" stroke="#e01b24" stroke-width="0.9"/>
<text x="600.8" y="383.2" font-size="12.9" stroke="#141414" stroke-width="0.3" textLength="23.9" lengthAdjust="spacingAndGlyphs">Drug</text>
<text transform="translate(516.0,388.3) rotate(-90)" font-size="13.5" stroke="#141414" stroke-width="0.3" textLength="19.2" lengthAdjust="spacingAndGlyphs">Log</text>
<text transform="translate(518.6,368.5) rotate(-90)" font-size="8.6" textLength="3.8" lengthAdjust="spacingAndGlyphs">2</text>
<text transform="translate(516.0,364.2) rotate(-90)" font-size="13.5" stroke="#141414" stroke-width="0.3" textLength="127.3" lengthAdjust="spacingAndGlyphs">(cv[DFMO]/cv[non−DFMO])</text>
<line x1="540" x2="680" y1="458.8" y2="458.8" stroke="#141414" stroke-width="0.9" stroke-dasharray="3.2 2.4"/>
<polyline points="545.7,437.0 545.8,443.0 546.2,448.0 547.0,451.0 548.5,453.0 551.0,454.3 556.0,455.3 565.0,456.3 580.0,457.4 595.0,458.3 610.0,459.2 625.0,460.2 638.0,461.3 648.0,462.6 655.0,464.0 660.0,465.8 664.0,468.5 666.5,472.0 668.3,477.0 669.8,483.0 671.0,489.0 672.2,494.0 673.2,500.0 673.8,506.0 674.0,510.0" fill="none" stroke="url(#dgB)" stroke-width="2.5" stroke-linecap="round" stroke-linejoin="round"/>
<circle cx="545.7" cy="424.2" r="1.4" fill="#a3bb70"/>
<circle cx="545.7" cy="429.5" r="1.4" fill="#a3bb70"/>
<circle cx="545.7" cy="433.6" r="1.4" fill="#9bb46c"/>
<circle cx="674.2" cy="513.5" r="1.4" fill="#9bb46c"/>
<circle cx="674.2" cy="517.5" r="1.4" fill="#a3bb70"/>
<circle cx="674.2" cy="521.5" r="1.4" fill="#a3bb70"/>
<circle cx="674.2" cy="538.2" r="1.4" fill="#a3bb70"/>
<rect x="539.6" y="418.3" width="140.4" height="125.9" fill="none" stroke="#1f1f1f" stroke-width="1.1"/>
<line x1="537.4" x2="540" y1="437.4" y2="437.4" stroke="#262626" stroke-width="0.8"/>
<text x="530.2" y="441.8" font-size="12.9" fill="#262626" stroke="#262626" stroke-width="0.3" textLength="6.1" lengthAdjust="spacingAndGlyphs">1</text>
<line x1="537.4" x2="540" y1="458.8" y2="458.8" stroke="#262626" stroke-width="0.8"/>
<text x="530.2" y="463.2" font-size="12.9" fill="#262626" stroke="#262626" stroke-width="0.3" textLength="6.1" lengthAdjust="spacingAndGlyphs">0</text>
<line x1="537.4" x2="540" y1="480.2" y2="480.2" stroke="#262626" stroke-width="0.8"/>
<text x="523.2" y="484.6" font-size="12.9" fill="#262626" stroke="#262626" stroke-width="0.3" textLength="13.1" lengthAdjust="spacingAndGlyphs">−1</text>
<line x1="537.4" x2="540" y1="501.5" y2="501.5" stroke="#262626" stroke-width="0.8"/>
<text x="523.2" y="505.9" font-size="12.9" fill="#262626" stroke="#262626" stroke-width="0.3" textLength="13.1" lengthAdjust="spacingAndGlyphs">−2</text>
<line x1="537.4" x2="540" y1="522.9" y2="522.9" stroke="#262626" stroke-width="0.8"/>
<text x="523.2" y="527.2" font-size="12.9" fill="#262626" stroke="#262626" stroke-width="0.3" textLength="13.1" lengthAdjust="spacingAndGlyphs">−3</text>
<text x="645.7" y="433.0" font-size="12.9" stroke="#141414" stroke-width="0.3" textLength="30.7" lengthAdjust="spacingAndGlyphs">ZOSM</text>
<text x="563.4" y="436.9" font-size="13.4" fill="#e01b24" stroke="#e01b24" stroke-width="0.3" textLength="31.3" lengthAdjust="spacingAndGlyphs">CIL56</text>
<line x1="546.6" y1="438.4" x2="560.8" y2="433.9" stroke="#e01b24" stroke-width="0.9"/>
<text x="600.8" y="558.1" font-size="12.9" stroke="#141414" stroke-width="0.3" textLength="23.9" lengthAdjust="spacingAndGlyphs">Drug</text>
<text transform="translate(516.0,562.4) rotate(-90)" font-size="13.5" stroke="#141414" stroke-width="0.3" textLength="19.1" lengthAdjust="spacingAndGlyphs">Log</text>
<text transform="translate(518.6,542.7) rotate(-90)" font-size="8.6" textLength="3.8" lengthAdjust="spacingAndGlyphs">2</text>
<text transform="translate(516.0,538.5) rotate(-90)" font-size="13.5" stroke="#141414" stroke-width="0.3" textLength="126.2" lengthAdjust="spacingAndGlyphs">(cv[DFMO]/cv[non−DFMO])</text>
</g>
<g id="panel-e">
<text x="-0.7" y="564.9" font-size="21.5" font-weight="bold" fill="#000" textLength="11.0" lengthAdjust="spacingAndGlyphs">e</text>
<path d="M46.8,579.4V698.5H680.6" fill="none" stroke="#141414" stroke-width="0.9"/>
<line x1="44" x2="46.8" y1="698.5" y2="698.5" stroke="#141414" stroke-width="0.9"/>
<text x="34.9" y="702.4" font-size="13.4" stroke="#141414" stroke-width="0.3" textLength="6.1" lengthAdjust="spacingAndGlyphs">0</text>
<line x1="44" x2="46.8" y1="658.8" y2="658.8" stroke="#141414" stroke-width="0.9"/>
<text x="29.1" y="662.7" font-size="13.4" stroke="#141414" stroke-width="0.3" textLength="11.9" lengthAdjust="spacingAndGlyphs">50</text>
<line x1="44" x2="46.8" y1="619.1" y2="619.1" stroke="#141414" stroke-width="0.9"/>
<text x="23.3" y="623.0" font-size="13.4" stroke="#141414" stroke-width="0.3" textLength="17.7" lengthAdjust="spacingAndGlyphs">100</text>
<line x1="44" x2="46.8" y1="579.4" y2="579.4" stroke="#141414" stroke-width="0.9"/>
<text x="23.3" y="583.3" font-size="13.4" stroke="#141414" stroke-width="0.3" textLength="17.7" lengthAdjust="spacingAndGlyphs">150</text>
<text transform="translate(18.4,693.4) rotate(-90)" font-size="13.4" stroke="#141414" stroke-width="0.3" textLength="114.5" lengthAdjust="spacingAndGlyphs">Relative cell viability (%)</text>
<rect x="63.4" y="575.2" width="17.8" height="9.8" fill="#4459aa" stroke="#3a4d98" stroke-width="0.6"/>
<text x="83.9" y="585.1" font-size="14" stroke="#141414" stroke-width="0.3" textLength="37.1" lengthAdjust="spacingAndGlyphs">Control</text>
<rect x="132.4" y="575.2" width="17.1" height="9.8" fill="#a3b7f0" stroke="#8fa4e2" stroke-width="0.6"/>
<text x="152.5" y="585.1" font-size="14" stroke="#141414" stroke-width="0.3" textLength="78.7" lengthAdjust="spacingAndGlyphs">DFMO(100µM)</text>
<rect x="243.6" y="575.2" width="17.4" height="9.8" fill="#aaa679" stroke="#97936a" stroke-width="0.6"/>
<text x="264.0" y="585.1" font-size="14" stroke="#141414" stroke-width="0.3" textLength="61.9" lengthAdjust="spacingAndGlyphs">CIL56(1µM)</text>
<rect x="341.5" y="575.2" width="17.4" height="9.8" fill="#dadac2" stroke="#c9c9ae" stroke-width="0.6"/>
<text x="361.2" y="585.1" font-size="14" stroke="#141414" stroke-width="0.3" textLength="53.5" lengthAdjust="spacingAndGlyphs">Combined</text>
<line x1="84.7" x2="84.7" y1="698.5" y2="701.3" stroke="#141414" stroke-width="0.9"/>
<text x="70.4" y="714.7" font-size="13.4" stroke="#141414" stroke-width="0.3" textLength="29.1" lengthAdjust="spacingAndGlyphs">U2OS</text>
<rect x="52.9" y="619.1" width="12.0" height="79.4" fill="#4459aa"/>
<rect x="70.1" y="646.9" width="12.0" height="51.6" fill="#a3b7f0"/>
<rect x="87.3" y="639.0" width="12.0" height="59.6" fill="#aaa679"/>
<rect x="104.5" y="670.7" width="12.0" height="27.8" fill="#dadac2"/>
<line x1="164.6" x2="164.6" y1="698.5" y2="701.3" stroke="#141414" stroke-width="0.9"/>
<text x="151.5" y="714.7" font-size="13.4" stroke="#141414" stroke-width="0.3" textLength="27.0" lengthAdjust="spacingAndGlyphs">SJSA</text>
<rect x="132.8" y="619.1" width="12.0" height="79.4" fill="#4459aa"/>
<rect x="150.0" y="639.7" width="12.0" height="58.8" fill="#a3b7f0"/>
<rect x="167.2" y="631.8" width="12.0" height="66.7" fill="#aaa679"/>
<rect x="184.4" y="653.2" width="12.0" height="45.3" fill="#dadac2"/>
<line x1="244.4" x2="244.4" y1="698.5" y2="701.3" stroke="#141414" stroke-width="0.9"/>
<text x="233.1" y="714.7" font-size="13.4" stroke="#141414" stroke-width="0.3" textLength="23.3" lengthAdjust="spacingAndGlyphs">HOS</text>
<rect x="212.6" y="619.1" width="12.0" height="79.4" fill="#4459aa"/>
<rect x="229.8" y="647.7" width="12.0" height="50.8" fill="#a3b7f0"/>
<rect x="247.0" y="637.4" width="12.0" height="61.1" fill="#aaa679"/>
<rect x="264.2" y="663.6" width="12.0" height="34.9" fill="#dadac2"/>
<line x1="324.3" x2="324.3" y1="698.5" y2="701.3" stroke="#141414" stroke-width="0.9"/>
<text x="294.7" y="714.7" font-size="13.4" stroke="#141414" stroke-width="0.3" textLength="57.9" lengthAdjust="spacingAndGlyphs">HOS/MNNG</text>
<rect x="292.5" y="619.1" width="12.0" height="79.4" fill="#4459aa"/>
<rect x="309.7" y="645.3" width="12.0" height="53.2" fill="#a3b7f0"/>
<rect x="326.9" y="656.4" width="12.0" height="42.1" fill="#aaa679"/>
<rect x="344.1" y="677.9" width="12.0" height="20.6" fill="#dadac2"/>
<line x1="404.2" x2="404.2" y1="698.5" y2="701.3" stroke="#141414" stroke-width="0.9"/>
<text x="389.7" y="714.7" font-size="13.4" stroke="#141414" stroke-width="0.3" textLength="28.4" lengthAdjust="spacingAndGlyphs">MG63</text>
<rect x="372.4" y="619.1" width="12.0" height="79.4" fill="#4459aa"/>
<rect x="389.6" y="654.8" width="12.0" height="43.7" fill="#a3b7f0"/>
<rect x="406.8" y="658.8" width="12.0" height="39.7" fill="#aaa679"/>
<rect x="424.0" y="676.3" width="12.0" height="22.2" fill="#dadac2"/>
<line x1="484.1" x2="484.1" y1="698.5" y2="701.3" stroke="#141414" stroke-width="0.9"/>
<text x="471.7" y="714.7" font-size="13.4" stroke="#141414" stroke-width="0.3" textLength="23.6" lengthAdjust="spacingAndGlyphs">143B</text>
<rect x="452.2" y="619.1" width="12.0" height="79.4" fill="#4459aa"/>
<rect x="469.4" y="665.2" width="12.0" height="33.3" fill="#a3b7f0"/>
<rect x="486.6" y="629.4" width="12.0" height="69.1" fill="#aaa679"/>
<rect x="503.9" y="672.3" width="12.0" height="26.2" fill="#dadac2"/>
<line x1="563.9" x2="563.9" y1="698.5" y2="701.3" stroke="#141414" stroke-width="0.9"/>
<text x="544.6" y="714.7" font-size="13.4" stroke="#141414" stroke-width="0.3" textLength="38.4" lengthAdjust="spacingAndGlyphs">MG63.2</text>
<rect x="532.1" y="619.1" width="12.0" height="79.4" fill="#4459aa"/>
<rect x="549.3" y="644.5" width="12.0" height="54.0" fill="#a3b7f0"/>
<rect x="566.5" y="639.7" width="12.0" height="58.8" fill="#aaa679"/>
<rect x="583.7" y="668.3" width="12.0" height="30.2" fill="#dadac2"/>
<line x1="643.8" x2="643.8" y1="698.5" y2="701.3" stroke="#141414" stroke-width="0.9"/>
<text x="627.5" y="714.7" font-size="13.4" stroke="#141414" stroke-width="0.3" textLength="31.7" lengthAdjust="spacingAndGlyphs">ZOSM</text>
<rect x="612.0" y="619.1" width="12.0" height="79.4" fill="#4459aa"/>
<rect x="629.2" y="659.6" width="12.0" height="38.9" fill="#a3b7f0"/>
<rect x="646.4" y="639.7" width="12.0" height="58.8" fill="#aaa679"/>
<rect x="663.6" y="675.5" width="12.0" height="23.0" fill="#dadac2"/>
<path d="M58.9,616.7V621.5M56.1,616.7h5.6M56.1,621.5h5.6M76.1,642.1V651.7M73.3,642.1h5.6M73.3,651.7h5.6M93.3,633.4V644.5M90.5,633.4h5.6M90.5,644.5h5.6M110.5,663.6V677.9M107.7,663.6h5.6M107.7,677.9h5.6M138.8,616.7V621.5M136.0,616.7h5.6M136.0,621.5h5.6M156.0,637.4V642.1M153.2,637.4h5.6M153.2,642.1h5.6M173.2,627.8V635.8M170.4,627.8h5.6M170.4,635.8h5.6M190.4,651.7V654.8M187.6,651.7h5.6M187.6,654.8h5.6M218.6,612.7V625.5M215.8,612.7h5.6M215.8,625.5h5.6M235.8,645.3V650.1M233.0,645.3h5.6M233.0,650.1h5.6M253.0,633.4V641.3M250.2,633.4h5.6M250.2,641.3h5.6M270.2,661.2V665.9M267.4,661.2h5.6M267.4,665.9h5.6M298.5,603.2V635.0M295.7,603.2h5.6M295.7,635.0h5.6M315.7,635.8V654.8M312.9,635.8h5.6M312.9,654.8h5.6M332.9,637.4V675.5M330.1,637.4h5.6M330.1,675.5h5.6M350.1,672.3V683.4M347.3,672.3h5.6M347.3,683.4h5.6M378.4,617.5V620.7M375.6,617.5h5.6M375.6,620.7h5.6M395.6,651.7V658.0M392.8,651.7h5.6M392.8,658.0h5.6M412.8,652.4V665.2M410.0,652.4h5.6M410.0,665.2h5.6M430.0,674.7V677.9M427.2,674.7h5.6M427.2,677.9h5.6M458.2,615.9V622.3M455.4,615.9h5.6M455.4,622.3h5.6M492.6,626.2V632.6M489.8,626.2h5.6M489.8,632.6h5.6M509.9,669.9V674.7M507.1,669.9h5.6M507.1,674.7h5.6M538.1,617.5V620.7M535.3,617.5h5.6M535.3,620.7h5.6M555.3,642.9V646.1M552.5,642.9h5.6M552.5,646.1h5.6M589.7,666.7V669.9M586.9,666.7h5.6M586.9,669.9h5.6M618.0,613.5V624.7M615.2,613.5h5.6M615.2,624.7h5.6M635.2,655.6V663.6M632.4,655.6h5.6M632.4,663.6h5.6M652.4,635.0V644.5M649.6,635.0h5.6M649.6,644.5h5.6M669.6,672.3V678.6M666.8,672.3h5.6M666.8,678.6h5.6" fill="none" stroke="#000" stroke-width="0.8"/>
<g fill="#000"><circle cx="58.4" cy="616.7" r="2.3"/><circle cx="62.1" cy="617.5" r="2.3"/><circle cx="55.5" cy="619.1" r="2.3"/><circle cx="59.9" cy="620.7" r="2.3"/><circle cx="56.3" cy="622.3" r="2.3"/><circle cx="78.6" cy="643.7" r="2.3"/><circle cx="73.1" cy="644.5" r="2.3"/><circle cx="76.4" cy="645.3" r="2.3"/><circle cx="79.4" cy="649.3" r="2.3"/><circle cx="74.9" cy="657.2" r="2.3"/><circle cx="90.1" cy="631.8" r="2.3"/><circle cx="94.5" cy="635.8" r="2.3"/><circle cx="96.7" cy="639.7" r="2.3"/><circle cx="91.9" cy="641.3" r="2.3"/><circle cx="95.5" cy="644.5" r="2.3"/><circle cx="110.9" cy="662.0" r="2.3"/><circle cx="107.7" cy="666.7" r="2.3"/><circle cx="113.4" cy="671.5" r="2.3"/><circle cx="109.9" cy="671.5" r="2.3"/><circle cx="113.8" cy="681.8" r="2.3"/><circle cx="141.3" cy="615.1" r="2.3"/><circle cx="135.8" cy="617.5" r="2.3"/><circle cx="139.1" cy="619.1" r="2.3"/><circle cx="142.1" cy="621.5" r="2.3"/><circle cx="137.6" cy="622.3" r="2.3"/><circle cx="152.8" cy="634.2" r="2.3"/><circle cx="157.2" cy="638.2" r="2.3"/><circle cx="159.4" cy="639.7" r="2.3"/><circle cx="154.6" cy="641.3" r="2.3"/><circle cx="158.2" cy="642.9" r="2.3"/><circle cx="173.6" cy="623.9" r="2.3"/><circle cx="170.4" cy="628.6" r="2.3"/><circle cx="176.1" cy="633.4" r="2.3"/><circle cx="172.6" cy="634.2" r="2.3"/><circle cx="176.5" cy="635.0" r="2.3"/><circle cx="189.7" cy="650.1" r="2.3"/><circle cx="194.4" cy="652.4" r="2.3"/><circle cx="186.1" cy="653.2" r="2.3"/><circle cx="191.6" cy="654.0" r="2.3"/><circle cx="187.1" cy="654.0" r="2.3"/><circle cx="215.4" cy="607.2" r="2.3"/><circle cx="219.8" cy="618.3" r="2.3"/><circle cx="222.0" cy="620.7" r="2.3"/><circle cx="217.2" cy="623.1" r="2.3"/><circle cx="220.8" cy="623.1" r="2.3"/><circle cx="236.2" cy="645.3" r="2.3"/><circle cx="233.0" cy="646.1" r="2.3"/><circle cx="238.7" cy="647.7" r="2.3"/><circle cx="235.2" cy="650.1" r="2.3"/><circle cx="239.1" cy="650.9" r="2.3"/><circle cx="252.5" cy="630.2" r="2.3"/><circle cx="256.2" cy="636.6" r="2.3"/><circle cx="249.6" cy="638.2" r="2.3"/><circle cx="254.0" cy="639.0" r="2.3"/><circle cx="250.4" cy="639.7" r="2.3"/><circle cx="272.7" cy="659.6" r="2.3"/><circle cx="267.2" cy="662.0" r="2.3"/><circle cx="270.5" cy="663.6" r="2.3"/><circle cx="273.5" cy="665.2" r="2.3"/><circle cx="269.0" cy="665.9" r="2.3"/><circle cx="298.9" cy="598.5" r="2.3"/><circle cx="295.7" cy="611.2" r="2.3"/><circle cx="301.4" cy="620.7" r="2.3"/><circle cx="297.9" cy="628.6" r="2.3"/><circle cx="301.8" cy="642.9" r="2.3"/><circle cx="315.2" cy="633.4" r="2.3"/><circle cx="318.9" cy="644.5" r="2.3"/><circle cx="312.3" cy="645.3" r="2.3"/><circle cx="316.7" cy="646.9" r="2.3"/><circle cx="313.1" cy="658.8" r="2.3"/><circle cx="335.4" cy="635.0" r="2.3"/><circle cx="329.9" cy="637.4" r="2.3"/><circle cx="333.2" cy="662.8" r="2.3"/><circle cx="336.2" cy="673.1" r="2.3"/><circle cx="331.7" cy="674.7" r="2.3"/><circle cx="346.9" cy="672.3" r="2.3"/><circle cx="351.3" cy="673.1" r="2.3"/><circle cx="353.5" cy="677.1" r="2.3"/><circle cx="348.7" cy="681.0" r="2.3"/><circle cx="352.3" cy="686.6" r="2.3"/><circle cx="377.8" cy="615.9" r="2.3"/><circle cx="382.4" cy="618.3" r="2.3"/><circle cx="374.1" cy="619.1" r="2.3"/><circle cx="379.6" cy="619.9" r="2.3"/><circle cx="375.1" cy="620.7" r="2.3"/><circle cx="398.1" cy="648.5" r="2.3"/><circle cx="392.6" cy="654.0" r="2.3"/><circle cx="395.9" cy="655.6" r="2.3"/><circle cx="398.9" cy="656.4" r="2.3"/><circle cx="394.4" cy="657.2" r="2.3"/><circle cx="409.6" cy="652.4" r="2.3"/><circle cx="414.0" cy="654.0" r="2.3"/><circle cx="416.2" cy="659.6" r="2.3"/><circle cx="411.4" cy="663.6" r="2.3"/><circle cx="415.0" cy="667.5" r="2.3"/><circle cx="430.5" cy="673.1" r="2.3"/><circle cx="426.5" cy="674.7" r="2.3"/><circle cx="433.6" cy="675.5" r="2.3"/><circle cx="429.2" cy="676.3" r="2.3"/><circle cx="434.1" cy="676.3" r="2.3"/><circle cx="460.8" cy="615.1" r="2.3"/><circle cx="455.2" cy="617.5" r="2.3"/><circle cx="458.6" cy="619.1" r="2.3"/><circle cx="461.6" cy="620.7" r="2.3"/><circle cx="457.1" cy="624.7" r="2.3"/><circle cx="471.4" cy="664.4" r="2.3"/><circle cx="476.9" cy="664.4" r="2.3"/><circle cx="479.7" cy="665.2" r="2.3"/><circle cx="473.7" cy="665.2" r="2.3"/><circle cx="478.2" cy="665.9" r="2.3"/><circle cx="493.0" cy="624.7" r="2.3"/><circle cx="489.8" cy="628.6" r="2.3"/><circle cx="495.5" cy="629.4" r="2.3"/><circle cx="492.0" cy="630.2" r="2.3"/><circle cx="495.9" cy="634.2" r="2.3"/><circle cx="509.4" cy="668.3" r="2.3"/><circle cx="513.1" cy="670.7" r="2.3"/><circle cx="506.5" cy="672.3" r="2.3"/><circle cx="510.9" cy="673.9" r="2.3"/><circle cx="507.2" cy="674.7" r="2.3"/><circle cx="534.1" cy="617.5" r="2.3"/><circle cx="539.6" cy="618.3" r="2.3"/><circle cx="542.4" cy="619.1" r="2.3"/><circle cx="536.4" cy="619.1" r="2.3"/><circle cx="540.9" cy="624.7" r="2.3"/><circle cx="555.8" cy="641.3" r="2.3"/><circle cx="551.8" cy="643.7" r="2.3"/><circle cx="558.9" cy="644.5" r="2.3"/><circle cx="554.6" cy="645.3" r="2.3"/><circle cx="559.4" cy="645.3" r="2.3"/><circle cx="571.9" cy="638.2" r="2.3"/><circle cx="576.5" cy="639.0" r="2.3"/><circle cx="568.3" cy="639.0" r="2.3"/><circle cx="573.8" cy="639.7" r="2.3"/><circle cx="569.3" cy="640.5" r="2.3"/><circle cx="592.8" cy="665.2" r="2.3"/><circle cx="586.0" cy="667.5" r="2.3"/><circle cx="590.1" cy="668.3" r="2.3"/><circle cx="593.8" cy="669.1" r="2.3"/><circle cx="588.2" cy="669.1" r="2.3"/><circle cx="618.4" cy="611.2" r="2.3"/><circle cx="615.2" cy="615.9" r="2.3"/><circle cx="620.9" cy="620.7" r="2.3"/><circle cx="617.4" cy="622.3" r="2.3"/><circle cx="621.3" cy="625.5" r="2.3"/><circle cx="634.7" cy="649.3" r="2.3"/><circle cx="638.4" cy="652.4" r="2.3"/><circle cx="631.8" cy="654.8" r="2.3"/><circle cx="636.2" cy="658.8" r="2.3"/><circle cx="632.6" cy="660.4" r="2.3"/><circle cx="654.9" cy="635.0" r="2.3"/><circle cx="649.4" cy="637.4" r="2.3"/><circle cx="652.7" cy="639.7" r="2.3"/><circle cx="655.7" cy="642.9" r="2.3"/><circle cx="651.2" cy="647.7" r="2.3"/><circle cx="666.4" cy="669.1" r="2.3"/><circle cx="670.8" cy="674.7" r="2.3"/><circle cx="673.0" cy="676.3" r="2.3"/><circle cx="668.2" cy="677.1" r="2.3"/><circle cx="671.8" cy="679.4" r="2.3"/></g>
<text x="70.1" y="636.5" font-size="10.5" fill="#111" textLength="12.0" lengthAdjust="spacingAndGlyphs" stroke="#111" stroke-width="0.25">***</text>
<text x="87.3" y="626.2" font-size="10.5" fill="#111" textLength="12.0" lengthAdjust="spacingAndGlyphs" stroke="#111" stroke-width="0.25">***</text>
<text x="104.5" y="656.4" font-size="10.5" fill="#111" textLength="12.0" lengthAdjust="spacingAndGlyphs" stroke="#111" stroke-width="0.25">***</text>
<text x="150.0" y="628.6" font-size="10.5" fill="#111" textLength="12.0" lengthAdjust="spacingAndGlyphs" stroke="#111" stroke-width="0.25">***</text>
<text x="169.2" y="618.3" font-size="10.5" fill="#111" textLength="8.0" lengthAdjust="spacingAndGlyphs" stroke="#111" stroke-width="0.25">**</text>
<text x="184.4" y="644.5" font-size="10.5" fill="#111" textLength="12.0" lengthAdjust="spacingAndGlyphs" stroke="#111" stroke-width="0.25">***</text>
<text x="233.8" y="639.7" font-size="10.5" fill="#111" textLength="4.0" lengthAdjust="spacingAndGlyphs" stroke="#111" stroke-width="0.25">*</text>
<text x="249.0" y="624.6" font-size="10.5" fill="#111" textLength="8.0" lengthAdjust="spacingAndGlyphs" stroke="#111" stroke-width="0.25">**</text>
<text x="264.2" y="654.0" font-size="10.5" fill="#111" textLength="12.0" lengthAdjust="spacingAndGlyphs" stroke="#111" stroke-width="0.25">***</text>
<text x="326.9" y="629.4" font-size="10.5" fill="#111" textLength="12.0" lengthAdjust="spacingAndGlyphs" stroke="#111" stroke-width="0.25">***</text>
<text x="344.1" y="666.7" font-size="10.5" fill="#111" textLength="12.0" lengthAdjust="spacingAndGlyphs" stroke="#111" stroke-width="0.25">***</text>
<text x="389.6" y="642.9" font-size="10.5" fill="#111" textLength="12.0" lengthAdjust="spacingAndGlyphs" stroke="#111" stroke-width="0.25">***</text>
<text x="408.8" y="646.8" font-size="10.5" fill="#111" textLength="8.0" lengthAdjust="spacingAndGlyphs" stroke="#111" stroke-width="0.25">**</text>
<text x="424.0" y="667.5" font-size="10.5" fill="#111" textLength="12.0" lengthAdjust="spacingAndGlyphs" stroke="#111" stroke-width="0.25">***</text>
<text x="469.4" y="658.8" font-size="10.5" fill="#111" textLength="12.0" lengthAdjust="spacingAndGlyphs" stroke="#111" stroke-width="0.25">***</text>
<text x="488.6" y="619.1" font-size="10.5" fill="#111" textLength="8.0" lengthAdjust="spacingAndGlyphs" stroke="#111" stroke-width="0.25">**</text>
<text x="503.9" y="662.7" font-size="10.5" fill="#111" textLength="12.0" lengthAdjust="spacingAndGlyphs" stroke="#111" stroke-width="0.25">***</text>
<text x="549.3" y="635.7" font-size="10.5" fill="#111" textLength="12.0" lengthAdjust="spacingAndGlyphs" stroke="#111" stroke-width="0.25">***</text>
<text x="566.5" y="632.6" font-size="10.5" fill="#111" textLength="12.0" lengthAdjust="spacingAndGlyphs" stroke="#111" stroke-width="0.25">***</text>
<text x="583.7" y="659.6" font-size="10.5" fill="#111" textLength="12.0" lengthAdjust="spacingAndGlyphs" stroke="#111" stroke-width="0.25">***</text>
<text x="629.2" y="643.7" font-size="10.5" fill="#111" textLength="12.0" lengthAdjust="spacingAndGlyphs" stroke="#111" stroke-width="0.25">***</text>
<text x="648.4" y="629.4" font-size="10.5" fill="#111" textLength="8.0" lengthAdjust="spacingAndGlyphs" stroke="#111" stroke-width="0.25">**</text>
<text x="663.6" y="663.5" font-size="10.5" fill="#111" textLength="12.0" lengthAdjust="spacingAndGlyphs" stroke="#111" stroke-width="0.25">***</text>
</g>
<g id="panel-f">
<text x="-0.2" y="765.5" font-size="21.5" font-weight="bold" fill="#000" textLength="6.4" lengthAdjust="spacingAndGlyphs">f</text>
<text x="34.9" y="765.5" font-size="14.1" stroke="#141414" stroke-width="0.3" textLength="29.4" lengthAdjust="spacingAndGlyphs">SJSA</text>
<text x="101.8" y="765.5" font-size="14.1" stroke="#141414" stroke-width="0.3" textLength="25.6" lengthAdjust="spacingAndGlyphs">HOS</text>
<text x="145.6" y="765.5" font-size="14.1" stroke="#141414" stroke-width="0.3" textLength="64.8" lengthAdjust="spacingAndGlyphs">HOS/MNNG</text>
<text x="228.7" y="765.5" font-size="14.1" stroke="#141414" stroke-width="0.3" textLength="32.0" lengthAdjust="spacingAndGlyphs">MG63</text>
<text x="296.6" y="765.5" font-size="14.1" stroke="#141414" stroke-width="0.3" textLength="27.1" lengthAdjust="spacingAndGlyphs">143B</text>
<text x="353.2" y="765.5" font-size="14.1" stroke="#141414" stroke-width="0.3" textLength="41.6" lengthAdjust="spacingAndGlyphs">MG63.2</text>
<text x="421.6" y="765.5" font-size="14.1" stroke="#141414" stroke-width="0.3" textLength="34.6" lengthAdjust="spacingAndGlyphs">ZOSM</text>
<text x="481.2" y="811.5" font-size="14.1" stroke="#141414" stroke-width="0.3" textLength="37.9" lengthAdjust="spacingAndGlyphs">Control</text>
<text x="481.2" y="875.7" font-size="14.1" stroke="#141414" stroke-width="0.3" textLength="35.2" lengthAdjust="spacingAndGlyphs">DFMO</text>
<text x="481.2" y="939.4" font-size="14.1" stroke="#141414" stroke-width="0.3" textLength="31.5" lengthAdjust="spacingAndGlyphs">CIL56</text>
<text x="481.2" y="1004.2" font-size="14.1" stroke="#141414" stroke-width="0.3" textLength="53.4" lengthAdjust="spacingAndGlyphs">Combined</text>
<g clip-path="url(#wc1)">
<circle cx="51.0" cy="807.7" r="30" fill="#f3f0ec"/>
<ellipse cx="51.0" cy="798.7" rx="16" ry="10" fill="#b088dc" fill-opacity="0.5" filter="url(#bl3)"/>
<circle cx="51.0" cy="807.7" r="30" fill="url(#wg1_0)" filter="url(#wf1_0)" transform="rotate(52 51.0 807.7)"/>
<circle cx="51.0" cy="807.7" r="30" fill="url(#wg1_1)" filter="url(#wf1_1)" transform="rotate(15 51.0 807.7)"/>
</g>
<circle cx="51.0" cy="807.7" r="29.5" fill="none" stroke="#1c1c1c" stroke-width="1"/>
<g clip-path="url(#wc2)">
<circle cx="116.05" cy="807.7" r="30" fill="#f4f1ef"/>
<ellipse cx="114.05" cy="810.7" rx="15" ry="9" fill="#6434bc" fill-opacity="0.7" filter="url(#bl3)"/>
<circle cx="116.05" cy="807.7" r="30" fill="url(#wg2_0)" filter="url(#wf2_0)" transform="rotate(89 116.05 807.7)"/>
<circle cx="116.05" cy="807.7" r="30" fill="url(#wg2_1)" filter="url(#wf2_1)" transform="rotate(52 116.05 807.7)"/>
</g>
<circle cx="116.05" cy="807.7" r="29.5" fill="none" stroke="#1c1c1c" stroke-width="1"/>
<g clip-path="url(#wc3)">
<circle cx="181.1" cy="807.7" r="30" fill="#3f1a90"/>
<ellipse cx="181.1" cy="807.7" rx="19" ry="19" fill="#6444c6" fill-opacity="0.85" filter="url(#bl5)"/>
<circle cx="181.1" cy="807.7" r="27.5" fill="none" stroke="#2a0e6a" stroke-width="5" stroke-opacity="0.9" filter="url(#bl2)"/>
<circle cx="181.1" cy="807.7" r="30" fill="url(#wg3_0)" filter="url(#wf3_0)" transform="rotate(36 181.1 807.7)"/>
<circle cx="181.1" cy="807.7" r="30" fill="url(#wg3_1)" filter="url(#wf3_1)" transform="rotate(89 181.1 807.7)"/>
</g>
<circle cx="181.1" cy="807.7" r="29.5" fill="none" stroke="#1c1c1c" stroke-width="1"/>
<g clip-path="url(#wc4)">
<circle cx="246.14999999999998" cy="807.7" r="30" fill="#f5f2ef"/>
<circle cx="246.14999999999998" cy="807.7" r="30" fill="#000" fill-opacity="0.6" filter="url(#wf4_0)" transform="rotate(73 246.14999999999998 807.7)"/>
<circle cx="246.14999999999998" cy="807.7" r="30" fill="#000" fill-opacity="0.49" filter="url(#wf4_1)" transform="rotate(36 246.14999999999998 807.7)"/>
</g>
<circle cx="246.14999999999998" cy="807.7" r="29.5" fill="none" stroke="#1c1c1c" stroke-width="1"/>
<g clip-path="url(#wc5)">
<circle cx="311.2" cy="807.7" r="30" fill="#f5eff3"/>
<circle cx="311.2" cy="807.7" r="30" fill="url(#wg5_0)" filter="url(#wf5_0)" transform="rotate(20 311.2 807.7)"/>
<circle cx="311.2" cy="807.7" r="30" fill="url(#wg5_1)" filter="url(#wf5_1)" transform="rotate(73 311.2 807.7)"/>
</g>
<circle cx="311.2" cy="807.7" r="29.5" fill="none" stroke="#1c1c1c" stroke-width="1"/>
<g clip-path="url(#wc6)">
<circle cx="376.25" cy="807.7" r="30" fill="#ebe4ee"/>
<ellipse cx="376.25" cy="791.7" rx="24" ry="9" fill="#a87ad4" fill-opacity="0.6" filter="url(#bl3)"/>
<ellipse cx="356.25" cy="813.7" rx="7" ry="16" fill="#a87ad4" fill-opacity="0.45" filter="url(#bl3)"/>
<ellipse cx="392.25" cy="821.7" rx="9" ry="9" fill="#a87ad4" fill-opacity="0.4" filter="url(#bl3)"/>
<circle cx="376.25" cy="807.7" r="30" fill="url(#wg6_0)" filter="url(#wf6_0)" transform="rotate(57 376.25 807.7)"/>
<circle cx="376.25" cy="807.7" r="30" fill="url(#wg6_1)" filter="url(#wf6_1)" transform="rotate(20 376.25 807.7)"/>
</g>
<circle cx="376.25" cy="807.7" r="29.5" fill="none" stroke="#1c1c1c" stroke-width="1"/>
<g clip-path="url(#wc7)">
<circle cx="441.29999999999995" cy="807.7" r="30" fill="#f2f0f4"/>
<ellipse cx="431.29999999999995" cy="825.7" rx="12" ry="7" fill="#3f3aa8" fill-opacity="0.55" filter="url(#bl3)"/>
<circle cx="441.29999999999995" cy="807.7" r="30" fill="#000" fill-opacity="0.47" filter="url(#wf7_0)" transform="rotate(94 441.29999999999995 807.7)"/>
<circle cx="441.29999999999995" cy="807.7" r="30" fill="url(#wg7_1)" filter="url(#wf7_1)" transform="rotate(57 441.29999999999995 807.7)"/>
</g>
<circle cx="441.29999999999995" cy="807.7" r="29.5" fill="none" stroke="#1c1c1c" stroke-width="1"/>
<g clip-path="url(#wc8)">
<circle cx="51.0" cy="872.2" r="30" fill="#f3eff0"/>
<ellipse cx="47.0" cy="872.2" rx="16" ry="19" fill="#bd9ce0" fill-opacity="0.6" filter="url(#bl3)"/>
<ellipse cx="45.0" cy="884.2" rx="7" ry="5" fill="#a478d6" fill-opacity="0.6" filter="url(#bl2)"/>
<circle cx="51.0" cy="872.2" r="30" fill="url(#wg8_0)" filter="url(#wf8_0)" transform="rotate(41 51.0 872.2)"/>
<circle cx="51.0" cy="872.2" r="30" fill="url(#wg8_1)" filter="url(#wf8_1)" transform="rotate(94 51.0 872.2)"/>
</g>
<circle cx="51.0" cy="872.2" r="29.5" fill="none" stroke="#1c1c1c" stroke-width="1"/>
<g clip-path="url(#wc9)">
<circle cx="116.05" cy="872.2" r="30" fill="#e6ece6"/>
<circle cx="116.05" cy="872.2" r="30" fill="url(#wg9_0)" filter="url(#wf9_0)" transform="rotate(78 116.05 872.2)"/>
<circle cx="116.05" cy="872.2" r="30" fill="url(#wg9_1)" filter="url(#wf9_1)" transform="rotate(41 116.05 872.2)"/>
</g>
<circle cx="116.05" cy="872.2" r="29.5" fill="none" stroke="#1c1c1c" stroke-width="1"/>
<g clip-path="url(#wc10)">
<circle cx="181.1" cy="872.2" r="30" fill="#f4f2f6"/>
<circle cx="181.1" cy="872.2" r="30" fill="url(#wg10_0)" filter="url(#wf10_0)" transform="rotate(25 181.1 872.2)"/>
<path d="M181.1,896.1h0M152.2,872.4h0M194.7,890.7h0M180.7,873.8h0M155.2,877.5h0M168.1,888.6h0M208.5,872.1h0M182.7,846.1h0M194.1,873.0h0M164.0,882.6h0M161.0,863.6h0M163.5,881.2h0M163.3,859.0h0M162.7,888.8h0M207.8,883.3h0M173.8,876.0h0M171.0,884.9h0M156.6,882.5h0M192.2,881.0h0M161.4,857.0h0M161.7,874.8h0M174.4,857.0h0M173.1,870.8h0M182.4,875.5h0M164.4,891.3h0M173.8,871.2h0M206.1,859.8h0M179.3,856.3h0M203.5,864.9h0M176.8,852.9h0M190.3,892.6h0M203.9,870.9h0M184.9,846.2h0M193.9,858.0h0M166.8,876.7h0M203.4,866.0h0M204.3,879.7h0M196.6,859.8h0M189.7,886.3h0M168.6,877.7h0M192.5,859.6h0M175.6,866.5h0M202.9,864.8h0M191.1,859.2h0M178.4,881.4h0M167.3,877.3h0M187.7,867.9h0M171.6,893.7h0M179.8,872.7h0M162.8,888.6h0M178.6,899.2h0M167.3,885.6h0M200.4,881.2h0M166.3,882.3h0M180.2,874.6h0M182.9,880.6h0M163.1,881.9h0M175.3,878.3h0M159.1,882.9h0M173.2,885.7h0M156.1,861.3h0M186.0,876.8h0M170.7,882.4h0M171.9,881.6h0" fill="none" stroke="#6250c2" stroke-width="1.1" stroke-linecap="round"/>
<path d="M190.5,870.9h0M171.6,845.3h0M160.8,876.9h0M173.2,854.8h0M167.6,876.8h0M200.6,878.6h0M157.1,882.8h0M193.8,897.8h0M167.9,871.8h0M153.1,877.1h0M184.2,869.0h0M208.5,871.9h0M195.1,867.0h0M166.2,895.3h0M158.1,878.1h0M189.1,896.4h0M164.5,856.2h0M155.1,880.0h0M161.7,888.1h0M159.3,884.9h0M197.7,858.8h0M166.9,887.7h0M175.8,849.9h0M181.7,890.9h0M171.9,852.3h0M170.7,886.2h0M182.1,885.9h0M164.3,885.0h0M179.4,874.9h0M172.6,891.0h0M164.2,886.0h0M164.3,877.1h0M191.4,887.7h0M198.0,881.7h0M160.7,883.7h0" fill="none" stroke="#4e3cb2" stroke-width="1.7" stroke-linecap="round"/>
<path d="M154.9,876.8h0M158.1,877.5h0M183.6,870.5h0M169.1,854.0h0M185.0,854.4h0M157.0,875.0h0M193.2,875.3h0M178.1,857.8h0M155.7,877.9h0M164.4,854.7h0M155.4,876.9h0M168.7,868.5h0M179.8,854.4h0M208.1,870.9h0M168.5,857.5h0M172.7,877.2h0M196.9,886.5h0M173.4,846.2h0M205.3,871.1h0M178.5,884.1h0M168.6,872.2h0M165.2,895.7h0M183.4,885.5h0M166.6,870.1h0M171.5,876.7h0M163.4,878.4h0M172.9,887.1h0M175.0,883.8h0M177.5,884.6h0M159.5,884.6h0M162.1,890.2h0M186.3,872.8h0M155.8,879.2h0M159.5,887.0h0M171.6,869.5h0M179.9,883.7h0M165.6,875.5h0" fill="none" stroke="#4230a4" stroke-width="2.3" stroke-linecap="round"/>
</g>
<circle cx="181.1" cy="872.2" r="29.5" fill="none" stroke="#1c1c1c" stroke-width="1"/>
<g clip-path="url(#wc11)">
<circle cx="246.14999999999998" cy="872.2" r="30" fill="#f4f0ee"/>
<circle cx="246.14999999999998" cy="872.2" r="30" fill="url(#wg11_0)" filter="url(#wf11_0)" transform="rotate(62 246.14999999999998 872.2)"/>
<circle cx="246.14999999999998" cy="872.2" r="30" fill="url(#wg11_1)" filter="url(#wf11_1)" transform="rotate(25 246.14999999999998 872.2)"/>
</g>
<circle cx="246.14999999999998" cy="872.2" r="29.5" fill="none" stroke="#1c1c1c" stroke-width="1"/>
<g clip-path="url(#wc12)">
<circle cx="311.2" cy="872.2" r="30" fill="#f6f1f0"/>
<ellipse cx="317.2" cy="870.2" rx="6" ry="10" fill="#a448c8" fill-opacity="0.75" filter="url(#bl2)"/>
<circle cx="311.2" cy="872.2" r="30" fill="url(#wg12_0)" filter="url(#wf12_0)" transform="rotate(99 311.2 872.2)"/>
<path d="M306.1,863.5h0M320.9,868.2h0M285.2,877.5h0M304.2,873.3h0M314.5,889.2h0M306.2,891.3h0M318.9,858.2h0M309.4,869.0h0M285.9,859.5h0M315.7,879.6h0M323.9,868.8h0M287.7,880.3h0M295.0,864.7h0M308.4,899.2h0M291.9,877.6h0M315.4,884.8h0M304.3,885.6h0M324.2,862.3h0M292.7,865.0h0M309.0,893.5h0M337.7,877.9h0M289.0,878.3h0M284.0,867.9h0M288.2,871.2h0M326.7,863.5h0M307.0,887.9h0M303.2,859.5h0M316.8,879.5h0M325.4,874.2h0M289.3,858.0h0M291.7,885.3h0M298.9,849.8h0M336.4,870.7h0M323.0,848.4h0M332.7,887.1h0M326.5,887.5h0M313.3,843.4h0M303.3,885.5h0M333.5,879.1h0M312.8,866.1h0M301.2,898.4h0M337.6,875.6h0M322.0,889.9h0M312.0,860.7h0M303.1,859.4h0M319.3,885.3h0M329.5,853.0h0M303.2,890.1h0M321.1,855.9h0M324.5,848.9h0M318.5,865.9h0M287.2,888.4h0M295.6,880.5h0M304.6,856.1h0M316.4,859.8h0M288.4,880.1h0M290.2,858.5h0M330.8,851.4h0M299.4,862.2h0M323.9,861.0h0M298.9,870.6h0M307.6,875.1h0M291.2,886.1h0M305.9,846.2h0M311.1,851.9h0M317.5,897.9h0M303.3,882.1h0M304.9,879.4h0M314.4,860.9h0M310.2,853.3h0M314.4,887.1h0M310.6,859.8h0M319.9,865.1h0M307.0,886.5h0M328.2,858.1h0M316.8,873.1h0M317.1,878.3h0M315.5,882.9h0M324.6,860.5h0M309.5,870.9h0M318.6,868.3h0M295.7,880.7h0M322.2,855.9h0M313.2,882.1h0M323.9,878.5h0M322.0,883.6h0M307.5,861.6h0M311.6,881.2h0M311.2,878.1h0M299.0,877.4h0M323.7,880.7h0M301.0,860.7h0M313.5,875.8h0M307.7,879.2h0" fill="none" stroke="#9448c0" stroke-width="1.3" stroke-linecap="round"/>
<path d="M291.6,879.8h0M298.6,886.9h0M300.1,885.2h0M327.5,867.5h0M288.3,869.5h0M294.7,882.2h0M304.9,865.8h0M339.0,868.7h0M318.0,845.5h0M324.7,855.1h0M315.1,881.7h0M324.0,893.6h0M321.7,864.0h0M332.9,889.0h0M302.0,845.0h0M325.0,864.6h0M306.8,860.0h0M322.1,855.1h0M325.9,884.5h0M329.8,866.4h0M332.8,866.6h0M327.7,872.4h0M316.2,899.3h0M314.1,883.6h0M300.1,887.0h0M326.3,892.6h0M300.0,850.1h0M294.8,889.2h0M327.4,862.9h0M317.2,898.7h0M323.3,878.4h0M319.6,873.6h0M291.2,882.7h0M301.9,849.6h0M310.8,846.7h0M304.3,846.8h0M318.5,867.0h0M313.4,881.8h0M324.4,875.3h0M311.9,883.6h0M313.4,871.7h0M315.8,873.8h0M315.7,863.1h0M317.1,864.0h0M308.5,880.9h0M324.1,881.4h0M312.5,859.9h0" fill="none" stroke="#8436b4" stroke-width="2.1" stroke-linecap="round"/>
<path d="M294.8,889.9h0M311.2,861.0h0M285.5,875.3h0M328.5,883.6h0M317.0,846.1h0M327.9,881.1h0M305.8,885.1h0M326.5,865.6h0M301.9,891.7h0M297.4,882.7h0M315.2,892.5h0M300.7,853.7h0M336.5,880.1h0M299.8,855.5h0M299.9,868.5h0M332.7,879.1h0M323.7,858.7h0M308.4,857.9h0M329.3,876.7h0M308.1,847.8h0M307.1,874.7h0M311.4,873.1h0M302.6,851.7h0M315.5,881.1h0M325.9,888.2h0M313.9,870.8h0M300.3,848.6h0M320.1,876.1h0M312.0,875.2h0M323.2,881.9h0M333.0,869.8h0M293.7,891.9h0M305.9,891.0h0M300.9,882.0h0M283.7,863.3h0M332.4,884.5h0M310.4,877.9h0M329.7,885.3h0M289.1,871.1h0M305.1,846.2h0M335.6,880.0h0M323.9,858.9h0M336.6,880.1h0M326.4,888.5h0M299.3,848.8h0M297.7,864.4h0M315.9,848.0h0M317.2,872.8h0M309.1,867.8h0M326.1,869.7h0M321.0,877.1h0M318.2,879.5h0M315.6,860.4h0M314.7,860.1h0M317.4,872.9h0M319.0,878.1h0M308.0,873.4h0M305.5,862.5h0M318.0,887.6h0M312.0,872.2h0M312.0,879.8h0M319.3,879.0h0M313.9,880.5h0M309.2,870.0h0M322.3,854.7h0M316.5,884.4h0M317.5,862.4h0M309.2,853.6h0M302.8,864.1h0M300.5,861.1h0M315.3,873.8h0M314.0,872.7h0" fill="none" stroke="#7428a8" stroke-width="2.9" stroke-linecap="round"/>
</g>
<circle cx="311.2" cy="872.2" r="29.5" fill="none" stroke="#1c1c1c" stroke-width="1"/>
<g clip-path="url(#wc13)">
<circle cx="376.25" cy="872.2" r="30" fill="#ece5ee"/>
<ellipse cx="368.25" cy="856.2" rx="20" ry="10" fill="#b080da" fill-opacity="0.65" filter="url(#bl3)"/>
<ellipse cx="355.25" cy="872.2" rx="6" ry="14" fill="#b080da" fill-opacity="0.45" filter="url(#bl3)"/>
<circle cx="376.25" cy="872.2" r="30" fill="url(#wg13_0)" filter="url(#wf13_0)" transform="rotate(46 376.25 872.2)"/>
<circle cx="376.25" cy="872.2" r="30" fill="url(#wg13_1)" filter="url(#wf13_1)" transform="rotate(99 376.25 872.2)"/>
</g>
<circle cx="376.25" cy="872.2" r="29.5" fill="none" stroke="#1c1c1c" stroke-width="1"/>
<g clip-path="url(#wc14)">
<circle cx="441.29999999999995" cy="872.2" r="30" fill="#f3f1f5"/>
<circle cx="441.29999999999995" cy="872.2" r="30" fill="#000" fill-opacity="0.46" filter="url(#wf14_0)" transform="rotate(83 441.29999999999995 872.2)"/>
<circle cx="441.29999999999995" cy="872.2" r="30" fill="url(#wg14_1)" filter="url(#wf14_1)" transform="rotate(46 441.29999999999995 872.2)"/>
</g>
<circle cx="441.29999999999995" cy="872.2" r="29.5" fill="none" stroke="#1c1c1c" stroke-width="1"/>
<g clip-path="url(#wc15)">
<circle cx="51.0" cy="936.7" r="30" fill="#f4eff2"/>
<ellipse cx="51.0" cy="940.7" rx="22" ry="16" fill="#c6a6e6" fill-opacity="0.42" filter="url(#bl3)"/>
<ellipse cx="49.0" cy="934.7" rx="10" ry="5" fill="#b486e0" fill-opacity="0.6" filter="url(#bl2)"/>
<ellipse cx="37.0" cy="948.7" rx="6" ry="5" fill="#b88ee0" fill-opacity="0.5" filter="url(#bl2)"/>
<ellipse cx="63.0" cy="950.7" rx="6" ry="5" fill="#b88ee0" fill-opacity="0.5" filter="url(#bl2)"/>
<circle cx="51.0" cy="936.7" r="30" fill="url(#wg15_0)" filter="url(#wf15_0)" transform="rotate(30 51.0 936.7)"/>
</g>
<circle cx="51.0" cy="936.7" r="29.5" fill="none" stroke="#1c1c1c" stroke-width="1"/>
<g clip-path="url(#wc16)">
<circle cx="116.05" cy="936.7" r="30" fill="#f5f3f3"/>
<circle cx="116.05" cy="936.7" r="30" fill="url(#wg16_0)" filter="url(#wf16_0)" transform="rotate(67 116.05 936.7)"/>
<path d="M129.4,928.4h0M93.6,931.2h0M109.9,931.2h0M141.0,923.9h0M123.4,926.5h0M131.3,944.6h0M141.3,938.7h0M119.6,927.6h0M103.9,938.3h0M112.4,935.2h0M138.8,932.3h0M124.6,918.1h0M122.5,947.8h0M125.4,929.1h0M123.0,961.6h0M106.3,945.2h0M92.7,935.3h0M91.3,949.5h0M96.7,954.0h0M113.5,951.1h0M100.6,959.8h0M111.5,952.2h0M104.6,927.1h0M99.8,937.0h0M109.9,949.9h0M130.0,930.5h0M144.0,938.6h0M104.6,941.0h0M120.6,913.5h0M142.4,925.7h0M101.0,960.2h0M139.5,923.6h0M137.5,943.9h0M94.5,952.1h0M101.3,924.1h0M111.5,909.1h0M94.5,936.5h0M140.1,937.9h0M114.9,943.6h0M98.9,944.0h0M117.2,915.5h0M136.2,926.2h0M107.2,948.4h0M142.3,941.2h0M117.9,946.9h0M107.2,941.1h0M116.6,929.1h0M129.3,925.5h0M129.4,920.7h0M112.7,943.1h0M120.8,915.6h0M98.1,915.3h0M108.4,920.3h0M102.2,926.7h0M98.0,931.4h0M103.3,934.4h0M115.5,921.2h0M124.4,925.1h0M108.0,937.0h0M121.2,932.9h0M104.4,927.1h0M96.8,933.5h0M91.6,937.8h0M106.2,928.8h0M111.1,936.6h0M110.2,916.8h0M102.7,917.6h0M112.8,936.5h0M110.7,915.6h0M103.0,921.4h0M114.9,938.2h0M121.8,919.3h0M93.6,926.7h0M106.9,925.3h0M99.7,941.1h0M100.3,927.1h0M100.0,953.5h0M94.9,920.5h0M99.6,932.3h0M89.9,930.3h0M90.8,932.6h0M124.6,919.9h0M113.9,922.2h0M112.6,933.2h0M126.5,923.9h0M98.3,945.9h0M124.2,915.0h0M110.5,908.3h0M94.4,930.8h0M114.0,940.1h0M116.8,928.2h0M122.9,937.7h0M102.6,937.4h0M104.9,925.0h0M98.1,924.8h0M111.4,911.6h0M102.1,929.3h0M131.1,942.6h0M123.0,944.7h0M131.8,941.1h0M113.9,950.1h0M124.1,953.7h0M115.4,938.2h0M119.3,937.7h0M127.3,937.6h0M131.4,951.0h0M119.2,947.1h0M123.8,938.9h0M119.1,937.4h0M128.0,947.8h0M104.9,940.8h0M124.1,941.0h0M113.2,935.1h0M100.0,935.4h0M102.3,949.8h0M97.9,931.7h0M98.1,954.6h0M99.4,952.0h0M95.9,938.0h0M90.7,935.4h0M98.2,937.4h0M96.9,948.8h0" fill="none" stroke="#8058b8" stroke-width="1.0" stroke-linecap="round"/>
<path d="M116.8,949.3h0M104.8,925.5h0M112.5,952.1h0M131.5,915.2h0M111.5,915.0h0M137.4,921.7h0M90.2,945.8h0M106.9,912.3h0M120.4,938.8h0M104.7,929.9h0M133.9,916.4h0M130.6,955.8h0M93.4,928.0h0M103.1,923.6h0M105.0,939.2h0M121.0,920.5h0M132.7,916.2h0M109.7,915.9h0M104.7,914.7h0M131.0,943.8h0M121.3,910.7h0M114.4,953.1h0M110.2,916.0h0M142.0,925.5h0M138.4,941.2h0M109.5,928.8h0M116.1,911.6h0M119.0,958.4h0M131.2,956.6h0M118.5,951.0h0M128.3,956.9h0M124.1,953.5h0M111.2,911.7h0M123.9,918.4h0M97.3,930.2h0M102.5,933.2h0M97.2,928.9h0M109.0,913.4h0M123.3,916.0h0M105.6,919.7h0M110.2,919.4h0M101.7,926.5h0M113.3,924.3h0M117.7,947.0h0M106.9,911.4h0M88.8,933.3h0M92.6,920.1h0M102.9,928.8h0M98.7,938.3h0M107.6,930.1h0M120.6,930.0h0M100.5,917.8h0M99.5,913.5h0M117.4,915.4h0M114.8,927.8h0M101.8,912.9h0M125.1,947.0h0M128.6,938.5h0M111.9,942.6h0M119.4,944.8h0M127.0,944.3h0M119.9,955.5h0M123.0,946.4h0M112.8,950.4h0M129.9,940.8h0M123.8,936.4h0M115.7,933.8h0M123.6,949.9h0M108.3,943.6h0M120.9,936.7h0M113.5,940.8h0M113.7,929.1h0M117.5,942.3h0M100.4,939.1h0M98.9,949.8h0M96.5,954.5h0M102.3,939.5h0M94.8,952.3h0M94.0,927.3h0M99.9,921.5h0M93.6,953.5h0M100.7,945.0h0M98.8,943.4h0" fill="none" stroke="#6c44ac" stroke-width="1.6" stroke-linecap="round"/>
<path d="M102.3,927.2h0M111.1,923.1h0M131.8,927.5h0M127.3,944.0h0M125.9,945.8h0M98.9,918.2h0M91.9,939.3h0M94.7,924.0h0M107.2,962.4h0M105.8,936.8h0M103.4,923.4h0M142.6,926.9h0M118.7,954.1h0M134.7,945.9h0M118.6,943.1h0M103.3,941.1h0M112.2,932.1h0M121.1,932.9h0M99.8,958.8h0M128.2,954.5h0M125.7,951.9h0M120.5,917.4h0M118.3,930.7h0M117.8,943.3h0M107.6,910.6h0M112.2,937.7h0M134.7,918.9h0M144.0,930.9h0M138.6,946.6h0M117.4,912.8h0M93.5,945.7h0M116.8,915.3h0M97.9,932.2h0M111.2,909.3h0M99.1,954.0h0M97.7,916.0h0M117.0,929.5h0M109.0,938.9h0M98.7,928.6h0M118.3,924.1h0M116.3,912.8h0M108.5,910.5h0M90.8,929.1h0M103.1,911.2h0M105.7,920.2h0M118.9,916.3h0M107.8,918.2h0M108.3,929.7h0M129.3,928.6h0M118.3,936.1h0M118.8,929.4h0M104.2,925.1h0M117.2,928.2h0M115.4,924.0h0M96.0,931.8h0M94.2,924.8h0M115.0,925.6h0M120.8,945.2h0M101.5,937.1h0M90.1,928.6h0M131.6,943.9h0M101.4,929.9h0M105.3,935.4h0M138.1,934.2h0M119.8,920.2h0M123.3,932.3h0M101.7,939.4h0M115.2,919.0h0M107.3,915.5h0M90.4,932.3h0M130.2,931.6h0M90.4,930.7h0M96.3,927.2h0M111.4,918.4h0M112.8,928.3h0M97.7,919.2h0M118.3,947.0h0M115.1,939.9h0M120.7,948.5h0M128.3,935.6h0M132.6,942.7h0M112.1,941.3h0M114.3,934.0h0M111.7,948.0h0M126.6,929.9h0M122.9,942.9h0M115.9,943.3h0M112.8,956.8h0M122.1,945.7h0M110.1,925.2h0M125.9,947.4h0M105.3,947.6h0M118.4,936.8h0M117.0,949.3h0M114.4,940.2h0M113.8,947.4h0M117.3,947.4h0M112.1,945.2h0M97.8,946.5h0M95.7,935.0h0M98.7,949.2h0M99.2,939.2h0M94.8,932.9h0M97.6,939.3h0M96.3,924.2h0M96.5,939.8h0M91.4,942.4h0M100.0,942.3h0M96.0,933.7h0M97.7,950.2h0M99.7,942.8h0" fill="none" stroke="#5a349c" stroke-width="2.3" stroke-linecap="round"/>
</g>
<circle cx="116.05" cy="936.7" r="29.5" fill="none" stroke="#1c1c1c" stroke-width="1"/>
<g clip-path="url(#wc17)">
<circle cx="181.1" cy="936.7" r="30" fill="#f3f0f6"/>
<circle cx="181.1" cy="936.7" r="30" fill="url(#wg17_0)" filter="url(#wf17_0)" transform="rotate(104 181.1 936.7)"/>
<path d="M189.2,959.3h0M185.9,963.5h0M178.1,942.3h0M169.2,910.7h0M164.8,918.4h0M184.0,921.3h0M171.8,917.5h0M167.8,913.2h0M172.0,926.0h0M195.1,941.6h0M174.7,935.2h0M164.3,932.5h0M182.1,933.5h0M193.9,941.3h0M174.7,961.4h0M189.8,914.7h0M161.5,920.3h0M173.0,912.2h0M196.5,946.5h0M202.2,927.3h0M178.7,926.9h0M181.5,933.7h0M174.6,958.8h0M201.0,938.9h0M200.2,927.2h0M173.7,937.0h0M176.8,915.2h0M198.1,944.3h0M163.0,954.3h0M195.9,938.3h0M187.4,933.6h0M188.5,938.3h0M188.8,936.1h0M181.0,953.7h0M198.5,945.5h0M174.8,963.5h0M204.5,921.6h0M183.5,942.2h0M192.5,938.3h0M176.1,926.8h0M156.5,950.0h0M186.7,946.9h0M167.0,918.7h0M190.7,954.8h0M205.8,923.2h0M204.4,942.5h0M187.2,964.3h0M205.2,937.7h0M206.0,932.1h0M166.7,934.0h0M164.1,916.3h0M171.5,941.4h0M171.4,921.9h0M181.2,937.6h0M173.5,938.2h0M180.7,941.1h0M190.0,921.9h0M178.5,930.2h0M172.2,921.5h0M184.8,920.8h0M179.8,918.5h0M167.9,928.4h0M179.9,941.2h0M161.1,925.3h0M167.2,933.9h0M172.6,936.8h0M172.9,929.1h0M172.1,926.6h0M175.6,930.2h0M168.9,946.2h0M170.2,941.5h0M169.3,937.5h0M193.3,935.6h0M182.0,935.0h0M156.1,928.4h0M195.9,920.8h0M184.1,923.9h0M177.4,931.6h0M162.3,941.8h0M171.5,913.4h0M166.6,922.4h0M157.4,932.9h0M184.4,931.5h0M169.6,936.4h0M180.9,910.2h0M161.7,933.1h0M178.2,933.5h0M179.6,925.8h0M181.4,939.6h0M177.5,936.9h0M162.9,925.6h0M169.5,933.5h0M179.7,923.2h0M169.1,929.9h0M166.0,939.0h0M187.4,948.3h0M175.3,926.7h0M178.1,917.8h0M179.1,910.7h0M181.7,940.2h0M188.5,935.3h0M176.4,940.1h0M193.9,957.9h0M179.9,941.1h0M188.5,933.2h0M183.2,939.8h0M191.4,938.0h0M184.8,956.0h0M188.6,962.9h0M186.1,923.3h0M173.6,945.1h0M184.3,928.3h0M187.1,945.6h0M192.5,935.8h0M194.0,944.8h0M177.9,938.8h0M179.7,937.9h0M197.5,941.4h0M191.6,947.4h0M165.8,949.7h0M187.8,951.7h0M196.3,933.7h0M176.4,922.9h0M194.8,946.5h0M178.2,949.6h0M188.1,939.6h0M193.0,938.1h0M186.9,941.5h0M186.8,949.4h0M196.8,938.2h0M194.0,948.9h0M176.0,937.1h0M173.3,947.5h0M191.9,939.6h0M196.9,937.9h0M190.8,949.7h0M188.3,957.0h0M187.3,947.0h0M180.3,937.1h0M187.5,938.7h0M188.1,948.6h0M189.8,939.6h0M176.1,937.3h0M195.6,957.5h0M188.4,919.6h0M193.9,929.5h0M200.6,923.0h0M179.2,934.6h0M207.9,931.3h0M183.3,924.3h0M195.5,928.3h0M185.7,925.5h0M201.6,928.3h0M187.7,921.5h0M201.4,926.5h0M190.4,924.7h0M189.0,932.4h0M179.4,924.9h0M201.8,926.3h0M197.7,921.8h0M193.0,919.1h0M191.5,933.4h0M196.8,921.6h0M191.6,922.5h0" fill="none" stroke="#7a66c8" stroke-width="1.0" stroke-linecap="round"/>
<path d="M189.8,924.9h0M162.7,955.3h0M194.5,941.4h0M175.1,927.7h0M202.6,918.1h0M180.0,937.4h0M161.9,929.8h0M200.1,930.9h0M200.3,951.9h0M182.2,917.3h0M196.0,935.3h0M159.2,941.4h0M204.2,935.2h0M175.3,957.0h0M190.7,931.8h0M152.6,936.3h0M205.4,952.5h0M195.6,914.2h0M193.5,940.6h0M170.0,915.0h0M189.5,915.2h0M165.5,956.6h0M202.2,935.7h0M170.6,939.9h0M180.2,960.7h0M166.9,915.3h0M183.5,935.7h0M196.5,919.2h0M186.6,924.2h0M188.9,930.6h0M189.2,954.1h0M196.6,953.3h0M203.1,946.3h0M191.6,922.7h0M196.0,936.0h0M187.4,931.9h0M181.0,959.8h0M184.0,958.6h0M182.2,939.4h0M178.4,934.1h0M176.8,954.2h0M165.7,914.7h0M170.0,929.8h0M179.6,921.6h0M181.6,922.0h0M175.4,927.6h0M169.4,930.9h0M174.8,944.0h0M180.6,919.9h0M160.3,931.8h0M187.1,936.3h0M175.1,919.8h0M166.2,931.8h0M167.1,935.8h0M180.1,915.2h0M163.4,954.7h0M178.6,926.2h0M175.7,925.7h0M185.3,916.8h0M164.3,916.2h0M180.4,941.5h0M173.5,944.1h0M163.5,931.8h0M169.8,932.5h0M182.4,940.0h0M181.0,939.0h0M182.0,927.1h0M185.8,944.6h0M168.9,925.8h0M170.5,934.3h0M154.4,939.5h0M161.2,937.0h0M178.4,923.0h0M180.2,921.9h0M167.4,928.1h0M183.3,929.1h0M187.7,915.0h0M176.4,922.5h0M157.4,921.1h0M177.9,955.6h0M190.4,937.0h0M173.6,957.8h0M189.5,946.3h0M192.7,934.7h0M177.9,942.9h0M190.0,958.3h0M208.7,940.8h0M187.2,937.4h0M192.5,946.7h0M198.9,940.5h0M180.0,935.8h0M199.0,942.4h0M186.3,951.8h0M173.6,925.2h0M196.2,939.0h0M185.9,934.7h0M172.4,942.3h0M186.1,941.2h0M185.1,940.9h0M175.9,928.1h0M196.9,951.7h0M199.1,950.9h0M194.5,952.0h0M199.4,937.1h0M192.8,946.0h0M184.2,940.5h0M196.1,944.3h0M196.7,928.3h0M193.4,915.9h0M176.9,924.5h0M198.4,925.6h0M192.8,915.3h0M193.1,921.0h0M192.6,917.3h0M197.1,930.1h0M196.5,930.4h0M186.2,919.3h0M190.1,913.5h0M189.5,938.3h0M186.0,923.6h0M188.4,919.4h0M202.3,928.8h0M188.5,918.6h0M197.0,922.8h0M197.2,920.5h0M196.9,925.1h0" fill="none" stroke="#6450ba" stroke-width="1.7" stroke-linecap="round"/>
<path d="M185.5,914.3h0M193.2,946.2h0M190.2,911.8h0M193.9,943.2h0M169.0,912.0h0M167.9,944.4h0M196.8,961.0h0M171.1,942.8h0M179.7,960.5h0M157.4,927.6h0M185.4,912.5h0M170.1,948.0h0M184.3,911.8h0M173.7,933.8h0M163.9,934.8h0M195.3,922.7h0M184.4,920.5h0M197.8,942.9h0M170.8,928.3h0M194.0,937.2h0M208.0,940.8h0M181.3,949.3h0M169.5,942.7h0M181.1,922.1h0M155.1,939.7h0M207.4,926.6h0M199.1,926.3h0M160.1,932.9h0M167.9,941.4h0M171.8,940.7h0M172.7,921.5h0M176.2,916.4h0M166.2,929.1h0M174.4,917.8h0M168.1,915.7h0M174.7,912.1h0M174.7,922.6h0M178.7,940.6h0M154.5,935.5h0M165.7,941.8h0M176.3,924.4h0M161.5,922.7h0M186.0,930.1h0M160.4,922.7h0M180.0,916.7h0M169.6,919.3h0M155.9,923.6h0M185.3,949.9h0M168.2,923.5h0M183.0,948.1h0M164.1,930.8h0M182.6,946.6h0M169.8,938.7h0M167.3,942.9h0M186.5,923.5h0M171.2,936.1h0M182.3,923.9h0M185.6,934.5h0M175.0,958.8h0M186.9,923.5h0M189.0,941.3h0M162.4,925.2h0M178.7,942.4h0M171.4,953.5h0M173.3,949.9h0M196.4,943.4h0M184.7,930.7h0M198.7,936.6h0M201.6,925.3h0M183.1,953.3h0M186.3,955.5h0M174.6,945.6h0M181.6,944.9h0M193.9,953.5h0M190.0,941.7h0M184.2,939.5h0M192.0,947.0h0M186.7,959.5h0M185.7,940.9h0M192.1,937.6h0M184.4,955.3h0M199.5,926.4h0M193.9,939.5h0M192.6,957.5h0M193.8,945.6h0M173.3,956.2h0M197.3,933.0h0M183.0,944.6h0M184.1,936.0h0M197.2,935.8h0M196.3,930.5h0M189.2,921.2h0M192.6,928.7h0M182.9,924.8h0M199.6,926.9h0M191.4,922.3h0M186.4,919.5h0M184.5,926.8h0M196.2,917.4h0M179.8,911.5h0M184.1,921.2h0M191.7,925.4h0" fill="none" stroke="#4e3aa8" stroke-width="2.5" stroke-linecap="round"/>
</g>
<circle cx="181.1" cy="936.7" r="29.5" fill="none" stroke="#1c1c1c" stroke-width="1"/>
<g clip-path="url(#wc18)">
<circle cx="246.14999999999998" cy="936.7" r="30" fill="#f5f4ed"/>
<circle cx="246.14999999999998" cy="936.7" r="30" fill="url(#wg18_0)" filter="url(#wf18_0)" transform="rotate(51 246.14999999999998 936.7)"/>
</g>
<circle cx="246.14999999999998" cy="936.7" r="29.5" fill="none" stroke="#1c1c1c" stroke-width="1"/>
<g clip-path="url(#wc19)">
<circle cx="311.2" cy="936.7" r="30" fill="#f6f2ef"/>
<ellipse cx="307.2" cy="942.7" rx="10" ry="7" fill="#a04cc8" fill-opacity="0.7" filter="url(#bl3)"/>
<circle cx="311.2" cy="936.7" r="30" fill="url(#wg19_0)" filter="url(#wf19_0)" transform="rotate(88 311.2 936.7)"/>
<path d="M299.9,945.6h0M324.4,921.6h0M297.2,920.0h0M337.9,928.2h0M318.3,921.0h0M315.7,938.2h0M320.3,955.8h0M304.6,950.0h0M305.8,934.4h0M298.7,928.0h0M317.5,955.7h0M300.3,938.1h0M329.6,942.4h0M311.5,928.7h0M300.5,918.4h0M289.1,947.7h0M301.0,944.7h0M316.6,941.1h0M284.4,933.3h0M302.2,939.2h0M291.5,945.9h0M335.5,948.1h0M293.4,916.6h0M328.6,929.4h0M284.3,930.2h0M287.9,950.7h0M292.6,935.1h0M296.3,960.5h0M318.6,953.6h0M303.2,940.3h0M330.8,938.1h0M314.8,929.0h0M322.6,960.5h0M311.9,936.9h0M308.6,959.7h0M292.8,923.2h0M308.5,943.6h0M294.4,927.8h0M330.2,918.0h0M285.9,947.6h0M301.6,926.3h0M311.2,949.9h0M333.1,945.1h0M313.2,956.9h0M304.3,961.2h0M302.6,941.9h0M284.4,935.6h0M284.8,932.2h0M316.8,944.1h0M308.1,911.0h0M317.8,944.9h0M308.3,934.7h0M318.8,936.3h0M313.4,960.4h0M305.0,940.8h0M306.4,946.7h0M295.4,947.6h0M309.7,948.0h0M291.6,941.0h0M302.0,952.1h0M307.5,937.6h0M318.0,932.0h0M314.2,940.4h0M288.5,940.3h0M307.5,934.6h0M323.8,943.7h0M313.5,926.8h0M316.6,948.2h0M317.6,940.7h0M315.3,929.9h0M313.7,938.0h0M298.9,949.0h0M304.1,945.8h0M302.9,942.2h0M288.4,936.1h0M302.0,924.9h0M301.8,945.6h0M298.6,946.2h0M315.5,957.6h0M308.8,946.3h0M295.2,941.1h0M295.3,950.9h0M298.4,949.0h0M315.8,946.6h0M308.4,934.9h0M286.1,934.2h0" fill="none" stroke="#9a50c0" stroke-width="1.3" stroke-linecap="round"/>
<path d="M287.0,940.8h0M297.4,922.9h0M286.9,940.2h0M309.2,912.6h0M312.0,909.7h0M309.6,950.0h0M282.6,938.6h0M311.3,963.4h0M306.7,930.4h0M312.3,928.8h0M302.0,958.2h0M296.0,959.5h0M295.9,950.6h0M327.6,957.8h0M327.8,913.8h0M306.5,964.1h0M330.1,955.3h0M307.9,908.8h0M305.8,927.9h0M317.6,922.4h0M298.3,956.6h0M297.0,923.3h0M323.4,911.4h0M323.2,920.7h0M319.0,939.4h0M324.2,955.1h0M317.6,962.6h0M315.4,944.3h0M312.8,952.1h0M322.3,917.0h0M317.8,922.8h0M331.9,943.0h0M319.9,936.3h0M318.6,949.2h0M313.7,934.0h0M329.9,938.1h0M321.0,942.9h0M328.3,929.3h0M310.8,939.5h0M304.2,945.0h0M289.4,935.5h0M314.8,933.3h0M295.3,924.8h0M297.6,940.5h0M321.5,941.6h0M312.9,945.4h0M317.6,927.4h0M310.2,935.7h0M300.4,951.1h0M294.6,935.6h0M305.7,944.2h0M297.9,948.6h0M305.6,925.3h0M317.4,931.7h0M303.7,941.5h0M316.6,952.2h0M299.3,947.0h0M321.4,952.9h0M319.7,959.2h0M307.3,946.3h0M300.8,923.9h0M311.5,913.9h0M303.4,963.0h0M289.3,944.6h0M311.6,956.6h0" fill="none" stroke="#8a3cb4" stroke-width="2.1" stroke-linecap="round"/>
<path d="M303.2,940.9h0M301.5,952.0h0M324.1,913.1h0M286.3,940.5h0M324.5,945.9h0M297.6,931.8h0M303.4,957.6h0M305.6,914.1h0M297.9,913.0h0M331.8,951.0h0M327.1,948.6h0M310.7,946.3h0M335.1,934.3h0M334.4,941.6h0M331.4,955.4h0M334.1,937.1h0M307.6,948.3h0M313.1,922.2h0M307.5,909.3h0M301.9,956.1h0M304.6,954.0h0M327.6,924.2h0M333.3,935.2h0M327.7,929.0h0M310.2,941.9h0M295.4,953.4h0M339.3,940.9h0M329.3,951.7h0M318.4,956.7h0M338.2,927.0h0M295.3,919.7h0M321.8,926.2h0M311.1,947.5h0M318.1,949.2h0M305.7,952.6h0M288.1,935.9h0M294.7,946.6h0M302.6,932.2h0M305.2,945.9h0M302.5,947.3h0M290.8,925.9h0M313.1,934.9h0M326.3,928.8h0M294.1,943.5h0M312.2,941.4h0M316.9,954.8h0M305.3,957.1h0M303.9,946.1h0M302.9,925.8h0M289.8,940.5h0M314.3,956.8h0M308.7,919.3h0M306.6,947.8h0M298.4,941.8h0M307.6,954.2h0M321.5,947.2h0M293.1,948.4h0M303.9,943.0h0M310.2,949.7h0" fill="none" stroke="#7a2ca8" stroke-width="2.8" stroke-linecap="round"/>
</g>
<circle cx="311.2" cy="936.7" r="29.5" fill="none" stroke="#1c1c1c" stroke-width="1"/>
<g clip-path="url(#wc20)">
<circle cx="376.25" cy="936.7" r="30" fill="#f0ecf1"/>
<ellipse cx="380.25" cy="917.7" rx="20" ry="6" fill="#c4a2e0" fill-opacity="0.6" filter="url(#bl3)"/>
<circle cx="376.25" cy="936.7" r="30" fill="url(#wg20_0)" filter="url(#wf20_0)" transform="rotate(35 376.25 936.7)"/>
<circle cx="376.25" cy="936.7" r="30" fill="url(#wg20_1)" filter="url(#wf20_1)" transform="rotate(88 376.25 936.7)"/>
</g>
<circle cx="376.25" cy="936.7" r="29.5" fill="none" stroke="#1c1c1c" stroke-width="1"/>
<g clip-path="url(#wc21)">
<circle cx="441.29999999999995" cy="936.7" r="30" fill="#f3f1f5"/>
<circle cx="441.29999999999995" cy="936.7" r="30" fill="#000" fill-opacity="0.46" filter="url(#wf21_0)" transform="rotate(72 441.29999999999995 936.7)"/>
<circle cx="441.29999999999995" cy="936.7" r="30" fill="url(#wg21_1)" filter="url(#wf21_1)" transform="rotate(35 441.29999999999995 936.7)"/>
</g>
<circle cx="441.29999999999995" cy="936.7" r="29.5" fill="none" stroke="#1c1c1c" stroke-width="1"/>
<g clip-path="url(#wc22)">
<circle cx="51.0" cy="1001.2" r="30" fill="#efefe7"/>
<circle cx="51.0" cy="1001.2" r="30" fill="url(#wg22_0)" filter="url(#wf22_0)" transform="rotate(19 51.0 1001.2)"/>
</g>
<circle cx="51.0" cy="1001.2" r="29.5" fill="none" stroke="#1c1c1c" stroke-width="1"/>
<g clip-path="url(#wc23)">
<circle cx="116.05" cy="1001.2" r="30" fill="#f1f0eb"/>
<circle cx="116.05" cy="1001.2" r="30" fill="url(#wg23_0)" filter="url(#wf23_0)" transform="rotate(56 116.05 1001.2)"/>
<path d="M102.5,1002.4h0M131.1,1010.4h0M113.3,1017.2h0M111.4,1009.4h0M100.1,1019.7h0M109.3,995.3h0M110.3,1027.2h0M113.6,1009.5h0M91.9,1005.3h0M114.0,975.7h0M96.4,1013.9h0M134.5,990.6h0M116.6,1027.2h0M103.7,991.9h0M114.3,998.8h0M107.9,978.4h0M129.5,1022.0h0M130.6,1018.2h0M101.9,1020.1h0M94.7,1008.6h0M127.1,991.9h0M131.5,983.6h0M118.4,983.9h0M120.7,1002.8h0M118.6,1007.0h0M96.8,982.6h0M110.1,996.9h0M98.3,1003.9h0M100.4,1004.1h0M114.6,1004.6h0M118.0,989.4h0M114.7,981.8h0M116.6,992.8h0M97.4,994.0h0" fill="none" stroke="#9a78c4" stroke-width="0.9" stroke-linecap="round"/>
<path d="M89.7,989.2h0M87.4,997.4h0M114.0,992.6h0M118.3,1027.4h0M140.5,993.0h0M117.3,972.9h0M128.4,987.5h0M135.9,994.2h0M117.2,1007.8h0M93.9,992.3h0M114.2,993.5h0M119.1,989.9h0M93.8,1008.8h0M99.7,980.1h0M132.8,1014.7h0M127.9,978.9h0M101.0,1003.9h0M106.3,998.7h0M104.6,993.3h0M101.8,997.3h0M97.9,1002.4h0M103.2,978.4h0M101.4,992.4h0M111.9,990.8h0M114.3,993.5h0M126.1,985.5h0M123.6,990.6h0M112.2,996.3h0" fill="none" stroke="#8660b8" stroke-width="1.3" stroke-linecap="round"/>
<path d="M109.0,1009.4h0M118.0,1029.6h0M114.8,977.4h0M104.6,996.2h0M130.8,1003.2h0M101.2,976.9h0M107.2,1016.8h0M139.8,1000.9h0M130.3,1022.7h0M97.9,1016.4h0M136.9,1010.1h0M132.0,980.8h0M107.6,980.7h0M131.6,987.5h0M121.4,978.2h0M114.1,1004.3h0M98.4,1018.4h0M141.6,1005.9h0M102.4,994.8h0M105.1,991.0h0M110.8,996.9h0M101.5,994.8h0M98.0,995.0h0M119.8,993.4h0M105.5,987.4h0M110.3,981.0h0M96.2,1007.8h0M111.6,997.9h0M99.2,995.5h0M112.2,990.7h0M91.0,994.0h0" fill="none" stroke="#7650b0" stroke-width="1.7" stroke-linecap="round"/>
</g>
<circle cx="116.05" cy="1001.2" r="29.5" fill="none" stroke="#1c1c1c" stroke-width="1"/>
<g clip-path="url(#wc24)">
<circle cx="181.1" cy="1001.2" r="30" fill="#f3f2ef"/>
<path d="M167.1,997.4h0M190.9,1017.6h0M172.4,995.3h0M201.8,1008.5h0M162.8,1019.8h0M157.2,1013.1h0M176.4,1019.0h0M206.4,1006.8h0M186.2,1001.5h0M167.2,983.0h0M186.3,974.7h0M160.1,1002.7h0M204.7,1001.5h0M176.2,989.4h0M167.2,1011.0h0M157.3,1015.4h0M184.9,996.9h0M172.8,1002.5h0M186.8,996.2h0M155.3,1004.6h0M179.3,985.7h0M175.5,997.9h0M183.3,1019.0h0M172.9,982.1h0M181.0,977.6h0M173.1,977.5h0M183.1,982.9h0M173.2,973.4h0M160.6,989.8h0M173.1,981.4h0M172.1,977.6h0M171.7,989.3h0M177.7,982.2h0M170.5,977.6h0M166.9,981.2h0M171.9,983.9h0M170.1,981.0h0M176.3,985.1h0M178.9,974.1h0M174.8,985.4h0M168.0,983.1h0M172.8,982.6h0M181.2,973.3h0M183.7,977.1h0M173.8,982.7h0M181.9,984.7h0M181.6,984.3h0M171.1,975.3h0M174.1,991.8h0M172.3,981.6h0M161.0,980.7h0M171.4,981.8h0M170.3,981.0h0M202.5,985.5h0M174.8,975.9h0M165.8,977.5h0M164.8,1017.6h0M164.1,1011.1h0M168.4,1013.1h0M177.4,1007.3h0M154.3,1002.8h0M161.7,1003.4h0M168.1,1004.4h0M154.6,995.4h0M169.6,1001.6h0M181.7,1014.6h0M175.7,1001.4h0M171.1,993.1h0M153.5,1009.8h0M168.8,1008.2h0M164.5,1017.4h0M177.1,1017.8h0M168.9,1023.8h0M170.5,1021.2h0M172.1,1019.1h0M179.3,1015.4h0M176.5,1023.0h0M183.5,1015.3h0M177.8,1023.9h0M175.1,1020.5h0M165.9,1025.9h0M174.0,1018.4h0M162.5,1013.7h0M172.1,1026.1h0M175.1,1027.4h0M172.3,1018.3h0M176.2,1019.6h0M164.1,1021.2h0M183.1,1029.9h0M177.2,1020.3h0M181.8,1025.2h0M176.5,1017.2h0M158.3,1017.4h0M169.3,1020.0h0M188.1,994.5h0M197.4,990.8h0M186.8,994.1h0M194.5,988.1h0M190.6,986.4h0M199.1,996.3h0M183.5,989.4h0M179.2,982.8h0" fill="none" stroke="#8674cc" stroke-width="1.0" stroke-linecap="round"/>
<path d="M204.4,1005.2h0M201.9,1009.2h0M155.2,1007.8h0M204.5,997.2h0M189.2,1018.1h0M169.9,1019.1h0M199.5,990.5h0M190.5,1026.3h0M198.1,1000.4h0M193.7,1024.9h0M169.5,996.0h0M162.0,991.0h0M179.0,984.3h0M189.6,982.7h0M183.5,987.4h0M176.1,985.2h0M178.7,989.1h0M172.2,984.6h0M184.7,982.5h0M179.0,983.8h0M167.6,981.0h0M178.4,985.3h0M172.6,978.6h0M158.9,984.4h0M182.6,983.5h0M168.8,987.4h0M171.7,989.0h0M189.7,978.9h0M164.4,1007.2h0M159.7,993.2h0M169.8,1011.2h0M167.8,1000.9h0M172.6,1007.1h0M166.4,1005.9h0M164.9,1010.2h0M173.8,1003.8h0M166.6,1012.3h0M162.1,1012.1h0M166.1,1010.2h0M172.1,1010.6h0M164.2,997.8h0M164.9,1009.7h0M162.8,1006.5h0M175.9,999.3h0M171.6,1012.7h0M168.3,1024.1h0M164.2,1016.4h0M170.2,1015.2h0M176.6,1024.4h0M162.2,1019.8h0M183.3,1015.7h0M158.8,1019.6h0M164.5,1020.3h0M163.1,1022.0h0M170.4,1011.8h0M165.2,1021.1h0M169.2,1023.0h0M174.5,1018.5h0M185.2,1012.0h0M179.3,1021.3h0M177.8,1023.3h0M169.1,1024.1h0M175.6,1022.7h0M179.2,1020.0h0M177.4,1021.9h0M181.3,1018.5h0M169.2,1020.6h0M172.9,1018.5h0M200.6,993.1h0M195.2,996.0h0M190.6,989.0h0M179.2,987.9h0M190.6,986.5h0" fill="none" stroke="#6a56c0" stroke-width="1.7" stroke-linecap="round"/>
<path d="M187.1,992.0h0M194.4,1011.6h0M182.3,1017.7h0M193.6,1006.2h0M176.7,973.2h0M180.0,997.1h0M190.6,1023.9h0M182.1,1000.5h0M204.6,987.3h0M190.2,984.3h0M173.9,977.4h0M173.9,974.3h0M164.6,994.0h0M172.3,989.4h0M174.6,986.1h0M173.7,985.6h0M171.3,973.9h0M178.1,984.2h0M170.3,979.1h0M179.3,980.7h0M180.3,979.6h0M182.1,991.3h0M181.0,981.7h0M188.3,988.2h0M183.5,978.8h0M173.7,978.2h0M175.9,985.5h0M164.2,1022.6h0M166.2,1007.6h0M168.2,1009.5h0M166.2,1010.9h0M162.5,1007.0h0M178.6,1005.3h0M161.8,1005.7h0M168.0,1012.5h0M163.8,1007.3h0M177.0,993.3h0M165.7,1008.8h0M168.6,1002.0h0M163.4,1011.7h0M174.3,990.5h0M156.7,991.3h0M177.7,1022.2h0M165.9,1022.5h0M161.8,1019.8h0M168.2,1022.8h0M164.8,1020.8h0M174.8,1015.9h0M167.2,1026.0h0M168.1,1016.5h0M174.9,1008.9h0M186.4,985.4h0M196.5,989.9h0M183.9,984.9h0M191.7,984.4h0M187.3,991.8h0M176.6,999.7h0M196.2,1000.6h0" fill="none" stroke="#5440b2" stroke-width="2.5" stroke-linecap="round"/>
</g>
<circle cx="181.1" cy="1001.2" r="29.5" fill="none" stroke="#1c1c1c" stroke-width="1"/>
<g clip-path="url(#wc25)">
<circle cx="246.14999999999998" cy="1001.2" r="30" fill="#f1f1e9"/>
</g>
<circle cx="246.14999999999998" cy="1001.2" r="29.5" fill="none" stroke="#1c1c1c" stroke-width="1"/>
<g clip-path="url(#wc26)">
<circle cx="311.2" cy="1001.2" r="30" fill="#e9ecdf"/>
<circle cx="311.2" cy="1001.2" r="30" fill="url(#wg26_0)" filter="url(#wf26_0)" transform="rotate(77 311.2 1001.2)"/>
</g>
<circle cx="311.2" cy="1001.2" r="29.5" fill="none" stroke="#1c1c1c" stroke-width="1"/>
<g clip-path="url(#wc27)">
<circle cx="376.25" cy="1001.2" r="30" fill="#f5f3e9"/>
</g>
<circle cx="376.25" cy="1001.2" r="29.5" fill="none" stroke="#1c1c1c" stroke-width="1"/>
<g clip-path="url(#wc28)">
<circle cx="441.29999999999995" cy="1001.2" r="30" fill="#f4f3f3"/>
<circle cx="441.29999999999995" cy="1001.2" r="30" fill="#000" fill-opacity="0.42" filter="url(#wf28_0)" transform="rotate(61 441.29999999999995 1001.2)"/>
<circle cx="441.29999999999995" cy="1001.2" r="30" fill="url(#wg28_1)" filter="url(#wf28_1)" transform="rotate(24 441.29999999999995 1001.2)"/>
</g>
<circle cx="441.29999999999995" cy="1001.2" r="29.5" fill="none" stroke="#1c1c1c" stroke-width="1"/>
</g>
</svg>
</body></html>
